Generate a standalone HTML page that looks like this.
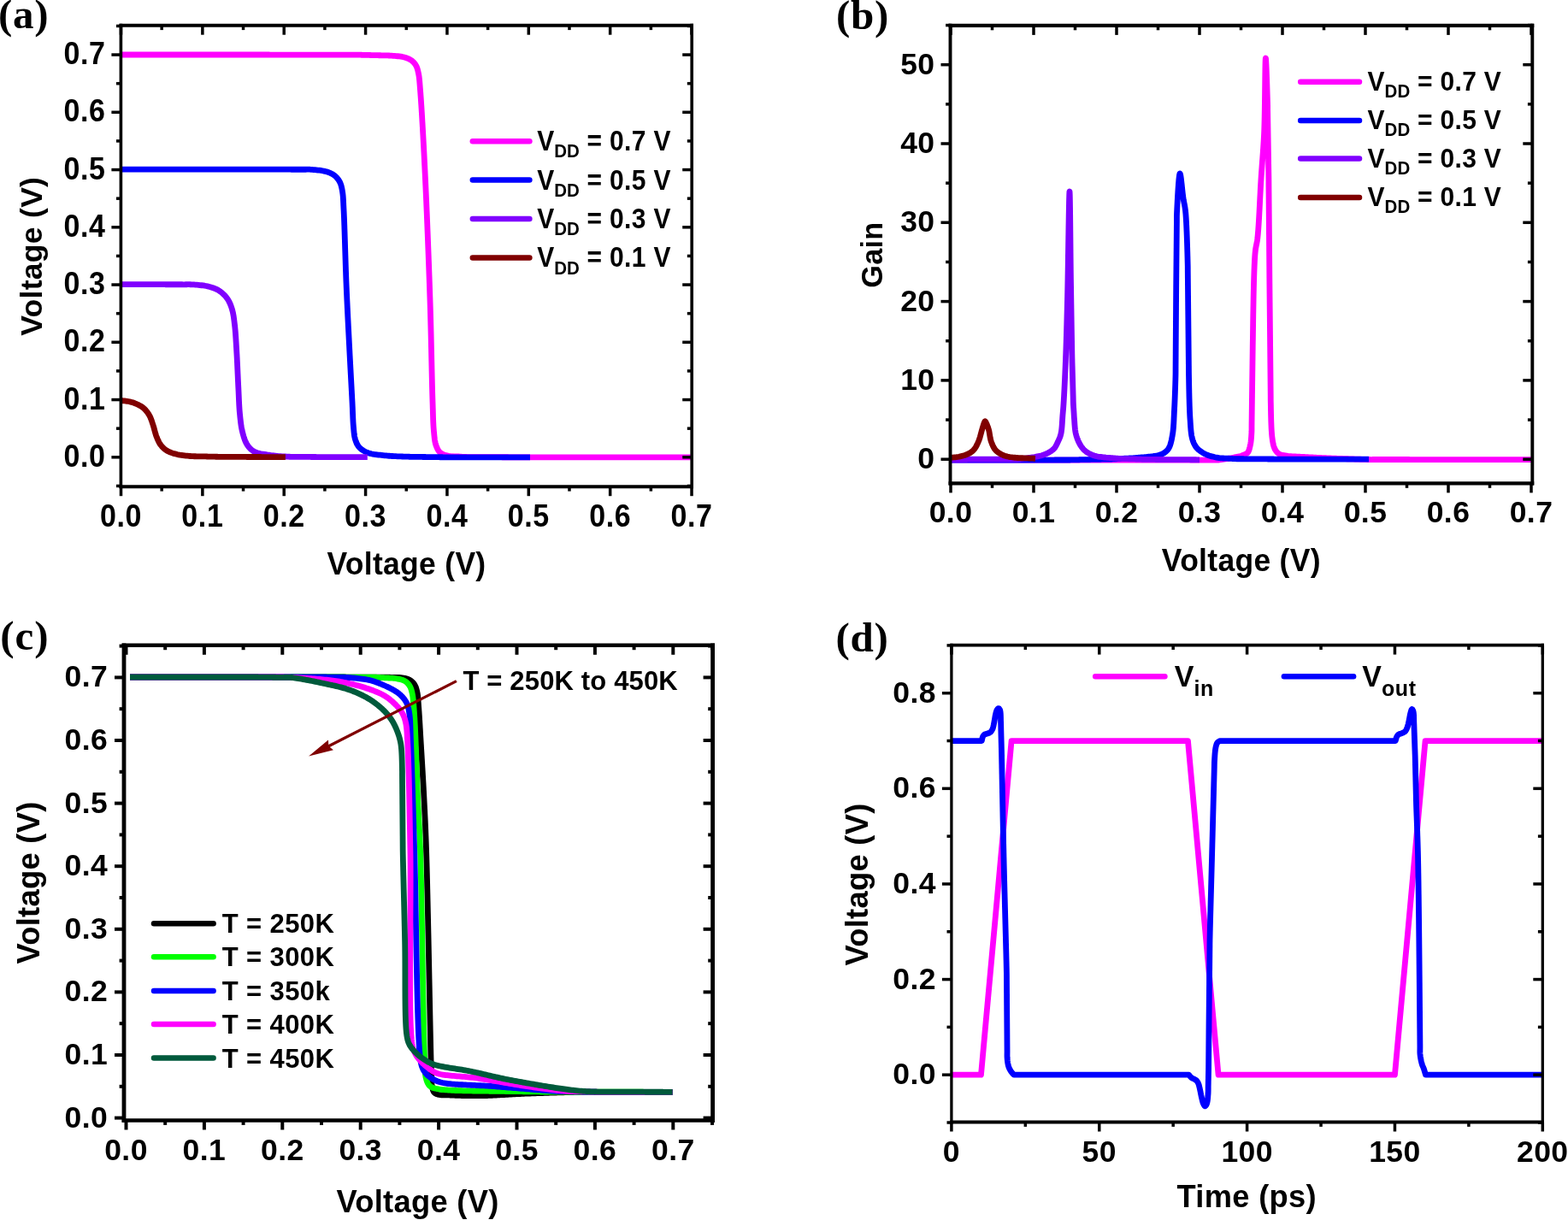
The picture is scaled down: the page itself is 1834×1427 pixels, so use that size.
<!DOCTYPE html>
<html><head><meta charset="utf-8"><title>Figure</title>
<style>html,body{margin:0;padding:0;background:#fff;}svg{display:block;}</style>
</head><body>
<svg width="1834" height="1427" viewBox="0 0 1834 1427">
<rect width="1834" height="1427" fill="#fff"/>
<clipPath id="ca"><rect x="141.4" y="29.7" width="667.8" height="539.5"/></clipPath>
<g clip-path="url(#ca)">
<path d="M141.5,64 L142.89,64 L144.28,64 L145.67,64 L147.06,64 L148.45,64 L149.84,64 L151.23,64 L152.62,64 L154.01,64 L155.4,64 L156.79,64 L158.18,64 L159.57,64 L160.96,64 L162.36,64 L163.75,64 L165.14,64 L166.53,64 L167.92,64 L169.31,64 L170.7,64 L172.09,64 L173.48,64 L174.87,64 L176.26,64 L177.65,64 L179.04,64 L180.43,64 L181.82,64 L183.21,64 L184.6,64 L185.99,64 L187.38,64 L188.77,64 L190.16,64 L191.55,64 L192.94,64 L194.33,64 L195.72,64 L197.11,64 L198.5,64 L199.89,64 L201.29,64 L202.68,64 L204.07,64 L205.46,64 L206.85,64 L208.24,64 L209.63,64 L211.02,64 L212.41,64 L213.8,64 L215.19,64 L216.58,64 L217.97,64 L219.36,64 L220.75,64 L222.14,64 L223.53,64 L224.92,64 L226.31,64 L227.7,64 L229.09,64 L230.48,64 L231.87,64 L233.26,64 L234.65,64 L236.04,64 L237.43,64 L238.82,64 L240.21,64 L241.61,64 L243,64 L244.39,64 L245.78,64 L247.17,64 L248.56,64 L249.95,64 L251.34,64 L252.73,64 L254.12,64 L255.51,64 L256.9,64 L258.29,64 L259.68,64 L261.07,64 L262.46,64 L263.85,64 L265.24,64 L266.63,64 L268.02,64 L269.41,64 L270.8,64 L272.19,64 L273.58,64 L274.97,64 L276.36,64 L277.75,64 L279.14,64 L280.54,64 L281.93,64 L283.32,64 L284.71,64 L286.1,64 L287.49,64 L288.88,64 L290.27,64 L291.66,64 L293.05,64 L294.45,64 L295.84,64 L297.23,64 L298.62,64 L300,64 L301.34,64 L302.68,64 L304.01,64.01 L305.34,64.01 L306.67,64.01 L308,64.01 L309.33,64.02 L310.67,64.02 L312,64.02 L313.33,64.02 L314.67,64.02 L316,64.03 L317.33,64.03 L318.67,64.03 L320,64.03 L321.33,64.04 L322.67,64.04 L324,64.04 L325.33,64.04 L326.67,64.04 L328,64.05 L329.33,64.05 L330.67,64.05 L332,64.05 L333.33,64.06 L334.67,64.06 L336,64.06 L337.33,64.06 L338.67,64.06 L340,64.07 L341.33,64.07 L342.67,64.07 L344,64.07 L345.33,64.08 L346.67,64.08 L348,64.08 L349.33,64.08 L350.67,64.08 L352,64.09 L353.33,64.09 L354.67,64.09 L356,64.09 L357.33,64.1 L358.67,64.1 L360,64.1 L361.33,64.1 L362.67,64.1 L364,64.11 L365.33,64.11 L366.67,64.11 L368,64.11 L369.33,64.12 L370.67,64.12 L372,64.12 L373.33,64.12 L374.67,64.12 L376,64.13 L377.33,64.13 L378.67,64.13 L380,64.13 L381.33,64.14 L382.67,64.14 L384,64.14 L385.33,64.14 L386.67,64.14 L388,64.15 L389.33,64.15 L390.67,64.15 L392,64.15 L393.33,64.16 L394.67,64.16 L396,64.16 L397.33,64.16 L398.67,64.16 L400,64.17 L401.33,64.17 L402.67,64.17 L404,64.17 L405.33,64.18 L406.67,64.18 L408,64.18 L409.33,64.18 L410.67,64.18 L412,64.19 L413.33,64.19 L414.65,64.18 L415.98,64.18 L417.31,64.18 L418.65,64.19 L420,64.2 L421.44,64.22 L422.89,64.25 L424.35,64.29 L425.82,64.33 L427.29,64.36 L428.75,64.4 L430.21,64.43 L431.67,64.47 L433.13,64.5 L434.58,64.53 L436.04,64.57 L437.5,64.6 L438.96,64.63 L440.42,64.67 L441.88,64.7 L443.33,64.73 L444.79,64.77 L446.25,64.8 L447.68,64.82 L449.06,64.83 L450.45,64.84 L451.87,64.87 L453.38,64.91 L455,65 L456.5,65.09 L458.14,65.19 L459.87,65.3 L461.68,65.42 L463.51,65.57 L465.35,65.74 L467.15,65.94 L468.88,66.19 L470.51,66.47 L472,66.8 L473.73,67.27 L475.36,67.77 L476.9,68.34 L478.35,68.97 L479.72,69.69 L481,70.5 L482.1,71.33 L483.12,72.22 L484.08,73.19 L484.96,74.23 L485.77,75.33 L486.5,76.5 L487.2,77.87 L487.79,79.31 L488.28,80.84 L488.72,82.46 L489.11,84.18 L489.5,86 L489.77,87.42 L490.01,88.84 L490.22,90.3 L490.4,91.8 L490.56,93.36 L490.71,95 L490.86,96.73 L491,98.58 L491.15,100.57 L491.32,102.7 L491.5,105 L491.62,106.51 L491.74,108.08 L491.87,109.74 L491.99,111.46 L492.12,113.25 L492.25,115.1 L492.39,117.02 L492.52,119 L492.65,121.04 L492.79,123.13 L492.93,125.27 L493.07,127.47 L493.2,129.71 L493.35,132 L493.49,134.34 L493.63,136.72 L493.77,139.13 L493.91,141.58 L494.06,144.07 L494.2,146.59 L494.35,149.13 L494.49,151.71 L494.63,154.31 L494.78,156.93 L494.92,159.57 L495.07,162.23 L495.21,164.91 L495.35,167.6 L495.5,170.3 L495.64,173 L495.78,175.72 L495.92,178.43 L496.06,181.15 L496.2,183.87 L496.33,186.58 L496.47,189.28 L496.6,191.98 L496.74,194.67 L496.87,197.34 L497,200 L497.16,203.37 L497.33,206.78 L497.49,210.25 L497.65,213.77 L497.82,217.33 L497.98,220.93 L498.15,224.57 L498.31,228.25 L498.47,231.97 L498.64,235.72 L498.8,239.5 L498.96,243.3 L499.13,247.13 L499.29,250.98 L499.45,254.86 L499.61,258.75 L499.77,262.66 L499.93,266.57 L500.08,270.5 L500.24,274.44 L500.39,278.38 L500.55,282.33 L500.7,286.27 L500.85,290.22 L501,294.16 L501.15,298.09 L501.29,302.01 L501.44,305.92 L501.58,309.81 L501.72,313.69 L501.86,317.55 L501.99,321.39 L502.13,325.2 L502.26,328.99 L502.39,332.74 L502.52,336.47 L502.64,340.16 L502.76,343.81 L502.88,347.43 L503,351 L503.1,354.16 L503.2,357.35 L503.3,360.56 L503.39,363.79 L503.48,367.03 L503.57,370.29 L503.66,373.56 L503.74,376.83 L503.83,380.12 L503.91,383.4 L503.99,386.68 L504.07,389.96 L504.15,393.24 L504.22,396.51 L504.3,399.76 L504.37,403.01 L504.44,406.24 L504.52,409.45 L504.59,412.63 L504.66,415.8 L504.72,418.94 L504.79,422.04 L504.86,425.12 L504.93,428.16 L504.99,431.17 L505.06,434.14 L505.13,437.06 L505.19,439.94 L505.26,442.77 L505.32,445.55 L505.39,448.28 L505.45,450.95 L505.52,453.56 L505.59,456.11 L505.65,458.6 L505.72,461.02 L505.79,463.38 L505.86,465.66 L505.93,467.87 L506,470 L506.08,472.35 L506.15,474.63 L506.21,476.83 L506.28,478.97 L506.34,481.04 L506.39,483.06 L506.45,485.01 L506.5,486.9 L506.56,488.75 L506.62,490.54 L506.69,492.29 L506.76,494 L506.84,495.67 L506.92,497.3 L507.02,498.89 L507.12,500.46 L507.23,501.99 L507.36,503.51 L507.5,505 L507.68,506.88 L507.85,508.7 L508.02,510.44 L508.2,512.13 L508.4,513.75 L508.63,515.32 L508.89,516.82 L509.2,518.27 L509.57,519.66 L510,521 L510.63,522.67 L511.3,524.27 L512.05,525.77 L512.9,527.15 L513.87,528.4 L515,529.5 L516.17,530.34 L517.49,531.06 L518.93,531.66 L520.43,532.17 L521.98,532.6 L523.51,532.97 L525,533.3 L526.41,533.54 L527.83,533.69 L529.26,533.77 L530.7,533.8 L532.13,533.82 L533.57,533.84 L535,533.9 L536.43,533.99 L537.87,534.09 L539.31,534.19 L540.74,534.28 L542.17,534.37 L543.59,534.44 L545,534.5 L546.55,534.54 L548.08,534.55 L549.61,534.56 L551.13,534.55 L552.64,534.55 L554.17,534.55 L555.69,534.56 L557.22,534.57 L558.75,534.58 L560.28,534.58 L561.81,534.59 L563.33,534.6 L564.86,534.61 L566.39,534.62 L567.92,534.62 L569.44,534.63 L570.97,534.64 L572.5,534.65 L574.03,534.66 L575.56,534.67 L577.08,534.67 L578.61,534.68 L580.14,534.69 L581.67,534.7 L583.19,534.71 L584.72,534.72 L586.25,534.72 L587.78,534.73 L589.31,534.74 L590.83,534.75 L592.37,534.76 L593.91,534.77 L595.45,534.78 L596.99,534.79 L598.51,534.79 L600,534.8 L601.37,534.8 L602.72,534.8 L604.05,534.8 L605.38,534.8 L606.7,534.8 L608.04,534.8 L609.38,534.8 L610.72,534.8 L612.06,534.8 L613.4,534.8 L614.74,534.8 L616.08,534.8 L617.42,534.8 L618.76,534.8 L620.1,534.8 L621.44,534.8 L622.78,534.8 L624.12,534.8 L625.46,534.8 L626.79,534.8 L628.13,534.8 L629.47,534.8 L630.81,534.8 L632.15,534.8 L633.49,534.8 L634.83,534.8 L636.17,534.8 L637.51,534.8 L638.85,534.8 L640.19,534.8 L641.53,534.8 L642.87,534.8 L644.21,534.8 L645.55,534.8 L646.89,534.8 L648.23,534.8 L649.57,534.8 L650.91,534.8 L652.25,534.8 L653.59,534.8 L654.93,534.8 L656.27,534.8 L657.61,534.8 L658.95,534.8 L660.29,534.8 L661.63,534.8 L662.97,534.8 L664.31,534.8 L665.65,534.8 L666.99,534.8 L668.33,534.8 L669.67,534.8 L671.01,534.8 L672.35,534.8 L673.69,534.8 L675.03,534.8 L676.37,534.8 L677.71,534.8 L679.04,534.8 L680.38,534.8 L681.72,534.8 L683.06,534.8 L684.4,534.8 L685.74,534.8 L687.08,534.8 L688.42,534.8 L689.76,534.8 L691.1,534.8 L692.44,534.8 L693.78,534.8 L695.12,534.8 L696.46,534.8 L697.8,534.8 L699.14,534.8 L700.48,534.8 L701.82,534.8 L703.16,534.8 L704.5,534.8 L705.84,534.8 L707.18,534.8 L708.52,534.8 L709.86,534.8 L711.2,534.8 L712.54,534.8 L713.88,534.8 L715.22,534.8 L716.56,534.8 L717.9,534.8 L719.24,534.8 L720.58,534.8 L721.92,534.8 L723.26,534.8 L724.6,534.8 L725.94,534.8 L727.28,534.8 L728.62,534.8 L729.96,534.8 L731.29,534.8 L732.63,534.8 L733.97,534.8 L735.31,534.8 L736.65,534.8 L737.99,534.8 L739.33,534.8 L740.67,534.8 L742.01,534.8 L743.35,534.8 L744.69,534.8 L746.03,534.8 L747.37,534.8 L748.71,534.8 L750.05,534.8 L751.39,534.8 L752.73,534.8 L754.07,534.8 L755.41,534.8 L756.75,534.8 L758.09,534.8 L759.43,534.8 L760.77,534.8 L762.11,534.8 L763.45,534.8 L764.79,534.8 L766.13,534.8 L767.47,534.8 L768.81,534.8 L770.15,534.8 L771.49,534.8 L772.83,534.8 L774.17,534.8 L775.51,534.8 L776.85,534.8 L778.19,534.8 L779.53,534.8 L780.87,534.8 L782.21,534.8 L783.54,534.8 L784.88,534.8 L786.22,534.8 L787.56,534.8 L788.9,534.8 L790.24,534.8 L791.58,534.8 L792.92,534.8 L794.26,534.8 L795.6,534.8 L796.94,534.8 L798.28,534.8 L799.62,534.8 L800.96,534.8 L802.3,534.8 L803.64,534.8 L804.98,534.8 L806.32,534.8 L807.66,534.8 L809,534.8" fill="none" stroke="#ff00ff" stroke-width="6.8" stroke-linejoin="round" stroke-linecap="butt"/>
<path d="M141.5,198.1 L142.89,198.1 L144.28,198.1 L145.67,198.1 L147.06,198.1 L148.45,198.1 L149.84,198.1 L151.23,198.1 L152.62,198.1 L154.01,198.1 L155.4,198.1 L156.79,198.1 L158.18,198.1 L159.57,198.1 L160.96,198.1 L162.36,198.1 L163.75,198.1 L165.14,198.1 L166.53,198.1 L167.92,198.1 L169.31,198.1 L170.7,198.1 L172.09,198.1 L173.48,198.1 L174.87,198.1 L176.26,198.1 L177.65,198.1 L179.04,198.1 L180.43,198.1 L181.82,198.1 L183.21,198.1 L184.6,198.1 L185.99,198.1 L187.38,198.1 L188.77,198.1 L190.16,198.1 L191.55,198.1 L192.94,198.1 L194.33,198.1 L195.72,198.1 L197.11,198.1 L198.5,198.1 L199.89,198.1 L201.29,198.1 L202.68,198.1 L204.07,198.1 L205.46,198.1 L206.85,198.1 L208.24,198.1 L209.63,198.1 L211.02,198.1 L212.41,198.1 L213.8,198.1 L215.19,198.1 L216.58,198.1 L217.97,198.1 L219.36,198.1 L220.75,198.1 L222.14,198.1 L223.53,198.1 L224.92,198.1 L226.31,198.1 L227.7,198.1 L229.09,198.1 L230.48,198.1 L231.87,198.1 L233.26,198.1 L234.65,198.1 L236.04,198.1 L237.43,198.1 L238.82,198.1 L240.21,198.1 L241.61,198.1 L243,198.1 L244.39,198.1 L245.78,198.1 L247.17,198.1 L248.56,198.1 L249.95,198.1 L251.34,198.1 L252.73,198.1 L254.12,198.1 L255.51,198.1 L256.9,198.1 L258.29,198.1 L259.68,198.1 L261.07,198.1 L262.46,198.1 L263.85,198.1 L265.24,198.1 L266.63,198.1 L268.02,198.1 L269.41,198.1 L270.8,198.1 L272.19,198.1 L273.58,198.1 L274.97,198.1 L276.36,198.1 L277.75,198.1 L279.14,198.1 L280.54,198.1 L281.93,198.1 L283.32,198.1 L284.71,198.1 L286.1,198.1 L287.49,198.1 L288.88,198.1 L290.27,198.1 L291.66,198.1 L293.04,198.1 L294.43,198.1 L295.81,198.1 L297.19,198.1 L298.59,198.1 L300,198.1 L301.49,198.1 L303,198.11 L304.53,198.11 L306.05,198.12 L307.58,198.12 L309.1,198.13 L310.62,198.13 L312.13,198.14 L313.65,198.14 L315.17,198.15 L316.68,198.15 L318.2,198.16 L319.72,198.16 L321.23,198.17 L322.75,198.17 L324.27,198.18 L325.78,198.18 L327.3,198.19 L328.82,198.19 L330.33,198.2 L331.85,198.2 L333.37,198.2 L334.88,198.21 L336.4,198.21 L337.92,198.22 L339.43,198.22 L340.95,198.23 L342.47,198.23 L343.98,198.24 L345.5,198.24 L347.02,198.25 L348.53,198.25 L350.05,198.26 L351.57,198.26 L353.08,198.27 L354.6,198.27 L356.08,198.26 L357.52,198.23 L358.96,198.2 L360.44,198.18 L362.01,198.21 L363.7,198.3 L365.14,198.4 L366.7,198.52 L368.36,198.66 L370.09,198.82 L371.86,199.01 L373.65,199.22 L375.42,199.47 L377.14,199.74 L378.8,200.06 L380.36,200.41 L381.8,200.8 L383.41,201.32 L384.94,201.87 L386.39,202.47 L387.78,203.13 L389.09,203.84 L390.33,204.63 L391.5,205.5 L392.71,206.55 L393.84,207.69 L394.89,208.91 L395.84,210.21 L396.72,211.57 L397.5,213 L398.14,214.38 L398.67,215.82 L399.13,217.31 L399.52,218.87 L399.87,220.5 L400.19,222.21 L400.5,224 L400.73,225.45 L400.92,226.9 L401.08,228.38 L401.22,229.88 L401.33,231.44 L401.43,233.06 L401.52,234.75 L401.61,236.53 L401.69,238.41 L401.78,240.4 L401.88,242.53 L402,244.8 L402.08,246.31 L402.16,247.9 L402.23,249.57 L402.31,251.31 L402.39,253.12 L402.47,255.01 L402.54,256.95 L402.62,258.96 L402.7,261.02 L402.77,263.14 L402.85,265.31 L402.92,267.53 L403,269.79 L403.08,272.09 L403.15,274.43 L403.23,276.81 L403.3,279.22 L403.38,281.65 L403.46,284.11 L403.54,286.59 L403.61,289.09 L403.69,291.6 L403.77,294.12 L403.85,296.65 L403.93,299.19 L404.01,301.72 L404.09,304.26 L404.17,306.79 L404.25,309.31 L404.33,311.82 L404.41,314.31 L404.5,316.78 L404.58,319.24 L404.67,321.66 L404.75,324.06 L404.84,326.42 L404.93,328.76 L405.02,331.05 L405.11,333.3 L405.2,335.5 L405.29,337.52 L405.37,339.54 L405.46,341.56 L405.55,343.58 L405.64,345.6 L405.73,347.61 L405.82,349.63 L405.91,351.64 L406.01,353.65 L406.1,355.66 L406.2,357.66 L406.29,359.67 L406.39,361.67 L406.48,363.66 L406.58,365.65 L406.68,367.64 L406.77,369.62 L406.87,371.6 L406.97,373.57 L407.07,375.54 L407.17,377.5 L407.27,379.46 L407.36,381.41 L407.46,383.35 L407.56,385.29 L407.66,387.22 L407.76,389.14 L407.86,391.05 L407.96,392.96 L408.05,394.85 L408.15,396.74 L408.25,398.62 L408.34,400.49 L408.44,402.35 L408.53,404.2 L408.63,406.04 L408.72,407.87 L408.82,409.69 L408.91,411.5 L409,413.3 L409.1,415.34 L409.21,417.38 L409.31,419.41 L409.42,421.45 L409.53,423.48 L409.63,425.5 L409.74,427.52 L409.84,429.53 L409.95,431.53 L410.06,433.53 L410.16,435.51 L410.27,437.48 L410.37,439.45 L410.48,441.39 L410.58,443.33 L410.69,445.25 L410.79,447.15 L410.89,449.04 L410.99,450.91 L411.09,452.76 L411.19,454.59 L411.28,456.4 L411.38,458.18 L411.47,459.95 L411.57,461.69 L411.66,463.4 L411.74,465.09 L411.83,466.76 L411.92,468.39 L412,470 L412.1,472.03 L412.19,474.03 L412.28,476.01 L412.36,477.95 L412.43,479.86 L412.5,481.75 L412.57,483.59 L412.65,485.41 L412.72,487.19 L412.79,488.93 L412.87,490.63 L412.95,492.3 L413.04,493.92 L413.14,495.51 L413.25,497.05 L413.37,498.55 L413.5,500 L413.67,501.81 L413.82,503.54 L413.97,505.2 L414.14,506.79 L414.32,508.32 L414.54,509.8 L414.8,511.23 L415.11,512.63 L415.5,514 L415.97,515.45 L416.47,516.84 L417.01,518.19 L417.62,519.48 L418.31,520.71 L419.1,521.89 L420,523 L421.11,524.14 L422.33,525.21 L423.67,526.21 L425.11,527.14 L426.65,527.99 L428.28,528.78 L430,529.5 L431.38,529.99 L432.83,530.41 L434.35,530.78 L435.93,531.1 L437.56,531.38 L439.25,531.63 L440.97,531.85 L442.73,532.06 L444.52,532.24 L446.33,532.43 L448.16,532.61 L450,532.8 L451.63,532.96 L453.36,533.11 L455.17,533.25 L457.04,533.38 L458.95,533.5 L460.9,533.6 L462.86,533.7 L464.83,533.79 L466.78,533.87 L468.7,533.94 L470.57,534.01 L472.39,534.07 L474.13,534.12 L475.77,534.17 L477.31,534.22 L478.72,534.26 L480,534.3 L481.63,534.34 L483.04,534.37 L484.32,534.38 L485.52,534.38 L486.73,534.39 L488,534.4 L489.33,534.42 L490.67,534.43 L492,534.45 L493.33,534.47 L494.67,534.48 L496,534.5 L497.33,534.52 L498.67,534.53 L500,534.55 L501.33,534.57 L502.67,534.58 L504,534.6 L505.33,534.62 L506.67,534.63 L508,534.65 L509.33,534.67 L510.67,534.68 L512,534.7 L513.33,534.72 L514.66,534.74 L515.99,534.76 L517.32,534.77 L518.66,534.79 L520,534.8 L521.38,534.81 L522.77,534.81 L524.16,534.81 L525.55,534.8 L526.94,534.8 L528.33,534.8 L529.72,534.8 L531.11,534.8 L532.5,534.8 L533.89,534.8 L535.28,534.8 L536.67,534.8 L538.06,534.8 L539.44,534.8 L540.83,534.8 L542.22,534.8 L543.61,534.8 L545,534.8 L546.39,534.8 L547.78,534.8 L549.17,534.8 L550.56,534.8 L551.94,534.8 L553.33,534.8 L554.72,534.8 L556.11,534.8 L557.5,534.8 L558.89,534.8 L560.28,534.8 L561.67,534.8 L563.06,534.8 L564.44,534.8 L565.83,534.8 L567.22,534.8 L568.61,534.8 L570,534.8 L571.39,534.8 L572.78,534.8 L574.17,534.8 L575.56,534.8 L576.94,534.8 L578.33,534.8 L579.72,534.8 L581.11,534.8 L582.5,534.8 L583.89,534.8 L585.28,534.8 L586.67,534.8 L588.06,534.8 L589.44,534.8 L590.83,534.8 L592.22,534.8 L593.61,534.8 L595,534.8 L596.39,534.8 L597.78,534.8 L599.17,534.8 L600.56,534.8 L601.94,534.8 L603.33,534.8 L604.72,534.8 L606.11,534.8 L607.5,534.8 L608.89,534.8 L610.28,534.8 L611.67,534.8 L613.06,534.8 L614.44,534.8 L615.83,534.8 L617.22,534.8 L618.61,534.8 L620,534.8" fill="none" stroke="#0000ff" stroke-width="6.8" stroke-linejoin="round" stroke-linecap="butt"/>
<path d="M141.5,332.6 L142.88,332.6 L144.25,332.61 L145.62,332.61 L147,332.61 L148.38,332.62 L149.75,332.62 L151.12,332.62 L152.5,332.63 L153.88,332.63 L155.25,332.63 L156.62,332.64 L158,332.64 L159.38,332.64 L160.75,332.65 L162.12,332.65 L163.5,332.65 L164.88,332.66 L166.25,332.66 L167.62,332.66 L169,332.67 L170.38,332.67 L171.75,332.67 L173.13,332.68 L174.5,332.68 L175.88,332.68 L177.25,332.69 L178.62,332.69 L180,332.69 L181.38,332.7 L182.75,332.7 L184.12,332.7 L185.5,332.71 L186.88,332.71 L188.25,332.71 L189.62,332.72 L191,332.72 L192.37,332.72 L193.75,332.73 L195.12,332.73 L196.5,332.73 L197.88,332.74 L199.25,332.74 L200.62,332.74 L202,332.75 L203.38,332.75 L204.75,332.75 L206.12,332.76 L207.5,332.76 L208.87,332.76 L210.25,332.77 L211.62,332.77 L213,332.77 L214.38,332.78 L215.75,332.78 L217.08,332.77 L218.37,332.74 L219.65,332.72 L220.98,332.71 L222.42,332.73 L224,332.8 L225.4,332.89 L226.93,332.98 L228.58,333.1 L230.31,333.23 L232.11,333.38 L233.95,333.55 L235.79,333.75 L237.62,333.98 L239.41,334.23 L241.14,334.52 L242.78,334.84 L244.3,335.2 L246.02,335.66 L247.67,336.16 L249.26,336.69 L250.8,337.26 L252.29,337.89 L253.73,338.59 L255.13,339.35 L256.5,340.2 L257.85,341.14 L259.16,342.15 L260.44,343.24 L261.68,344.39 L262.85,345.6 L263.97,346.86 L265.02,348.16 L266,349.5 L266.9,350.89 L267.73,352.34 L268.49,353.84 L269.18,355.38 L269.82,356.97 L270.41,358.6 L270.97,360.28 L271.5,362 L271.91,363.48 L272.28,364.98 L272.61,366.51 L272.9,368.07 L273.17,369.66 L273.42,371.29 L273.64,372.95 L273.86,374.65 L274.07,376.39 L274.28,378.17 L274.5,380 L274.68,381.55 L274.85,383.14 L275,384.76 L275.15,386.41 L275.3,388.09 L275.43,389.8 L275.56,391.53 L275.68,393.29 L275.8,395.07 L275.92,396.88 L276.03,398.7 L276.14,400.54 L276.25,402.4 L276.36,404.28 L276.47,406.18 L276.58,408.08 L276.7,410 L276.8,411.72 L276.9,413.48 L277,415.28 L277.1,417.11 L277.2,418.96 L277.29,420.84 L277.39,422.74 L277.48,424.66 L277.57,426.59 L277.66,428.53 L277.75,430.48 L277.84,432.43 L277.93,434.38 L278.01,436.32 L278.1,438.26 L278.19,440.18 L278.27,442.09 L278.36,443.98 L278.45,445.84 L278.54,447.68 L278.62,449.49 L278.71,451.26 L278.8,453 L278.9,454.97 L278.99,456.92 L279.08,458.85 L279.16,460.77 L279.24,462.68 L279.32,464.56 L279.4,466.43 L279.48,468.28 L279.57,470.11 L279.65,471.92 L279.75,473.72 L279.85,475.49 L279.96,477.23 L280.07,478.96 L280.2,480.66 L280.35,482.34 L280.5,484 L280.69,485.91 L280.88,487.79 L281.06,489.64 L281.26,491.46 L281.47,493.25 L281.69,495.01 L281.92,496.74 L282.18,498.45 L282.46,500.13 L282.78,501.78 L283.12,503.4 L283.5,505 L283.97,506.83 L284.46,508.65 L284.97,510.44 L285.52,512.2 L286.11,513.91 L286.74,515.55 L287.43,517.13 L288.18,518.61 L289,520 L289.93,521.4 L290.89,522.71 L291.91,523.93 L293.01,525.07 L294.21,526.13 L295.53,527.1 L297,528 L298.27,528.63 L299.65,529.19 L301.14,529.68 L302.7,530.12 L304.34,530.51 L306.04,530.86 L307.78,531.17 L309.54,531.46 L311.32,531.73 L313.1,531.99 L314.86,532.24 L316.6,532.5 L318.36,532.75 L320.2,532.97 L322.09,533.18 L324.03,533.36 L325.99,533.52 L327.95,533.67 L329.89,533.79 L331.79,533.91 L333.63,534.01 L335.39,534.1 L337.05,534.17 L338.6,534.24 L340,534.3 L341.57,534.35 L342.98,534.37 L344.26,534.38 L345.49,534.37 L346.71,534.36 L348,534.36 L349.33,534.37 L350.67,534.38 L352,534.39 L353.33,534.4 L354.67,534.41 L356,534.42 L357.33,534.43 L358.67,534.44 L360,534.45 L361.33,534.46 L362.67,534.47 L364,534.48 L365.33,534.49 L366.67,534.5 L368,534.51 L369.33,534.52 L370.67,534.53 L372,534.54 L373.33,534.55 L374.66,534.56 L375.99,534.57 L377.32,534.58 L378.66,534.59 L380,534.6 L381.37,534.6 L382.76,534.6 L384.14,534.6 L385.53,534.6 L386.91,534.6 L388.3,534.6 L389.68,534.6 L391.07,534.6 L392.45,534.6 L393.83,534.6 L395.22,534.6 L396.6,534.6 L397.98,534.6 L399.37,534.6 L400.75,534.6 L402.13,534.6 L403.52,534.6 L404.9,534.6 L406.28,534.6 L407.67,534.6 L409.05,534.6 L410.43,534.6 L411.82,534.6 L413.2,534.6 L414.58,534.6 L415.97,534.6 L417.35,534.6 L418.73,534.6 L420.12,534.6 L421.5,534.6 L422.88,534.6 L424.27,534.6 L425.65,534.6 L427.03,534.6 L428.42,534.6 L429.8,534.6" fill="none" stroke="#8000ff" stroke-width="6.8" stroke-linejoin="round" stroke-linecap="butt"/>
<path d="M141.5,468.5 L142.92,468.65 L144.35,468.78 L145.77,468.92 L147.2,469.07 L148.61,469.26 L150,469.5 L151.35,469.78 L152.68,470.09 L154,470.44 L155.32,470.83 L156.65,471.28 L158,471.8 L159.36,472.37 L160.76,472.99 L162.18,473.67 L163.59,474.4 L164.96,475.2 L166.27,476.06 L167.5,477 L168.66,478.02 L169.77,479.12 L170.82,480.29 L171.82,481.53 L172.77,482.81 L173.66,484.14 L174.5,485.5 L175.21,486.81 L175.85,488.17 L176.44,489.58 L176.98,491.02 L177.5,492.49 L178,493.99 L178.49,495.49 L179,497 L179.47,498.46 L179.91,499.96 L180.33,501.5 L180.74,503.05 L181.15,504.6 L181.57,506.13 L182.01,507.64 L182.49,509.1 L183,510.5 L183.62,512.06 L184.25,513.59 L184.91,515.08 L185.6,516.53 L186.34,517.92 L187.13,519.25 L188,520.5 L189,521.76 L190.04,522.95 L191.16,524.07 L192.34,525.11 L193.62,526.09 L195,527 L196.31,527.74 L197.71,528.42 L199.19,529.04 L200.73,529.61 L202.33,530.14 L203.96,530.63 L205.62,531.08 L207.3,531.5 L208.87,531.85 L210.53,532.16 L212.25,532.43 L214.01,532.67 L215.78,532.88 L217.54,533.07 L219.27,533.23 L220.94,533.37 L222.52,533.49 L224,533.6 L225.66,533.7 L227.2,533.75 L228.67,533.77 L230.1,533.78 L231.53,533.78 L233,533.8 L234.5,533.83 L236,533.87 L237.5,533.9 L239,533.93 L240.5,533.97 L242,534 L243.5,534.03 L245,534.07 L246.5,534.1 L248,534.13 L249.5,534.17 L251,534.2 L252.5,534.24 L254.02,534.27 L255.53,534.31 L257.03,534.35 L258.52,534.38 L260,534.4 L261.39,534.41 L262.76,534.42 L264.13,534.42 L265.49,534.42 L266.85,534.42 L268.21,534.42 L269.58,534.43 L270.95,534.43 L272.32,534.43 L273.69,534.44 L275.05,534.44 L276.42,534.44 L277.79,534.45 L279.16,534.45 L280.53,534.46 L281.9,534.46 L283.26,534.46 L284.63,534.47 L286,534.47 L287.37,534.47 L288.74,534.48 L290.11,534.48 L291.48,534.49 L292.84,534.49 L294.21,534.49 L295.58,534.5 L296.95,534.5 L298.32,534.5 L299.69,534.51 L301.06,534.51 L302.42,534.51 L303.79,534.52 L305.16,534.52 L306.53,534.53 L307.9,534.53 L309.27,534.53 L310.64,534.54 L312,534.54 L313.37,534.54 L314.74,534.55 L316.11,534.55 L317.48,534.56 L318.85,534.56 L320.21,534.56 L321.58,534.57 L322.95,534.57 L324.32,534.57 L325.69,534.58 L327.06,534.58 L328.43,534.59 L329.79,534.59 L331.16,534.59 L332.53,534.6 L333.9,534.6" fill="none" stroke="#800000" stroke-width="6.8" stroke-linejoin="round" stroke-linecap="butt"/>
</g>
<line x1="141.5" y1="569.2" x2="141.5" y2="580.2" stroke="#000" stroke-width="3.5" stroke-linecap="butt"/>
<line x1="141.5" y1="29.7" x2="141.5" y2="40.7" stroke="#000" stroke-width="3.5" stroke-linecap="butt"/>
<line x1="236.86" y1="569.2" x2="236.86" y2="580.2" stroke="#000" stroke-width="3.5" stroke-linecap="butt"/>
<line x1="236.86" y1="29.7" x2="236.86" y2="40.7" stroke="#000" stroke-width="3.5" stroke-linecap="butt"/>
<line x1="332.22" y1="569.2" x2="332.22" y2="580.2" stroke="#000" stroke-width="3.5" stroke-linecap="butt"/>
<line x1="332.22" y1="29.7" x2="332.22" y2="40.7" stroke="#000" stroke-width="3.5" stroke-linecap="butt"/>
<line x1="427.58" y1="569.2" x2="427.58" y2="580.2" stroke="#000" stroke-width="3.5" stroke-linecap="butt"/>
<line x1="427.58" y1="29.7" x2="427.58" y2="40.7" stroke="#000" stroke-width="3.5" stroke-linecap="butt"/>
<line x1="522.94" y1="569.2" x2="522.94" y2="580.2" stroke="#000" stroke-width="3.5" stroke-linecap="butt"/>
<line x1="522.94" y1="29.7" x2="522.94" y2="40.7" stroke="#000" stroke-width="3.5" stroke-linecap="butt"/>
<line x1="618.3" y1="569.2" x2="618.3" y2="580.2" stroke="#000" stroke-width="3.5" stroke-linecap="butt"/>
<line x1="618.3" y1="29.7" x2="618.3" y2="40.7" stroke="#000" stroke-width="3.5" stroke-linecap="butt"/>
<line x1="713.66" y1="569.2" x2="713.66" y2="580.2" stroke="#000" stroke-width="3.5" stroke-linecap="butt"/>
<line x1="713.66" y1="29.7" x2="713.66" y2="40.7" stroke="#000" stroke-width="3.5" stroke-linecap="butt"/>
<line x1="809.02" y1="569.2" x2="809.02" y2="580.2" stroke="#000" stroke-width="3.5" stroke-linecap="butt"/>
<line x1="809.02" y1="29.7" x2="809.02" y2="40.7" stroke="#000" stroke-width="3.5" stroke-linecap="butt"/>
<line x1="189.18" y1="569.2" x2="189.18" y2="574.6" stroke="#000" stroke-width="3.5" stroke-linecap="butt"/>
<line x1="189.18" y1="29.7" x2="189.18" y2="35.1" stroke="#000" stroke-width="3.5" stroke-linecap="butt"/>
<line x1="284.54" y1="569.2" x2="284.54" y2="574.6" stroke="#000" stroke-width="3.5" stroke-linecap="butt"/>
<line x1="284.54" y1="29.7" x2="284.54" y2="35.1" stroke="#000" stroke-width="3.5" stroke-linecap="butt"/>
<line x1="379.9" y1="569.2" x2="379.9" y2="574.6" stroke="#000" stroke-width="3.5" stroke-linecap="butt"/>
<line x1="379.9" y1="29.7" x2="379.9" y2="35.1" stroke="#000" stroke-width="3.5" stroke-linecap="butt"/>
<line x1="475.26" y1="569.2" x2="475.26" y2="574.6" stroke="#000" stroke-width="3.5" stroke-linecap="butt"/>
<line x1="475.26" y1="29.7" x2="475.26" y2="35.1" stroke="#000" stroke-width="3.5" stroke-linecap="butt"/>
<line x1="570.62" y1="569.2" x2="570.62" y2="574.6" stroke="#000" stroke-width="3.5" stroke-linecap="butt"/>
<line x1="570.62" y1="29.7" x2="570.62" y2="35.1" stroke="#000" stroke-width="3.5" stroke-linecap="butt"/>
<line x1="665.98" y1="569.2" x2="665.98" y2="574.6" stroke="#000" stroke-width="3.5" stroke-linecap="butt"/>
<line x1="665.98" y1="29.7" x2="665.98" y2="35.1" stroke="#000" stroke-width="3.5" stroke-linecap="butt"/>
<line x1="761.34" y1="569.2" x2="761.34" y2="574.6" stroke="#000" stroke-width="3.5" stroke-linecap="butt"/>
<line x1="761.34" y1="29.7" x2="761.34" y2="35.1" stroke="#000" stroke-width="3.5" stroke-linecap="butt"/>
<line x1="130.4" y1="534.8" x2="141.4" y2="534.8" stroke="#000" stroke-width="3.5" stroke-linecap="butt"/>
<line x1="798.2" y1="534.8" x2="809.2" y2="534.8" stroke="#000" stroke-width="3.5" stroke-linecap="butt"/>
<line x1="130.4" y1="467.55" x2="141.4" y2="467.55" stroke="#000" stroke-width="3.5" stroke-linecap="butt"/>
<line x1="798.2" y1="467.55" x2="809.2" y2="467.55" stroke="#000" stroke-width="3.5" stroke-linecap="butt"/>
<line x1="130.4" y1="400.3" x2="141.4" y2="400.3" stroke="#000" stroke-width="3.5" stroke-linecap="butt"/>
<line x1="798.2" y1="400.3" x2="809.2" y2="400.3" stroke="#000" stroke-width="3.5" stroke-linecap="butt"/>
<line x1="130.4" y1="333.05" x2="141.4" y2="333.05" stroke="#000" stroke-width="3.5" stroke-linecap="butt"/>
<line x1="798.2" y1="333.05" x2="809.2" y2="333.05" stroke="#000" stroke-width="3.5" stroke-linecap="butt"/>
<line x1="130.4" y1="265.8" x2="141.4" y2="265.8" stroke="#000" stroke-width="3.5" stroke-linecap="butt"/>
<line x1="798.2" y1="265.8" x2="809.2" y2="265.8" stroke="#000" stroke-width="3.5" stroke-linecap="butt"/>
<line x1="130.4" y1="198.55" x2="141.4" y2="198.55" stroke="#000" stroke-width="3.5" stroke-linecap="butt"/>
<line x1="798.2" y1="198.55" x2="809.2" y2="198.55" stroke="#000" stroke-width="3.5" stroke-linecap="butt"/>
<line x1="130.4" y1="131.3" x2="141.4" y2="131.3" stroke="#000" stroke-width="3.5" stroke-linecap="butt"/>
<line x1="798.2" y1="131.3" x2="809.2" y2="131.3" stroke="#000" stroke-width="3.5" stroke-linecap="butt"/>
<line x1="130.4" y1="64.05" x2="141.4" y2="64.05" stroke="#000" stroke-width="3.5" stroke-linecap="butt"/>
<line x1="798.2" y1="64.05" x2="809.2" y2="64.05" stroke="#000" stroke-width="3.5" stroke-linecap="butt"/>
<line x1="136" y1="568.42" x2="141.4" y2="568.42" stroke="#000" stroke-width="3.5" stroke-linecap="butt"/>
<line x1="803.8" y1="568.42" x2="809.2" y2="568.42" stroke="#000" stroke-width="3.5" stroke-linecap="butt"/>
<line x1="136" y1="501.17" x2="141.4" y2="501.17" stroke="#000" stroke-width="3.5" stroke-linecap="butt"/>
<line x1="803.8" y1="501.17" x2="809.2" y2="501.17" stroke="#000" stroke-width="3.5" stroke-linecap="butt"/>
<line x1="136" y1="433.92" x2="141.4" y2="433.92" stroke="#000" stroke-width="3.5" stroke-linecap="butt"/>
<line x1="803.8" y1="433.92" x2="809.2" y2="433.92" stroke="#000" stroke-width="3.5" stroke-linecap="butt"/>
<line x1="136" y1="366.67" x2="141.4" y2="366.67" stroke="#000" stroke-width="3.5" stroke-linecap="butt"/>
<line x1="803.8" y1="366.67" x2="809.2" y2="366.67" stroke="#000" stroke-width="3.5" stroke-linecap="butt"/>
<line x1="136" y1="299.42" x2="141.4" y2="299.42" stroke="#000" stroke-width="3.5" stroke-linecap="butt"/>
<line x1="803.8" y1="299.42" x2="809.2" y2="299.42" stroke="#000" stroke-width="3.5" stroke-linecap="butt"/>
<line x1="136" y1="232.17" x2="141.4" y2="232.17" stroke="#000" stroke-width="3.5" stroke-linecap="butt"/>
<line x1="803.8" y1="232.17" x2="809.2" y2="232.17" stroke="#000" stroke-width="3.5" stroke-linecap="butt"/>
<line x1="136" y1="164.93" x2="141.4" y2="164.93" stroke="#000" stroke-width="3.5" stroke-linecap="butt"/>
<line x1="803.8" y1="164.93" x2="809.2" y2="164.93" stroke="#000" stroke-width="3.5" stroke-linecap="butt"/>
<line x1="136" y1="97.68" x2="141.4" y2="97.68" stroke="#000" stroke-width="3.5" stroke-linecap="butt"/>
<line x1="803.8" y1="97.68" x2="809.2" y2="97.68" stroke="#000" stroke-width="3.5" stroke-linecap="butt"/>
<line x1="136" y1="30.42" x2="141.4" y2="30.42" stroke="#000" stroke-width="3.5" stroke-linecap="butt"/>
<line x1="803.8" y1="30.42" x2="809.2" y2="30.42" stroke="#000" stroke-width="3.5" stroke-linecap="butt"/>
<line x1="139.6" y1="29.7" x2="811" y2="29.7" stroke="#000" stroke-width="4.1" stroke-linecap="butt"/>
<line x1="139.6" y1="569.2" x2="811" y2="569.2" stroke="#000" stroke-width="4.1" stroke-linecap="butt"/>
<line x1="141.4" y1="27.65" x2="141.4" y2="571.25" stroke="#000" stroke-width="3.6" stroke-linecap="butt"/>
<line x1="809.2" y1="27.65" x2="809.2" y2="571.25" stroke="#000" stroke-width="3.6" stroke-linecap="butt"/>
<text transform="translate(141.5 615.6) scale(1.0000 1.0600)" font-size="34" text-anchor="middle" font-weight="bold" font-family="'Liberation Sans', Arial, sans-serif" letter-spacing="0.6">0.0</text>
<text transform="translate(123.6 545.8) scale(1.0000 1.0600)" font-size="34" text-anchor="end" font-weight="bold" font-family="'Liberation Sans', Arial, sans-serif" letter-spacing="0.6">0.0</text>
<text transform="translate(236.86 615.6) scale(1.0000 1.0600)" font-size="34" text-anchor="middle" font-weight="bold" font-family="'Liberation Sans', Arial, sans-serif" letter-spacing="0.6">0.1</text>
<text transform="translate(123.6 478.55) scale(1.0000 1.0600)" font-size="34" text-anchor="end" font-weight="bold" font-family="'Liberation Sans', Arial, sans-serif" letter-spacing="0.6">0.1</text>
<text transform="translate(332.22 615.6) scale(1.0000 1.0600)" font-size="34" text-anchor="middle" font-weight="bold" font-family="'Liberation Sans', Arial, sans-serif" letter-spacing="0.6">0.2</text>
<text transform="translate(123.6 411.3) scale(1.0000 1.0600)" font-size="34" text-anchor="end" font-weight="bold" font-family="'Liberation Sans', Arial, sans-serif" letter-spacing="0.6">0.2</text>
<text transform="translate(427.58 615.6) scale(1.0000 1.0600)" font-size="34" text-anchor="middle" font-weight="bold" font-family="'Liberation Sans', Arial, sans-serif" letter-spacing="0.6">0.3</text>
<text transform="translate(123.6 344.05) scale(1.0000 1.0600)" font-size="34" text-anchor="end" font-weight="bold" font-family="'Liberation Sans', Arial, sans-serif" letter-spacing="0.6">0.3</text>
<text transform="translate(522.94 615.6) scale(1.0000 1.0600)" font-size="34" text-anchor="middle" font-weight="bold" font-family="'Liberation Sans', Arial, sans-serif" letter-spacing="0.6">0.4</text>
<text transform="translate(123.6 276.8) scale(1.0000 1.0600)" font-size="34" text-anchor="end" font-weight="bold" font-family="'Liberation Sans', Arial, sans-serif" letter-spacing="0.6">0.4</text>
<text transform="translate(618.3 615.6) scale(1.0000 1.0600)" font-size="34" text-anchor="middle" font-weight="bold" font-family="'Liberation Sans', Arial, sans-serif" letter-spacing="0.6">0.5</text>
<text transform="translate(123.6 209.55) scale(1.0000 1.0600)" font-size="34" text-anchor="end" font-weight="bold" font-family="'Liberation Sans', Arial, sans-serif" letter-spacing="0.6">0.5</text>
<text transform="translate(713.66 615.6) scale(1.0000 1.0600)" font-size="34" text-anchor="middle" font-weight="bold" font-family="'Liberation Sans', Arial, sans-serif" letter-spacing="0.6">0.6</text>
<text transform="translate(123.6 142.3) scale(1.0000 1.0600)" font-size="34" text-anchor="end" font-weight="bold" font-family="'Liberation Sans', Arial, sans-serif" letter-spacing="0.6">0.6</text>
<text transform="translate(809.02 615.6) scale(1.0000 1.0600)" font-size="34" text-anchor="middle" font-weight="bold" font-family="'Liberation Sans', Arial, sans-serif" letter-spacing="0.6">0.7</text>
<text transform="translate(123.6 75.05) scale(1.0000 1.0600)" font-size="34" text-anchor="end" font-weight="bold" font-family="'Liberation Sans', Arial, sans-serif" letter-spacing="0.6">0.7</text>
<text transform="translate(475.5 671.7) scale(1.0000 1.0300)" font-size="35.5" text-anchor="middle" font-weight="bold" font-family="'Liberation Sans', Arial, sans-serif" letter-spacing="0.3">Voltage (V)</text>
<text transform="translate(48.8 299.8) rotate(-90)" font-size="35.5" text-anchor="middle" font-weight="bold" font-family="'Liberation Sans', Arial, sans-serif" letter-spacing="0.3">Voltage (V)</text>
<line x1="552.8" y1="165.2" x2="619.4" y2="165.2" stroke="#ff00ff" stroke-width="6.5" stroke-linecap="round"/>
<text transform="translate(628.2 176.2) scale(1 1.09)" font-size="30" font-weight="bold" font-family="'Liberation Sans', Arial, sans-serif">V<tspan font-size="20.5" dy="7.6">DD</tspan><tspan dy="-7.6" letter-spacing="0.35"> = 0.7 V</tspan></text>
<line x1="552.8" y1="210.6" x2="619.4" y2="210.6" stroke="#0000ff" stroke-width="6.5" stroke-linecap="round"/>
<text transform="translate(628.2 221.6) scale(1 1.09)" font-size="30" font-weight="bold" font-family="'Liberation Sans', Arial, sans-serif">V<tspan font-size="20.5" dy="7.6">DD</tspan><tspan dy="-7.6" letter-spacing="0.35"> = 0.5 V</tspan></text>
<line x1="552.8" y1="256" x2="619.4" y2="256" stroke="#8000ff" stroke-width="6.5" stroke-linecap="round"/>
<text transform="translate(628.2 267) scale(1 1.09)" font-size="30" font-weight="bold" font-family="'Liberation Sans', Arial, sans-serif">V<tspan font-size="20.5" dy="7.6">DD</tspan><tspan dy="-7.6" letter-spacing="0.35"> = 0.3 V</tspan></text>
<line x1="552.8" y1="301.4" x2="619.4" y2="301.4" stroke="#800000" stroke-width="6.5" stroke-linecap="round"/>
<text transform="translate(628.2 312.4) scale(1 1.09)" font-size="30" font-weight="bold" font-family="'Liberation Sans', Arial, sans-serif">V<tspan font-size="20.5" dy="7.6">DD</tspan><tspan dy="-7.6" letter-spacing="0.35"> = 0.1 V</tspan></text>
<text transform="translate(-2 33.1)" font-size="49" text-anchor="start" font-weight="bold" font-family="'Liberation Serif', 'Times New Roman', serif" letter-spacing="0.7">(a)</text>
<clipPath id="cb"><rect x="1111.5" y="29.9" width="680.8" height="535.5"/></clipPath>
<g clip-path="url(#cb)">
<path d="M1112,538 L1113.33,538 L1114.67,538 L1116,538 L1117.33,538 L1118.67,538 L1120,538.01 L1121.33,538.01 L1122.67,538.01 L1124,538.01 L1125.33,538.01 L1126.67,538.01 L1128,538.01 L1129.33,538.01 L1130.67,538.01 L1132,538.01 L1133.33,538.01 L1134.67,538.02 L1136,538.02 L1137.33,538.02 L1138.67,538.02 L1140,538.02 L1141.33,538.02 L1142.67,538.02 L1144,538.02 L1145.33,538.02 L1146.67,538.02 L1148,538.03 L1149.33,538.03 L1150.67,538.03 L1152,538.03 L1153.33,538.03 L1154.67,538.03 L1156,538.03 L1157.33,538.03 L1158.67,538.03 L1160,538.03 L1161.33,538.03 L1162.67,538.04 L1164,538.04 L1165.33,538.04 L1166.67,538.04 L1168,538.04 L1169.33,538.04 L1170.67,538.04 L1172,538.04 L1173.33,538.04 L1174.67,538.04 L1176,538.04 L1177.33,538.05 L1178.67,538.05 L1180,538.05 L1181.33,538.05 L1182.67,538.05 L1184,538.05 L1185.33,538.05 L1186.67,538.05 L1188,538.05 L1189.33,538.05 L1190.67,538.05 L1192,538.06 L1193.33,538.06 L1194.67,538.06 L1196,538.06 L1197.33,538.06 L1198.67,538.06 L1200,538.06 L1201.33,538.06 L1202.67,538.06 L1204,538.06 L1205.33,538.06 L1206.67,538.07 L1208,538.07 L1209.33,538.07 L1210.67,538.07 L1212,538.07 L1213.33,538.07 L1214.67,538.07 L1216,538.07 L1217.33,538.07 L1218.67,538.07 L1220,538.08 L1221.33,538.08 L1222.67,538.08 L1224,538.08 L1225.33,538.08 L1226.67,538.08 L1228,538.08 L1229.33,538.08 L1230.67,538.08 L1232,538.08 L1233.33,538.08 L1234.67,538.09 L1236,538.09 L1237.33,538.09 L1238.67,538.09 L1240,538.09 L1241.33,538.09 L1242.67,538.09 L1244,538.09 L1245.33,538.09 L1246.67,538.09 L1248,538.09 L1249.33,538.1 L1250.67,538.1 L1252,538.1 L1253.33,538.1 L1254.67,538.1 L1256,538.1 L1257.33,538.1 L1258.67,538.1 L1260,538.1 L1261.33,538.1 L1262.67,538.1 L1264,538.11 L1265.33,538.11 L1266.67,538.11 L1268,538.11 L1269.33,538.11 L1270.67,538.11 L1272,538.11 L1273.33,538.11 L1274.67,538.11 L1276,538.11 L1277.33,538.11 L1278.67,538.12 L1280,538.12 L1281.33,538.12 L1282.67,538.12 L1284,538.12 L1285.33,538.12 L1286.67,538.12 L1288,538.12 L1289.33,538.12 L1290.67,538.12 L1292,538.12 L1293.33,538.13 L1294.67,538.13 L1296,538.13 L1297.33,538.13 L1298.67,538.13 L1300,538.13 L1301.33,538.13 L1302.67,538.13 L1304,538.13 L1305.33,538.13 L1306.67,538.14 L1308,538.14 L1309.33,538.14 L1310.67,538.14 L1312,538.14 L1313.33,538.14 L1314.67,538.14 L1316,538.14 L1317.33,538.14 L1318.67,538.14 L1320,538.14 L1321.33,538.15 L1322.67,538.15 L1324,538.15 L1325.33,538.15 L1326.67,538.15 L1328,538.15 L1329.33,538.15 L1330.67,538.15 L1332,538.15 L1333.33,538.15 L1334.67,538.15 L1336,538.16 L1337.33,538.16 L1338.67,538.16 L1340,538.16 L1341.33,538.16 L1342.67,538.16 L1344,538.16 L1345.33,538.16 L1346.67,538.16 L1348,538.16 L1349.33,538.16 L1350.67,538.17 L1352,538.17 L1353.33,538.17 L1354.67,538.17 L1356,538.17 L1357.33,538.17 L1358.67,538.17 L1360,538.17 L1361.33,538.17 L1362.67,538.17 L1364,538.17 L1365.33,538.18 L1366.67,538.18 L1368,538.18 L1369.33,538.18 L1370.67,538.18 L1372,538.18 L1373.33,538.18 L1374.67,538.18 L1376,538.18 L1377.33,538.18 L1378.67,538.19 L1380,538.19 L1381.33,538.19 L1382.67,538.19 L1384,538.19 L1385.33,538.19 L1386.67,538.19 L1388,538.19 L1389.33,538.19 L1390.67,538.19 L1392,538.19 L1393.33,538.2 L1394.66,538.2 L1395.99,538.2 L1397.32,538.2 L1398.66,538.2 L1400,538.2 L1401.38,538.19 L1402.77,538.18 L1404.16,538.17 L1405.55,538.16 L1406.94,538.15 L1408.33,538.13 L1409.72,538.12 L1411.11,538.11 L1412.5,538.1 L1413.89,538.09 L1415.28,538.08 L1416.67,538.07 L1418.03,538.07 L1419.38,538.09 L1420.72,538.11 L1422.09,538.11 L1423.51,538.08 L1425,538 L1426.51,537.87 L1428.11,537.7 L1429.78,537.49 L1431.48,537.25 L1433.18,537 L1434.86,536.73 L1436.47,536.46 L1438,536.2 L1439.62,535.9 L1441.2,535.59 L1442.72,535.27 L1444.2,534.94 L1445.63,534.62 L1447,534.3 L1448.28,534.02 L1449.5,533.77 L1450.67,533.51 L1451.83,533.2 L1453,532.8 L1454.32,532.32 L1455.69,531.81 L1457.02,531.21 L1458.25,530.46 L1459.3,529.5 L1460.02,528.48 L1460.61,527.29 L1461.09,525.96 L1461.5,524.54 L1461.86,523.05 L1462.18,521.52 L1462.5,520 L1462.78,518.55 L1463.01,517.02 L1463.21,515.41 L1463.38,513.77 L1463.52,512.13 L1463.64,510.5 L1463.73,508.91 L1463.82,507.41 L1463.9,506 L1463.97,504.53 L1464,503.14 L1464.01,501.82 L1464,500.53 L1464,499.24 L1464.01,497.92 L1464.03,496.57 L1464.04,495.22 L1464.06,493.87 L1464.08,492.53 L1464.1,491.18 L1464.12,489.83 L1464.13,488.48 L1464.15,487.14 L1464.17,485.79 L1464.19,484.44 L1464.21,483.09 L1464.22,481.75 L1464.24,480.4 L1464.26,479.05 L1464.28,477.7 L1464.29,476.36 L1464.31,475.01 L1464.33,473.66 L1464.35,472.31 L1464.37,470.97 L1464.38,469.62 L1464.4,468.27 L1464.42,466.92 L1464.44,465.58 L1464.46,464.23 L1464.47,462.88 L1464.49,461.53 L1464.51,460.19 L1464.53,458.84 L1464.55,457.49 L1464.56,456.14 L1464.58,454.8 L1464.6,453.45 L1464.62,452.1 L1464.64,450.76 L1464.65,449.41 L1464.67,448.06 L1464.69,446.71 L1464.71,445.37 L1464.73,444.02 L1464.74,442.67 L1464.76,441.32 L1464.78,439.98 L1464.8,438.63 L1464.82,437.28 L1464.83,435.93 L1464.85,434.59 L1464.87,433.24 L1464.89,431.89 L1464.91,430.54 L1464.92,429.2 L1464.94,427.85 L1464.96,426.5 L1464.98,425.15 L1464.99,423.81 L1465.01,422.46 L1465.03,421.11 L1465.05,419.76 L1465.07,418.42 L1465.08,417.07 L1465.1,415.72 L1465.12,414.37 L1465.14,413.03 L1465.16,411.68 L1465.17,410.33 L1465.19,408.98 L1465.21,407.74 L1465.22,406.63 L1465.23,405.51 L1465.24,404.27 L1465.27,402.78 L1465.3,400.9 L1465.32,399.66 L1465.35,398.22 L1465.37,396.6 L1465.4,394.8 L1465.43,392.84 L1465.46,390.72 L1465.49,388.45 L1465.53,386.05 L1465.56,383.52 L1465.6,380.88 L1465.64,378.13 L1465.68,375.28 L1465.73,372.35 L1465.77,369.33 L1465.82,366.25 L1465.88,363.11 L1465.93,359.92 L1465.99,356.7 L1466.05,353.44 L1466.11,350.16 L1466.17,346.88 L1466.24,343.59 L1466.31,340.32 L1466.39,337.06 L1466.47,333.84 L1466.55,330.65 L1466.63,327.51 L1466.72,324.43 L1466.82,321.42 L1466.91,318.49 L1467.01,315.65 L1467.12,312.9 L1467.22,310.26 L1467.34,307.73 L1467.45,305.34 L1467.57,303.08 L1467.7,300.97 L1467.83,299.01 L1467.96,297.22 L1468.1,295.6 L1468.34,293.29 L1468.61,291.31 L1468.88,289.59 L1469.17,288.05 L1469.47,286.61 L1469.77,285.18 L1470.06,283.68 L1470.35,282.04 L1470.63,280.17 L1470.9,278 L1471.04,276.7 L1471.17,275.33 L1471.3,273.89 L1471.43,272.38 L1471.56,270.81 L1471.69,269.18 L1471.81,267.5 L1471.93,265.76 L1472.05,263.98 L1472.17,262.15 L1472.29,260.28 L1472.4,258.37 L1472.52,256.42 L1472.63,254.45 L1472.74,252.44 L1472.85,250.41 L1472.96,248.36 L1473.07,246.29 L1473.18,244.2 L1473.28,242.1 L1473.39,239.99 L1473.5,237.88 L1473.6,235.77 L1473.71,233.66 L1473.81,231.55 L1473.92,229.45 L1474.03,227.37 L1474.13,225.3 L1474.24,223.25 L1474.34,221.22 L1474.45,219.21 L1474.56,217.23 L1474.66,215.29 L1474.77,213.38 L1474.88,211.51 L1474.99,209.68 L1475.1,207.9 L1475.23,205.9 L1475.36,203.94 L1475.49,202.01 L1475.62,200.11 L1475.76,198.23 L1475.89,196.37 L1476.03,194.53 L1476.16,192.71 L1476.3,190.9 L1476.43,189.1 L1476.57,187.31 L1476.71,185.53 L1476.84,183.74 L1476.97,181.96 L1477.1,180.17 L1477.24,178.38 L1477.36,176.57 L1477.49,174.76 L1477.62,172.93 L1477.74,171.08 L1477.86,169.21 L1477.97,167.32 L1478.09,165.4 L1478.2,163.45 L1478.3,161.47 L1478.41,159.45 L1478.51,157.4 L1478.6,155.3 L1478.68,153.33 L1478.76,151.23 L1478.83,149.01 L1478.9,146.68 L1478.96,144.25 L1479.03,141.73 L1479.08,139.13 L1479.14,136.46 L1479.19,133.72 L1479.24,130.94 L1479.29,128.1 L1479.33,125.23 L1479.37,122.34 L1479.41,119.43 L1479.45,116.51 L1479.49,113.59 L1479.53,110.68 L1479.56,107.8 L1479.59,104.94 L1479.63,102.12 L1479.66,99.35 L1479.69,96.63 L1479.72,93.98 L1479.75,91.41 L1479.78,88.92 L1479.81,86.53 L1479.85,84.24 L1479.88,82.06 L1479.91,80 L1479.95,78.07 L1479.98,76.28 L1480.02,74.64 L1480.06,73.16 L1480.1,71.85 L1480.15,70.71 L1480.19,69.76 L1480.24,69 L1480.29,68.45 L1480.34,68.12 L1480.4,68 L1480.47,68.16 L1480.54,68.62 L1480.61,69.36 L1480.69,70.36 L1480.77,71.6 L1480.85,73.07 L1480.94,74.73 L1481.03,76.58 L1481.12,78.58 L1481.21,80.73 L1481.3,82.99 L1481.39,85.36 L1481.48,87.8 L1481.57,90.3 L1481.66,92.85 L1481.74,95.41 L1481.83,97.96 L1481.91,100.5 L1481.99,102.99 L1482.06,105.43 L1482.14,107.77 L1482.2,110.02 L1482.27,112.14 L1482.33,114.12 L1482.38,115.94 L1482.43,117.57 L1482.47,119 L1482.5,120.2 L1482.55,122.09 L1482.58,123.67 L1482.6,125.04 L1482.61,126.32 L1482.62,127.59 L1482.64,128.97 L1482.66,130.43 L1482.69,131.89 L1482.71,133.36 L1482.73,134.82 L1482.76,136.28 L1482.78,137.74 L1482.8,139.2 L1482.83,140.66 L1482.85,142.12 L1482.87,143.59 L1482.9,145.05 L1482.92,146.51 L1482.94,147.97 L1482.97,149.43 L1482.99,150.89 L1483.01,152.36 L1483.04,153.82 L1483.06,155.28 L1483.08,156.74 L1483.11,158.2 L1483.13,159.67 L1483.15,161.13 L1483.18,162.59 L1483.2,164.05 L1483.22,165.51 L1483.25,166.97 L1483.27,168.44 L1483.29,169.9 L1483.32,171.36 L1483.34,172.82 L1483.36,174.28 L1483.39,175.74 L1483.41,177.2 L1483.43,178.67 L1483.46,180.13 L1483.48,181.59 L1483.5,183.05 L1483.53,184.51 L1483.55,185.98 L1483.57,187.44 L1483.6,188.9 L1483.62,190.36 L1483.64,191.82 L1483.67,193.28 L1483.69,194.75 L1483.71,196.21 L1483.74,197.67 L1483.76,199.13 L1483.78,200.6 L1483.81,202.06 L1483.83,203.53 L1483.86,205 L1483.88,206.46 L1483.9,207.9 L1483.92,209.28 L1483.93,210.65 L1483.94,212.01 L1483.95,213.37 L1483.96,214.73 L1483.97,216.09 L1483.98,217.45 L1483.99,218.82 L1484,220.18 L1484.01,221.54 L1484.02,222.91 L1484.03,224.27 L1484.04,225.64 L1484.06,227 L1484.07,228.37 L1484.08,229.73 L1484.09,231.1 L1484.1,232.46 L1484.11,233.82 L1484.12,235.19 L1484.13,236.55 L1484.14,237.92 L1484.16,239.28 L1484.17,240.65 L1484.18,242.01 L1484.19,243.38 L1484.2,244.74 L1484.21,246.1 L1484.22,247.47 L1484.23,248.83 L1484.24,250.2 L1484.26,251.56 L1484.27,252.93 L1484.28,254.29 L1484.29,255.66 L1484.3,257.02 L1484.31,258.38 L1484.32,259.75 L1484.33,261.11 L1484.34,262.48 L1484.36,263.84 L1484.37,265.21 L1484.38,266.57 L1484.39,267.94 L1484.4,269.3 L1484.41,270.66 L1484.42,272.03 L1484.43,273.39 L1484.44,274.76 L1484.46,276.12 L1484.47,277.49 L1484.48,278.85 L1484.49,280.22 L1484.5,281.58 L1484.51,282.94 L1484.52,284.31 L1484.53,285.67 L1484.54,287.04 L1484.56,288.4 L1484.57,289.77 L1484.58,291.13 L1484.59,292.5 L1484.6,293.86 L1484.61,295.22 L1484.62,296.59 L1484.63,297.95 L1484.64,299.32 L1484.66,300.68 L1484.67,302.05 L1484.68,303.41 L1484.69,304.78 L1484.7,306.14 L1484.71,307.5 L1484.72,308.87 L1484.73,310.23 L1484.74,311.6 L1484.76,312.96 L1484.77,314.33 L1484.78,315.69 L1484.79,317.06 L1484.8,318.42 L1484.81,319.78 L1484.82,321.15 L1484.83,322.51 L1484.84,323.88 L1484.85,325.24 L1484.87,326.6 L1484.88,327.97 L1484.89,329.33 L1484.9,330.7 L1484.91,332.07 L1484.93,333.45 L1484.94,334.82 L1484.95,336.2 L1484.97,337.58 L1484.98,338.95 L1485,340.33 L1485.01,341.7 L1485.02,343.08 L1485.04,344.45 L1485.05,345.83 L1485.06,347.21 L1485.08,348.58 L1485.09,349.96 L1485.11,351.33 L1485.12,352.71 L1485.13,354.08 L1485.15,355.46 L1485.16,356.83 L1485.17,358.21 L1485.19,359.59 L1485.2,360.96 L1485.22,362.34 L1485.23,363.71 L1485.24,365.09 L1485.26,366.46 L1485.27,367.84 L1485.28,369.21 L1485.3,370.59 L1485.31,371.96 L1485.33,373.34 L1485.34,374.72 L1485.35,376.09 L1485.37,377.47 L1485.38,378.84 L1485.39,380.22 L1485.41,381.59 L1485.42,382.97 L1485.44,384.34 L1485.45,385.72 L1485.46,387.1 L1485.48,388.47 L1485.49,389.85 L1485.5,391.22 L1485.52,392.6 L1485.53,393.97 L1485.55,395.35 L1485.56,396.72 L1485.57,398.1 L1485.59,399.47 L1485.6,400.85 L1485.61,402.23 L1485.63,403.6 L1485.64,404.98 L1485.65,406.35 L1485.67,407.73 L1485.68,409.1 L1485.7,410.48 L1485.71,411.85 L1485.72,413.23 L1485.74,414.6 L1485.75,415.98 L1485.76,417.36 L1485.78,418.73 L1485.79,420.11 L1485.81,421.48 L1485.82,422.86 L1485.83,424.23 L1485.85,425.61 L1485.86,426.98 L1485.87,428.36 L1485.89,429.74 L1485.9,431.11 L1485.92,432.49 L1485.93,433.86 L1485.94,435.24 L1485.96,436.61 L1485.97,437.99 L1485.98,439.36 L1486,440.74 L1486.01,442.11 L1486.03,443.49 L1486.04,444.87 L1486.05,446.24 L1486.07,447.62 L1486.08,448.99 L1486.09,450.37 L1486.11,451.74 L1486.12,453.12 L1486.14,454.49 L1486.15,455.87 L1486.16,457.25 L1486.18,458.62 L1486.19,460 L1486.2,461.37 L1486.22,462.75 L1486.23,464.05 L1486.23,465.27 L1486.23,466.48 L1486.24,467.78 L1486.26,469.26 L1486.3,471 L1486.33,472.24 L1486.36,473.64 L1486.39,475.19 L1486.42,476.87 L1486.45,478.66 L1486.49,480.56 L1486.53,482.54 L1486.57,484.59 L1486.62,486.69 L1486.68,488.83 L1486.74,491 L1486.8,493.17 L1486.88,495.34 L1486.96,497.49 L1487.05,499.59 L1487.15,501.65 L1487.26,503.63 L1487.39,505.53 L1487.52,507.34 L1487.67,509.03 L1487.83,510.59 L1488,512 L1488.28,514.03 L1488.55,515.92 L1488.84,517.69 L1489.15,519.34 L1489.51,520.89 L1489.93,522.34 L1490.42,523.71 L1491,525 L1491.82,526.48 L1492.72,527.83 L1493.73,529.04 L1494.85,530.1 L1496.1,531 L1497.35,531.64 L1498.71,532.11 L1500.18,532.46 L1501.72,532.72 L1503.33,532.96 L1505,533.2 L1506.51,533.4 L1508.15,533.57 L1509.86,533.7 L1511.63,533.81 L1513.41,533.9 L1515.17,533.98 L1516.88,534.05 L1518.5,534.12 L1520,534.2 L1521.53,534.29 L1522.96,534.36 L1524.32,534.43 L1525.65,534.5 L1526.97,534.56 L1528.33,534.63 L1529.72,534.71 L1531.11,534.78 L1532.5,534.85 L1533.89,534.92 L1535.28,534.99 L1536.67,535.07 L1537.97,535.14 L1539.17,535.2 L1540.38,535.27 L1541.68,535.34 L1543.19,535.42 L1545,535.5 L1546.15,535.55 L1547.46,535.61 L1548.92,535.67 L1550.51,535.73 L1552.23,535.8 L1554.07,535.88 L1556.01,535.96 L1558.03,536.04 L1560.14,536.12 L1562.3,536.21 L1564.53,536.29 L1566.79,536.38 L1569.09,536.47 L1571.4,536.56 L1573.71,536.64 L1576.02,536.73 L1578.32,536.81 L1580.58,536.89 L1582.8,536.97 L1584.96,537.05 L1587.06,537.12 L1589.08,537.19 L1591,537.25 L1592.83,537.31 L1594.54,537.36 L1596.13,537.41 L1597.57,537.45 L1598.87,537.48 L1600,537.5 L1601.75,537.52 L1603.2,537.53 L1604.45,537.53 L1605.6,537.52 L1606.75,537.51 L1608,537.5 L1609.33,537.5 L1610.67,537.51 L1612,537.51 L1613.33,537.51 L1614.67,537.51 L1616,537.51 L1617.33,537.51 L1618.67,537.51 L1620,537.51 L1621.33,537.51 L1622.67,537.51 L1624,537.51 L1625.33,537.51 L1626.67,537.51 L1628,537.51 L1629.33,537.52 L1630.67,537.52 L1632,537.52 L1633.33,537.52 L1634.67,537.52 L1636,537.52 L1637.33,537.52 L1638.67,537.52 L1640,537.52 L1641.33,537.52 L1642.67,537.52 L1644,537.52 L1645.33,537.52 L1646.67,537.52 L1648,537.52 L1649.33,537.53 L1650.67,537.53 L1652,537.53 L1653.33,537.53 L1654.67,537.53 L1656,537.53 L1657.33,537.53 L1658.67,537.53 L1660,537.53 L1661.33,537.53 L1662.67,537.53 L1664,537.53 L1665.33,537.53 L1666.67,537.53 L1668,537.54 L1669.33,537.54 L1670.67,537.54 L1672,537.54 L1673.33,537.54 L1674.67,537.54 L1676,537.54 L1677.33,537.54 L1678.67,537.54 L1680,537.54 L1681.33,537.54 L1682.67,537.54 L1684,537.54 L1685.33,537.54 L1686.67,537.55 L1688,537.55 L1689.33,537.55 L1690.67,537.55 L1692,537.55 L1693.33,537.55 L1694.67,537.55 L1696,537.55 L1697.33,537.55 L1698.67,537.55 L1700,537.55 L1701.33,537.55 L1702.67,537.55 L1704,537.55 L1705.33,537.55 L1706.67,537.56 L1708,537.56 L1709.33,537.56 L1710.67,537.56 L1712,537.56 L1713.33,537.56 L1714.67,537.56 L1716,537.56 L1717.33,537.56 L1718.67,537.56 L1720,537.56 L1721.33,537.56 L1722.67,537.56 L1724,537.56 L1725.33,537.57 L1726.67,537.57 L1728,537.57 L1729.33,537.57 L1730.67,537.57 L1732,537.57 L1733.33,537.57 L1734.67,537.57 L1736,537.57 L1737.33,537.57 L1738.67,537.57 L1740,537.57 L1741.33,537.57 L1742.67,537.57 L1744,537.58 L1745.33,537.58 L1746.67,537.58 L1748,537.58 L1749.33,537.58 L1750.67,537.58 L1752,537.58 L1753.33,537.58 L1754.67,537.58 L1756,537.58 L1757.33,537.58 L1758.67,537.58 L1760,537.58 L1761.33,537.58 L1762.67,537.58 L1764,537.59 L1765.33,537.59 L1766.67,537.59 L1768,537.59 L1769.33,537.59 L1770.67,537.59 L1772,537.59 L1773.33,537.59 L1774.67,537.59 L1776,537.59 L1777.33,537.59 L1778.67,537.59 L1780,537.59 L1781.33,537.59 L1782.67,537.6 L1784,537.6 L1785.33,537.6 L1786.67,537.6 L1788,537.6 L1789.33,537.6 L1790.67,537.6 L1792,537.6" fill="none" stroke="#ff00ff" stroke-width="6.8" stroke-linejoin="round" stroke-linecap="butt"/>
<path d="M1112,538.2 L1113.35,538.2 L1114.71,538.2 L1116.06,538.19 L1117.41,538.19 L1118.76,538.19 L1120.12,538.19 L1121.47,538.19 L1122.82,538.18 L1124.18,538.18 L1125.53,538.18 L1126.88,538.18 L1128.24,538.18 L1129.59,538.17 L1130.94,538.17 L1132.29,538.17 L1133.65,538.17 L1135,538.17 L1136.35,538.16 L1137.71,538.16 L1139.06,538.16 L1140.41,538.16 L1141.76,538.16 L1143.12,538.15 L1144.47,538.15 L1145.82,538.15 L1147.18,538.15 L1148.53,538.15 L1149.88,538.15 L1151.24,538.14 L1152.59,538.14 L1153.94,538.14 L1155.29,538.14 L1156.65,538.14 L1158,538.13 L1159.35,538.13 L1160.71,538.13 L1162.06,538.13 L1163.41,538.13 L1164.76,538.12 L1166.12,538.12 L1167.47,538.12 L1168.82,538.12 L1170.18,538.12 L1171.53,538.11 L1172.88,538.11 L1174.24,538.11 L1175.59,538.11 L1176.94,538.11 L1178.29,538.1 L1179.65,538.1 L1181,538.1 L1182.35,538.1 L1183.71,538.1 L1185.06,538.09 L1186.41,538.09 L1187.76,538.09 L1189.12,538.09 L1190.47,538.09 L1191.82,538.08 L1193.18,538.08 L1194.53,538.08 L1195.88,538.08 L1197.24,538.08 L1198.59,538.07 L1199.94,538.07 L1201.29,538.07 L1202.65,538.07 L1204,538.07 L1205.35,538.06 L1206.71,538.06 L1208.06,538.06 L1209.41,538.06 L1210.76,538.06 L1212.12,538.05 L1213.47,538.05 L1214.82,538.05 L1216.18,538.05 L1217.53,538.05 L1218.88,538.05 L1220.24,538.04 L1221.59,538.04 L1222.94,538.04 L1224.29,538.04 L1225.65,538.04 L1227,538.03 L1228.35,538.03 L1229.71,538.03 L1231.06,538.03 L1232.41,538.03 L1233.76,538.02 L1235.12,538.02 L1236.47,538.02 L1237.82,538.02 L1239.18,538.02 L1240.53,538.01 L1241.88,538.01 L1243.23,538.01 L1244.58,538.01 L1245.93,538.02 L1247.29,538.02 L1248.64,538.01 L1250,538 L1251.38,537.98 L1252.77,537.96 L1254.16,537.93 L1255.55,537.89 L1256.94,537.86 L1258.33,537.83 L1259.72,537.81 L1261.11,537.78 L1262.5,537.75 L1263.89,537.72 L1265.28,537.69 L1266.67,537.67 L1268.06,537.64 L1269.44,537.61 L1270.83,537.58 L1272.22,537.56 L1273.61,537.53 L1275,537.5 L1276.39,537.47 L1277.78,537.44 L1279.17,537.42 L1280.56,537.39 L1281.94,537.36 L1283.33,537.33 L1284.72,537.31 L1286.11,537.28 L1287.5,537.25 L1288.89,537.22 L1290.28,537.19 L1291.67,537.17 L1293.06,537.14 L1294.44,537.12 L1295.83,537.1 L1297.22,537.07 L1298.61,537.04 L1300,537 L1301.39,536.95 L1302.78,536.88 L1304.17,536.81 L1305.56,536.74 L1306.94,536.67 L1308.33,536.6 L1309.72,536.53 L1311.11,536.47 L1312.5,536.4 L1313.89,536.33 L1315.28,536.27 L1316.67,536.2 L1318.05,536.14 L1319.44,536.08 L1320.83,536.02 L1322.22,535.95 L1323.61,535.88 L1325,535.8 L1326.41,535.7 L1327.83,535.59 L1329.25,535.47 L1330.66,535.34 L1332.08,535.22 L1333.5,535.1 L1334.9,534.99 L1336.27,534.89 L1337.64,534.8 L1339.04,534.69 L1340.48,534.56 L1342,534.4 L1343.52,534.23 L1345.16,534.06 L1346.87,533.87 L1348.6,533.67 L1350.32,533.43 L1351.99,533.16 L1353.56,532.86 L1355,532.5 L1356.59,532.03 L1358.07,531.52 L1359.45,530.95 L1360.75,530.28 L1362,529.5 L1363.18,528.63 L1364.3,527.69 L1365.34,526.63 L1366.31,525.41 L1367.2,524 L1367.8,522.8 L1368.36,521.48 L1368.86,520.04 L1369.33,518.51 L1369.75,516.89 L1370.15,515.2 L1370.51,513.45 L1370.86,511.66 L1371.19,509.84 L1371.5,508 L1371.74,506.48 L1371.95,504.93 L1372.14,503.33 L1372.3,501.7 L1372.45,500.03 L1372.58,498.33 L1372.69,496.6 L1372.8,494.84 L1372.89,493.06 L1372.98,491.25 L1373.06,489.42 L1373.14,487.57 L1373.23,485.7 L1373.31,483.81 L1373.4,481.91 L1373.5,480 L1373.59,478.27 L1373.68,476.45 L1373.77,474.55 L1373.86,472.59 L1373.95,470.59 L1374.03,468.53 L1374.12,466.45 L1374.2,464.35 L1374.28,462.24 L1374.36,460.13 L1374.43,458.04 L1374.5,455.96 L1374.57,453.92 L1374.64,451.93 L1374.7,449.99 L1374.75,448.12 L1374.81,446.33 L1374.86,444.62 L1374.9,443.02 L1374.94,441.52 L1374.97,440.14 L1375,438.9 L1375.03,437.09 L1375.05,435.55 L1375.05,434.18 L1375.05,432.91 L1375.05,431.63 L1375.06,430.27 L1375.07,428.83 L1375.08,427.39 L1375.09,425.95 L1375.1,424.51 L1375.11,423.07 L1375.12,421.63 L1375.13,420.19 L1375.14,418.76 L1375.15,417.32 L1375.16,415.88 L1375.17,414.44 L1375.17,413 L1375.18,411.56 L1375.19,410.12 L1375.2,408.68 L1375.21,407.24 L1375.22,405.81 L1375.23,404.37 L1375.24,402.93 L1375.25,401.49 L1375.26,400.05 L1375.27,398.61 L1375.28,397.17 L1375.29,395.73 L1375.3,394.29 L1375.31,392.86 L1375.32,391.42 L1375.33,389.98 L1375.34,388.54 L1375.35,387.1 L1375.36,385.66 L1375.37,384.22 L1375.38,382.78 L1375.39,381.34 L1375.4,379.91 L1375.41,378.47 L1375.42,377.03 L1375.43,375.59 L1375.44,374.15 L1375.45,372.71 L1375.46,371.27 L1375.47,369.83 L1375.48,368.39 L1375.49,366.96 L1375.5,365.52 L1375.51,364.08 L1375.52,362.64 L1375.53,361.2 L1375.53,359.76 L1375.54,358.32 L1375.55,356.88 L1375.56,355.44 L1375.57,354.01 L1375.58,352.57 L1375.59,351.13 L1375.6,349.69 L1375.61,348.25 L1375.62,346.81 L1375.63,345.37 L1375.64,343.93 L1375.65,342.49 L1375.66,341.05 L1375.67,339.61 L1375.68,338.17 L1375.69,336.74 L1375.7,335.3 L1375.71,333.88 L1375.73,332.45 L1375.74,331.03 L1375.75,329.61 L1375.77,328.19 L1375.78,326.77 L1375.79,325.35 L1375.81,323.93 L1375.82,322.5 L1375.83,321.08 L1375.85,319.66 L1375.86,318.24 L1375.87,316.82 L1375.89,315.4 L1375.9,313.98 L1375.91,312.55 L1375.93,311.13 L1375.94,309.71 L1375.95,308.29 L1375.97,306.87 L1375.98,305.45 L1375.99,304.02 L1376.01,302.6 L1376.02,301.18 L1376.03,299.76 L1376.05,298.34 L1376.06,296.91 L1376.07,295.49 L1376.09,294.07 L1376.1,292.65 L1376.11,291.23 L1376.13,289.81 L1376.14,288.38 L1376.15,286.96 L1376.17,285.54 L1376.18,284.12 L1376.19,282.7 L1376.21,281.28 L1376.22,279.85 L1376.23,278.43 L1376.25,277.01 L1376.26,275.59 L1376.27,274.17 L1376.29,272.75 L1376.3,271.33 L1376.31,269.9 L1376.33,268.48 L1376.34,267.06 L1376.35,265.64 L1376.37,264.22 L1376.38,262.79 L1376.39,261.37 L1376.41,259.95 L1376.42,258.53 L1376.42,257.19 L1376.41,255.94 L1376.41,254.69 L1376.41,253.35 L1376.44,251.82 L1376.5,250 L1376.55,248.74 L1376.62,247.24 L1376.7,245.52 L1376.79,243.61 L1376.89,241.52 L1377,239.29 L1377.12,236.94 L1377.24,234.49 L1377.38,231.98 L1377.52,229.42 L1377.67,226.85 L1377.83,224.28 L1377.99,221.74 L1378.15,219.26 L1378.32,216.87 L1378.49,214.58 L1378.67,212.42 L1378.85,210.42 L1379.03,208.61 L1379.21,207.01 L1379.39,205.63 L1379.57,204.52 L1379.75,203.7 L1379.92,203.18 L1380.1,203 L1380.32,203.23 L1380.55,203.9 L1380.78,204.95 L1381.02,206.34 L1381.26,208.03 L1381.51,209.96 L1381.76,212.08 L1382.02,214.34 L1382.27,216.7 L1382.53,219.11 L1382.78,221.52 L1383.03,223.87 L1383.28,226.13 L1383.53,228.23 L1383.77,230.14 L1384,231.8 L1384.3,233.68 L1384.61,235.37 L1384.92,236.93 L1385.22,238.44 L1385.52,239.95 L1385.81,241.53 L1386.08,243.24 L1386.35,245.14 L1386.6,247.3 L1386.73,248.61 L1386.86,250.05 L1386.98,251.6 L1387.1,253.26 L1387.21,255.01 L1387.33,256.85 L1387.44,258.77 L1387.55,260.76 L1387.65,262.81 L1387.75,264.92 L1387.85,267.08 L1387.94,269.27 L1388.04,271.49 L1388.12,273.74 L1388.21,276 L1388.29,278.26 L1388.37,280.52 L1388.45,282.77 L1388.52,285 L1388.59,287.2 L1388.66,289.36 L1388.72,291.48 L1388.78,293.54 L1388.84,295.54 L1388.89,297.47 L1388.94,299.33 L1388.99,301.09 L1389.03,302.77 L1389.07,304.33 L1389.11,305.79 L1389.14,307.12 L1389.17,308.33 L1389.2,309.4 L1389.24,311.19 L1389.26,312.66 L1389.27,313.92 L1389.27,315.08 L1389.27,316.23 L1389.28,317.49 L1389.29,318.84 L1389.31,320.19 L1389.32,321.54 L1389.34,322.89 L1389.35,324.24 L1389.36,325.59 L1389.38,326.94 L1389.39,328.29 L1389.4,329.63 L1389.42,330.98 L1389.43,332.33 L1389.44,333.68 L1389.46,335.03 L1389.47,336.38 L1389.48,337.73 L1389.5,339.08 L1389.51,340.43 L1389.53,341.77 L1389.54,343.12 L1389.55,344.47 L1389.57,345.82 L1389.58,347.17 L1389.59,348.52 L1389.61,349.87 L1389.62,351.22 L1389.63,352.57 L1389.65,353.92 L1389.66,355.26 L1389.67,356.61 L1389.69,357.96 L1389.7,359.31 L1389.71,360.66 L1389.73,362.01 L1389.74,363.36 L1389.76,364.71 L1389.77,366.06 L1389.78,367.41 L1389.8,368.75 L1389.81,370.1 L1389.82,371.45 L1389.84,372.8 L1389.85,374.15 L1389.86,375.5 L1389.88,376.85 L1389.89,378.2 L1389.9,379.55 L1389.92,380.89 L1389.93,382.24 L1389.94,383.59 L1389.96,384.94 L1389.97,386.29 L1389.99,387.64 L1390,388.99 L1390.01,390.34 L1390.03,391.69 L1390.04,393.04 L1390.05,394.38 L1390.07,395.73 L1390.08,397.08 L1390.09,398.43 L1390.11,399.78 L1390.12,401.13 L1390.13,402.48 L1390.15,403.83 L1390.16,405.18 L1390.17,406.52 L1390.19,407.87 L1390.2,409.22 L1390.22,410.57 L1390.23,411.92 L1390.24,413.27 L1390.26,414.62 L1390.27,415.97 L1390.28,417.32 L1390.3,418.67 L1390.31,420.01 L1390.32,421.36 L1390.34,422.71 L1390.35,424.06 L1390.36,425.41 L1390.38,426.76 L1390.39,428.11 L1390.41,429.46 L1390.42,430.81 L1390.43,432.07 L1390.43,433.25 L1390.44,434.42 L1390.45,435.69 L1390.47,437.15 L1390.5,438.9 L1390.52,440.05 L1390.55,441.34 L1390.57,442.76 L1390.6,444.29 L1390.63,445.94 L1390.66,447.69 L1390.69,449.52 L1390.73,451.44 L1390.76,453.42 L1390.81,455.47 L1390.85,457.56 L1390.89,459.7 L1390.94,461.87 L1390.99,464.06 L1391.05,466.26 L1391.11,468.46 L1391.17,470.66 L1391.24,472.83 L1391.3,474.98 L1391.38,477.09 L1391.45,479.16 L1391.53,481.17 L1391.62,483.11 L1391.71,484.97 L1391.8,486.75 L1391.9,488.43 L1392,490 L1392.14,492.1 L1392.27,494.14 L1392.4,496.14 L1392.52,498.08 L1392.66,499.97 L1392.8,501.8 L1392.96,503.58 L1393.14,505.3 L1393.34,506.96 L1393.57,508.57 L1393.84,510.11 L1394.15,511.58 L1394.5,513 L1395,514.71 L1395.53,516.31 L1396.1,517.81 L1396.72,519.22 L1397.41,520.54 L1398.17,521.8 L1399,523 L1400,524.2 L1401.11,525.31 L1402.29,526.33 L1403.52,527.28 L1404.77,528.17 L1406,529 L1407.33,529.84 L1408.64,530.59 L1409.99,531.26 L1411.43,531.89 L1413,532.5 L1414.43,532.99 L1415.99,533.45 L1417.64,533.9 L1419.35,534.32 L1421.07,534.71 L1422.78,535.05 L1424.44,535.35 L1426,535.6 L1427.66,535.8 L1429.27,535.92 L1430.83,535.99 L1432.38,536.04 L1433.93,536.08 L1435.5,536.15 L1437.09,536.25 L1438.67,536.35 L1440.26,536.46 L1441.85,536.55 L1443.43,536.64 L1445,536.7 L1446.54,536.74 L1448.07,536.76 L1449.59,536.76 L1451.12,536.76 L1452.64,536.76 L1454.17,536.77 L1455.69,536.78 L1457.22,536.79 L1458.75,536.8 L1460.28,536.81 L1461.81,536.82 L1463.33,536.83 L1464.86,536.84 L1466.39,536.86 L1467.92,536.87 L1469.44,536.88 L1470.97,536.89 L1472.5,536.9 L1474.03,536.91 L1475.56,536.92 L1477.08,536.93 L1478.61,536.94 L1480.14,536.96 L1481.67,536.97 L1483.19,536.98 L1484.72,536.99 L1486.25,537 L1487.78,537.01 L1489.31,537.02 L1490.83,537.03 L1492.37,537.05 L1493.9,537.06 L1495.44,537.07 L1496.97,537.08 L1498.49,537.09 L1500,537.1 L1501.42,537.1 L1502.83,537.1 L1504.23,537.1 L1505.62,537.1 L1507.02,537.1 L1508.42,537.1 L1509.82,537.1 L1511.22,537.1 L1512.62,537.1 L1514.03,537.1 L1515.43,537.1 L1516.83,537.1 L1518.24,537.1 L1519.64,537.1 L1521.04,537.1 L1522.44,537.1 L1523.85,537.1 L1525.25,537.1 L1526.65,537.1 L1528.06,537.1 L1529.46,537.1 L1530.86,537.1 L1532.26,537.1 L1533.67,537.1 L1535.07,537.1 L1536.47,537.1 L1537.88,537.1 L1539.28,537.1 L1540.68,537.1 L1542.08,537.1 L1543.49,537.1 L1544.89,537.1 L1546.29,537.1 L1547.69,537.1 L1549.1,537.1 L1550.5,537.1 L1551.9,537.1 L1553.31,537.1 L1554.71,537.1 L1556.11,537.1 L1557.51,537.1 L1558.92,537.1 L1560.32,537.1 L1561.72,537.1 L1563.12,537.1 L1564.53,537.1 L1565.93,537.1 L1567.33,537.1 L1568.74,537.1 L1570.14,537.1 L1571.54,537.1 L1572.94,537.1 L1574.35,537.1 L1575.75,537.1 L1577.15,537.1 L1578.56,537.1 L1579.96,537.1 L1581.36,537.1 L1582.76,537.1 L1584.17,537.1 L1585.57,537.1 L1586.97,537.1 L1588.38,537.1 L1589.78,537.1 L1591.18,537.1 L1592.58,537.1 L1593.99,537.1 L1595.39,537.1 L1596.79,537.1 L1598.19,537.1 L1599.6,537.1 L1601,537.1" fill="none" stroke="#0000ff" stroke-width="6.8" stroke-linejoin="round" stroke-linecap="butt"/>
<path d="M1112,537.3 L1113.44,537.29 L1114.89,537.29 L1116.33,537.28 L1117.78,537.28 L1119.22,537.27 L1120.67,537.27 L1122.11,537.26 L1123.56,537.26 L1125,537.25 L1126.44,537.24 L1127.89,537.24 L1129.33,537.23 L1130.78,537.23 L1132.22,537.22 L1133.67,537.22 L1135.11,537.21 L1136.56,537.21 L1138,537.2 L1139.44,537.19 L1140.89,537.19 L1142.33,537.18 L1143.78,537.18 L1145.22,537.17 L1146.67,537.17 L1148.11,537.16 L1149.56,537.16 L1151,537.15 L1152.44,537.14 L1153.89,537.14 L1155.33,537.13 L1156.78,537.13 L1158.22,537.12 L1159.67,537.12 L1161.11,537.11 L1162.56,537.11 L1164,537.1 L1165.44,537.09 L1166.89,537.09 L1168.33,537.08 L1169.78,537.08 L1171.22,537.07 L1172.67,537.07 L1174.11,537.06 L1175.56,537.06 L1177,537.05 L1178.44,537.04 L1179.89,537.04 L1181.33,537.03 L1182.76,537.04 L1184.16,537.06 L1185.56,537.08 L1186.98,537.08 L1188.46,537.06 L1190,537 L1191.52,536.9 L1193.12,536.76 L1194.79,536.6 L1196.49,536.41 L1198.19,536.21 L1199.86,536.01 L1201.47,535.8 L1203,535.6 L1204.59,535.39 L1206.11,535.19 L1207.58,534.98 L1209.04,534.76 L1210.5,534.5 L1212,534.2 L1213.41,533.91 L1214.84,533.61 L1216.27,533.29 L1217.71,532.94 L1219.15,532.53 L1220.58,532.06 L1222,531.5 L1223.38,530.89 L1224.8,530.21 L1226.24,529.48 L1227.66,528.68 L1229.04,527.84 L1230.34,526.94 L1231.54,525.99 L1232.6,525 L1233.68,523.74 L1234.6,522.38 L1235.41,520.94 L1236.13,519.47 L1236.82,517.98 L1237.5,516.5 L1238.17,515.1 L1238.8,513.74 L1239.39,512.36 L1239.94,510.92 L1240.44,509.35 L1240.9,507.6 L1241.19,506.2 L1241.44,504.65 L1241.66,502.98 L1241.86,501.22 L1242.03,499.39 L1242.17,497.51 L1242.31,495.6 L1242.43,493.7 L1242.54,491.82 L1242.65,489.98 L1242.76,488.22 L1242.88,486.55 L1243,485 L1243.15,483.32 L1243.28,481.81 L1243.4,480.41 L1243.52,479.05 L1243.64,477.64 L1243.75,476.13 L1243.87,474.44 L1244,472.5 L1244.08,471.22 L1244.16,469.86 L1244.25,468.43 L1244.33,466.93 L1244.42,465.36 L1244.51,463.73 L1244.6,462.04 L1244.69,460.3 L1244.78,458.51 L1244.88,456.67 L1244.97,454.79 L1245.06,452.87 L1245.16,450.92 L1245.25,448.93 L1245.34,446.92 L1245.44,444.88 L1245.53,442.83 L1245.62,440.75 L1245.72,438.67 L1245.81,436.57 L1245.9,434.48 L1245.98,432.38 L1246.07,430.28 L1246.16,428.19 L1246.24,426.11 L1246.32,424.05 L1246.4,422 L1246.47,420.27 L1246.53,418.54 L1246.59,416.8 L1246.66,415.06 L1246.72,413.31 L1246.78,411.56 L1246.84,409.8 L1246.9,408.03 L1246.96,406.26 L1247.02,404.47 L1247.07,402.69 L1247.13,400.89 L1247.19,399.08 L1247.24,397.27 L1247.3,395.45 L1247.35,393.61 L1247.41,391.77 L1247.46,389.91 L1247.51,388.05 L1247.57,386.17 L1247.62,384.28 L1247.67,382.38 L1247.72,380.47 L1247.78,378.54 L1247.83,376.61 L1247.88,374.65 L1247.93,372.69 L1247.98,370.7 L1248.03,368.71 L1248.08,366.69 L1248.14,364.67 L1248.19,362.62 L1248.24,360.56 L1248.29,358.49 L1248.34,356.39 L1248.39,354.28 L1248.45,352.15 L1248.5,350 L1248.57,347.19 L1248.63,344.19 L1248.7,341.02 L1248.77,337.68 L1248.83,334.2 L1248.9,330.59 L1248.97,326.85 L1249.03,323.01 L1249.1,319.07 L1249.17,315.06 L1249.24,310.97 L1249.3,306.84 L1249.37,302.66 L1249.43,298.46 L1249.5,294.24 L1249.57,290.03 L1249.63,285.82 L1249.7,281.65 L1249.76,277.52 L1249.83,273.44 L1249.89,269.43 L1249.95,265.5 L1250.02,261.66 L1250.08,257.94 L1250.14,254.33 L1250.2,250.86 L1250.27,247.54 L1250.33,244.38 L1250.39,241.4 L1250.45,238.6 L1250.5,236.01 L1250.56,233.63 L1250.62,231.48 L1250.68,229.58 L1250.73,227.93 L1250.79,226.55 L1250.84,225.46 L1250.9,224.66 L1250.95,224.17 L1251,224 L1251.05,224.13 L1251.09,224.53 L1251.14,225.17 L1251.18,226.05 L1251.22,227.16 L1251.27,228.48 L1251.31,230.02 L1251.35,231.75 L1251.39,233.67 L1251.43,235.77 L1251.46,238.03 L1251.5,240.46 L1251.54,243.02 L1251.58,245.72 L1251.61,248.55 L1251.65,251.5 L1251.68,254.55 L1251.72,257.69 L1251.76,260.92 L1251.79,264.22 L1251.82,267.59 L1251.86,271.01 L1251.89,274.47 L1251.93,277.96 L1251.96,281.48 L1252,285.02 L1252.03,288.55 L1252.07,292.07 L1252.1,295.58 L1252.13,299.06 L1252.17,302.5 L1252.2,305.89 L1252.24,309.22 L1252.28,312.48 L1252.31,315.66 L1252.35,318.75 L1252.39,321.74 L1252.42,324.62 L1252.46,327.37 L1252.5,330 L1252.54,332.41 L1252.57,334.86 L1252.61,337.37 L1252.65,339.91 L1252.69,342.49 L1252.73,345.1 L1252.77,347.73 L1252.81,350.39 L1252.85,353.07 L1252.89,355.77 L1252.94,358.47 L1252.98,361.18 L1253.02,363.9 L1253.06,366.6 L1253.1,369.31 L1253.15,372 L1253.19,374.68 L1253.23,377.33 L1253.27,379.96 L1253.31,382.57 L1253.35,385.14 L1253.4,387.67 L1253.44,390.16 L1253.48,392.61 L1253.52,395 L1253.55,397.35 L1253.59,399.63 L1253.63,401.85 L1253.67,404 L1253.7,406.08 L1253.74,408.09 L1253.77,410.01 L1253.8,411.85 L1253.83,413.6 L1253.87,415.26 L1253.89,416.82 L1253.92,418.28 L1253.95,419.63 L1253.98,420.87 L1254,422 L1254.04,423.92 L1254.09,425.47 L1254.12,426.77 L1254.16,427.95 L1254.2,429.12 L1254.23,430.42 L1254.27,431.82 L1254.31,433.22 L1254.35,434.62 L1254.39,436.03 L1254.43,437.43 L1254.47,438.83 L1254.51,440.24 L1254.54,441.64 L1254.58,443.04 L1254.62,444.44 L1254.66,445.85 L1254.7,447.25 L1254.74,448.65 L1254.78,450.06 L1254.82,451.46 L1254.86,452.86 L1254.89,454.26 L1254.93,455.67 L1254.97,457.07 L1255.01,458.47 L1255.05,459.88 L1255.09,461.28 L1255.13,462.68 L1255.17,464.08 L1255.2,465.48 L1255.23,466.88 L1255.26,468.28 L1255.3,469.68 L1255.34,471.09 L1255.4,472.5 L1255.47,473.95 L1255.56,475.4 L1255.66,476.86 L1255.75,478.33 L1255.85,479.79 L1255.95,481.25 L1256.03,482.67 L1256.11,484.06 L1256.18,485.44 L1256.27,486.86 L1256.37,488.37 L1256.5,490 L1256.62,491.53 L1256.73,493.18 L1256.84,494.93 L1256.96,496.75 L1257.1,498.61 L1257.27,500.49 L1257.48,502.36 L1257.73,504.18 L1258.03,505.94 L1258.4,507.6 L1258.83,509.19 L1259.3,510.77 L1259.82,512.32 L1260.38,513.85 L1260.98,515.33 L1261.62,516.77 L1262.29,518.15 L1262.98,519.46 L1263.7,520.7 L1264.62,522.13 L1265.56,523.46 L1266.56,524.71 L1267.62,525.87 L1268.76,526.97 L1270,528 L1271.24,528.9 L1272.57,529.73 L1273.98,530.51 L1275.44,531.22 L1276.94,531.88 L1278.47,532.47 L1280,533 L1281.43,533.42 L1282.93,533.76 L1284.46,534.05 L1286,534.28 L1287.55,534.49 L1289.08,534.67 L1290.57,534.83 L1292,535 L1293.57,535.17 L1295.09,535.3 L1296.58,535.41 L1298.05,535.5 L1299.51,535.59 L1301,535.7 L1302.49,535.82 L1303.98,535.95 L1305.47,536.07 L1306.96,536.19 L1308.47,536.3 L1310,536.4 L1311.4,536.47 L1312.82,536.53 L1314.25,536.57 L1315.69,536.61 L1317.13,536.65 L1318.57,536.69 L1320,536.73 L1321.43,536.78 L1322.86,536.83 L1324.29,536.88 L1325.71,536.92 L1327.14,536.97 L1328.57,537.02 L1330,537.07 L1331.43,537.12 L1332.87,537.17 L1334.31,537.22 L1335.75,537.28 L1337.18,537.33 L1338.6,537.37 L1340,537.4 L1341.53,537.42 L1343.03,537.44 L1344.53,537.44 L1346.02,537.45 L1347.51,537.45 L1349,537.46 L1350.5,537.47 L1352,537.48 L1353.5,537.49 L1355,537.5 L1356.5,537.5 L1358,537.51 L1359.5,537.52 L1361,537.53 L1362.5,537.54 L1364,537.55 L1365.5,537.56 L1367,537.57 L1368.5,537.58 L1370,537.59 L1371.5,537.6 L1373,537.61 L1374.5,537.62 L1376,537.63 L1377.5,537.64 L1379,537.65 L1380.5,537.66 L1382,537.67 L1383.5,537.68 L1385,537.69 L1386.5,537.7 L1388,537.7 L1389.5,537.71 L1391,537.72 L1392.5,537.73 L1394,537.74 L1395.5,537.75 L1397,537.76 L1398.5,537.77 L1400,537.78 L1401.5,537.79 L1403,537.8" fill="none" stroke="#8000ff" stroke-width="6.8" stroke-linejoin="round" stroke-linecap="butt"/>
<path d="M1112,535.2 L1113.33,535.1 L1114.65,535.02 L1115.98,534.94 L1117.31,534.84 L1118.65,534.7 L1120,534.5 L1121.5,534.22 L1123.04,533.89 L1124.6,533.51 L1126.14,533.1 L1127.61,532.66 L1129,532.2 L1130.31,531.73 L1131.57,531.24 L1132.76,530.72 L1133.91,530.14 L1135,529.5 L1136.22,528.68 L1137.36,527.8 L1138.44,526.8 L1139.5,525.6 L1140.31,524.49 L1141.11,523.23 L1141.89,521.86 L1142.64,520.4 L1143.36,518.89 L1144.05,517.34 L1144.7,515.8 L1145.29,514.25 L1145.83,512.61 L1146.35,510.91 L1146.83,509.18 L1147.29,507.46 L1147.73,505.79 L1148.17,504.19 L1148.6,502.7 L1149.03,501.24 L1149.45,499.8 L1149.85,498.42 L1150.24,497.13 L1150.62,495.98 L1151,495 L1151.4,494 L1151.79,493.16 L1152.2,492.8 L1152.65,493.14 L1153.11,493.99 L1153.6,495 L1154.06,495.98 L1154.56,497.12 L1155.06,498.4 L1155.57,499.79 L1156.05,501.23 L1156.5,502.7 L1156.87,504.18 L1157.17,505.77 L1157.45,507.44 L1157.71,509.17 L1157.99,510.9 L1158.29,512.6 L1158.66,514.25 L1159.1,515.8 L1159.63,517.34 L1160.22,518.89 L1160.84,520.4 L1161.51,521.86 L1162.22,523.23 L1162.95,524.49 L1163.7,525.6 L1164.7,526.8 L1165.76,527.79 L1166.86,528.67 L1168,529.5 L1169.13,530.27 L1170.28,530.97 L1171.5,531.61 L1172.8,532.2 L1174.11,532.71 L1175.49,533.17 L1176.94,533.59 L1178.45,533.96 L1180,534.3 L1181.33,534.55 L1182.72,534.76 L1184.15,534.95 L1185.6,535.11 L1187.07,535.25 L1188.54,535.38 L1190,535.5 L1191.48,535.6 L1192.98,535.68 L1194.48,535.73 L1195.98,535.77 L1197.49,535.81 L1199,535.85 L1200.5,535.9 L1202,535.96 L1203.5,536.01 L1205,536.07 L1206.5,536.13 L1208,536.19 L1209.5,536.24 L1211,536.3" fill="none" stroke="#800000" stroke-width="6.8" stroke-linejoin="round" stroke-linecap="butt"/>
</g>
<line x1="1112" y1="565.4" x2="1112" y2="576.4" stroke="#000" stroke-width="3.5" stroke-linecap="butt"/>
<line x1="1112" y1="29.9" x2="1112" y2="40.9" stroke="#000" stroke-width="3.5" stroke-linecap="butt"/>
<line x1="1209" y1="565.4" x2="1209" y2="576.4" stroke="#000" stroke-width="3.5" stroke-linecap="butt"/>
<line x1="1209" y1="29.9" x2="1209" y2="40.9" stroke="#000" stroke-width="3.5" stroke-linecap="butt"/>
<line x1="1306" y1="565.4" x2="1306" y2="576.4" stroke="#000" stroke-width="3.5" stroke-linecap="butt"/>
<line x1="1306" y1="29.9" x2="1306" y2="40.9" stroke="#000" stroke-width="3.5" stroke-linecap="butt"/>
<line x1="1403" y1="565.4" x2="1403" y2="576.4" stroke="#000" stroke-width="3.5" stroke-linecap="butt"/>
<line x1="1403" y1="29.9" x2="1403" y2="40.9" stroke="#000" stroke-width="3.5" stroke-linecap="butt"/>
<line x1="1500" y1="565.4" x2="1500" y2="576.4" stroke="#000" stroke-width="3.5" stroke-linecap="butt"/>
<line x1="1500" y1="29.9" x2="1500" y2="40.9" stroke="#000" stroke-width="3.5" stroke-linecap="butt"/>
<line x1="1597" y1="565.4" x2="1597" y2="576.4" stroke="#000" stroke-width="3.5" stroke-linecap="butt"/>
<line x1="1597" y1="29.9" x2="1597" y2="40.9" stroke="#000" stroke-width="3.5" stroke-linecap="butt"/>
<line x1="1694" y1="565.4" x2="1694" y2="576.4" stroke="#000" stroke-width="3.5" stroke-linecap="butt"/>
<line x1="1694" y1="29.9" x2="1694" y2="40.9" stroke="#000" stroke-width="3.5" stroke-linecap="butt"/>
<line x1="1791" y1="565.4" x2="1791" y2="576.4" stroke="#000" stroke-width="3.5" stroke-linecap="butt"/>
<line x1="1791" y1="29.9" x2="1791" y2="40.9" stroke="#000" stroke-width="3.5" stroke-linecap="butt"/>
<line x1="1160.5" y1="565.4" x2="1160.5" y2="570.8" stroke="#000" stroke-width="3.5" stroke-linecap="butt"/>
<line x1="1160.5" y1="29.9" x2="1160.5" y2="35.3" stroke="#000" stroke-width="3.5" stroke-linecap="butt"/>
<line x1="1257.5" y1="565.4" x2="1257.5" y2="570.8" stroke="#000" stroke-width="3.5" stroke-linecap="butt"/>
<line x1="1257.5" y1="29.9" x2="1257.5" y2="35.3" stroke="#000" stroke-width="3.5" stroke-linecap="butt"/>
<line x1="1354.5" y1="565.4" x2="1354.5" y2="570.8" stroke="#000" stroke-width="3.5" stroke-linecap="butt"/>
<line x1="1354.5" y1="29.9" x2="1354.5" y2="35.3" stroke="#000" stroke-width="3.5" stroke-linecap="butt"/>
<line x1="1451.5" y1="565.4" x2="1451.5" y2="570.8" stroke="#000" stroke-width="3.5" stroke-linecap="butt"/>
<line x1="1451.5" y1="29.9" x2="1451.5" y2="35.3" stroke="#000" stroke-width="3.5" stroke-linecap="butt"/>
<line x1="1548.5" y1="565.4" x2="1548.5" y2="570.8" stroke="#000" stroke-width="3.5" stroke-linecap="butt"/>
<line x1="1548.5" y1="29.9" x2="1548.5" y2="35.3" stroke="#000" stroke-width="3.5" stroke-linecap="butt"/>
<line x1="1645.5" y1="565.4" x2="1645.5" y2="570.8" stroke="#000" stroke-width="3.5" stroke-linecap="butt"/>
<line x1="1645.5" y1="29.9" x2="1645.5" y2="35.3" stroke="#000" stroke-width="3.5" stroke-linecap="butt"/>
<line x1="1742.5" y1="565.4" x2="1742.5" y2="570.8" stroke="#000" stroke-width="3.5" stroke-linecap="butt"/>
<line x1="1742.5" y1="29.9" x2="1742.5" y2="35.3" stroke="#000" stroke-width="3.5" stroke-linecap="butt"/>
<line x1="1100.5" y1="537.2" x2="1111.5" y2="537.2" stroke="#000" stroke-width="3.5" stroke-linecap="butt"/>
<line x1="1781.3" y1="537.2" x2="1792.3" y2="537.2" stroke="#000" stroke-width="3.5" stroke-linecap="butt"/>
<line x1="1100.5" y1="444.9" x2="1111.5" y2="444.9" stroke="#000" stroke-width="3.5" stroke-linecap="butt"/>
<line x1="1781.3" y1="444.9" x2="1792.3" y2="444.9" stroke="#000" stroke-width="3.5" stroke-linecap="butt"/>
<line x1="1100.5" y1="352.6" x2="1111.5" y2="352.6" stroke="#000" stroke-width="3.5" stroke-linecap="butt"/>
<line x1="1781.3" y1="352.6" x2="1792.3" y2="352.6" stroke="#000" stroke-width="3.5" stroke-linecap="butt"/>
<line x1="1100.5" y1="260.3" x2="1111.5" y2="260.3" stroke="#000" stroke-width="3.5" stroke-linecap="butt"/>
<line x1="1781.3" y1="260.3" x2="1792.3" y2="260.3" stroke="#000" stroke-width="3.5" stroke-linecap="butt"/>
<line x1="1100.5" y1="168" x2="1111.5" y2="168" stroke="#000" stroke-width="3.5" stroke-linecap="butt"/>
<line x1="1781.3" y1="168" x2="1792.3" y2="168" stroke="#000" stroke-width="3.5" stroke-linecap="butt"/>
<line x1="1100.5" y1="75.7" x2="1111.5" y2="75.7" stroke="#000" stroke-width="3.5" stroke-linecap="butt"/>
<line x1="1781.3" y1="75.7" x2="1792.3" y2="75.7" stroke="#000" stroke-width="3.5" stroke-linecap="butt"/>
<line x1="1106.1" y1="491.05" x2="1111.5" y2="491.05" stroke="#000" stroke-width="3.5" stroke-linecap="butt"/>
<line x1="1786.9" y1="491.05" x2="1792.3" y2="491.05" stroke="#000" stroke-width="3.5" stroke-linecap="butt"/>
<line x1="1106.1" y1="398.75" x2="1111.5" y2="398.75" stroke="#000" stroke-width="3.5" stroke-linecap="butt"/>
<line x1="1786.9" y1="398.75" x2="1792.3" y2="398.75" stroke="#000" stroke-width="3.5" stroke-linecap="butt"/>
<line x1="1106.1" y1="306.45" x2="1111.5" y2="306.45" stroke="#000" stroke-width="3.5" stroke-linecap="butt"/>
<line x1="1786.9" y1="306.45" x2="1792.3" y2="306.45" stroke="#000" stroke-width="3.5" stroke-linecap="butt"/>
<line x1="1106.1" y1="214.15" x2="1111.5" y2="214.15" stroke="#000" stroke-width="3.5" stroke-linecap="butt"/>
<line x1="1786.9" y1="214.15" x2="1792.3" y2="214.15" stroke="#000" stroke-width="3.5" stroke-linecap="butt"/>
<line x1="1106.1" y1="121.85" x2="1111.5" y2="121.85" stroke="#000" stroke-width="3.5" stroke-linecap="butt"/>
<line x1="1786.9" y1="121.85" x2="1792.3" y2="121.85" stroke="#000" stroke-width="3.5" stroke-linecap="butt"/>
<line x1="1106.1" y1="29.55" x2="1111.5" y2="29.55" stroke="#000" stroke-width="3.5" stroke-linecap="butt"/>
<line x1="1786.9" y1="29.55" x2="1792.3" y2="29.55" stroke="#000" stroke-width="3.5" stroke-linecap="butt"/>
<line x1="1109.55" y1="29.9" x2="1794.25" y2="29.9" stroke="#000" stroke-width="4.2" stroke-linecap="butt"/>
<line x1="1109.55" y1="565.4" x2="1794.25" y2="565.4" stroke="#000" stroke-width="4.2" stroke-linecap="butt"/>
<line x1="1111.5" y1="27.8" x2="1111.5" y2="567.5" stroke="#000" stroke-width="3.9" stroke-linecap="butt"/>
<line x1="1792.3" y1="27.8" x2="1792.3" y2="567.5" stroke="#000" stroke-width="3.9" stroke-linecap="butt"/>
<text transform="translate(1112 610.8)" font-size="35.5" text-anchor="middle" font-weight="bold" font-family="'Liberation Sans', Arial, sans-serif" letter-spacing="0.4">0.0</text>
<text transform="translate(1209 610.8)" font-size="35.5" text-anchor="middle" font-weight="bold" font-family="'Liberation Sans', Arial, sans-serif" letter-spacing="0.4">0.1</text>
<text transform="translate(1306 610.8)" font-size="35.5" text-anchor="middle" font-weight="bold" font-family="'Liberation Sans', Arial, sans-serif" letter-spacing="0.4">0.2</text>
<text transform="translate(1403 610.8)" font-size="35.5" text-anchor="middle" font-weight="bold" font-family="'Liberation Sans', Arial, sans-serif" letter-spacing="0.4">0.3</text>
<text transform="translate(1500 610.8)" font-size="35.5" text-anchor="middle" font-weight="bold" font-family="'Liberation Sans', Arial, sans-serif" letter-spacing="0.4">0.4</text>
<text transform="translate(1597 610.8)" font-size="35.5" text-anchor="middle" font-weight="bold" font-family="'Liberation Sans', Arial, sans-serif" letter-spacing="0.4">0.5</text>
<text transform="translate(1694 610.8)" font-size="35.5" text-anchor="middle" font-weight="bold" font-family="'Liberation Sans', Arial, sans-serif" letter-spacing="0.4">0.6</text>
<text transform="translate(1791 610.8)" font-size="35.5" text-anchor="middle" font-weight="bold" font-family="'Liberation Sans', Arial, sans-serif" letter-spacing="0.4">0.7</text>
<text transform="translate(1093.5 548.2)" font-size="35.5" text-anchor="end" font-weight="bold" font-family="'Liberation Sans', Arial, sans-serif" letter-spacing="0.4">0</text>
<text transform="translate(1093.5 455.9)" font-size="35.5" text-anchor="end" font-weight="bold" font-family="'Liberation Sans', Arial, sans-serif" letter-spacing="0.4">10</text>
<text transform="translate(1093.5 363.6)" font-size="35.5" text-anchor="end" font-weight="bold" font-family="'Liberation Sans', Arial, sans-serif" letter-spacing="0.4">20</text>
<text transform="translate(1093.5 271.3)" font-size="35.5" text-anchor="end" font-weight="bold" font-family="'Liberation Sans', Arial, sans-serif" letter-spacing="0.4">30</text>
<text transform="translate(1093.5 179)" font-size="35.5" text-anchor="end" font-weight="bold" font-family="'Liberation Sans', Arial, sans-serif" letter-spacing="0.4">40</text>
<text transform="translate(1093.5 86.7)" font-size="35.5" text-anchor="end" font-weight="bold" font-family="'Liberation Sans', Arial, sans-serif" letter-spacing="0.4">50</text>
<text transform="translate(1451.8 667.5) scale(1.0000 1.0300)" font-size="35.5" text-anchor="middle" font-weight="bold" font-family="'Liberation Sans', Arial, sans-serif" letter-spacing="0.3">Voltage (V)</text>
<text transform="translate(1031.6 298.1) rotate(-90) scale(0.9650 1.0000)" font-size="35.5" text-anchor="middle" font-weight="bold" font-family="'Liberation Sans', Arial, sans-serif" letter-spacing="0.3">Gain</text>
<line x1="1521.2" y1="95.7" x2="1590" y2="95.7" stroke="#ff00ff" stroke-width="6.5" stroke-linecap="round"/>
<text transform="translate(1599.6 106) scale(1 1.04)" font-size="30" font-weight="bold" font-family="'Liberation Sans', Arial, sans-serif">V<tspan font-size="20.5" dy="7.6">DD</tspan><tspan dy="-7.6" letter-spacing="0.35"> = 0.7 V</tspan></text>
<line x1="1521.2" y1="141" x2="1590" y2="141" stroke="#0000ff" stroke-width="6.5" stroke-linecap="round"/>
<text transform="translate(1599.6 151.3) scale(1 1.04)" font-size="30" font-weight="bold" font-family="'Liberation Sans', Arial, sans-serif">V<tspan font-size="20.5" dy="7.6">DD</tspan><tspan dy="-7.6" letter-spacing="0.35"> = 0.5 V</tspan></text>
<line x1="1521.2" y1="185.6" x2="1590" y2="185.6" stroke="#8000ff" stroke-width="6.5" stroke-linecap="round"/>
<text transform="translate(1599.6 195.9) scale(1 1.04)" font-size="30" font-weight="bold" font-family="'Liberation Sans', Arial, sans-serif">V<tspan font-size="20.5" dy="7.6">DD</tspan><tspan dy="-7.6" letter-spacing="0.35"> = 0.3 V</tspan></text>
<line x1="1521.2" y1="231" x2="1590" y2="231" stroke="#800000" stroke-width="6.5" stroke-linecap="round"/>
<text transform="translate(1599.6 241.3) scale(1 1.04)" font-size="30" font-weight="bold" font-family="'Liberation Sans', Arial, sans-serif">V<tspan font-size="20.5" dy="7.6">DD</tspan><tspan dy="-7.6" letter-spacing="0.35"> = 0.1 V</tspan></text>
<text transform="translate(978 34.1)" font-size="49" text-anchor="start" font-weight="bold" font-family="'Liberation Serif', 'Times New Roman', serif" letter-spacing="0.7">(b)</text>
<clipPath id="cc"><rect x="145" y="754.8" width="688.6" height="555.7"/></clipPath>
<g clip-path="url(#cc)">
<path d="M152,792 L153.33,792 L154.67,792 L156,792 L157.33,792 L158.67,792 L160,792 L161.33,792 L162.67,792 L164,792 L165.33,792 L166.67,792 L168,792 L169.33,792 L170.67,792 L172,792 L173.33,792 L174.67,792 L176,792 L177.33,792 L178.67,792 L180,792 L181.33,792 L182.67,792 L184,792 L185.33,792 L186.67,792 L188,792 L189.33,792 L190.67,792 L192,792 L193.33,792 L194.67,792 L196,792 L197.33,792 L198.67,792 L200,792 L201.33,792 L202.67,792 L204,792 L205.33,792 L206.67,792 L208,792 L209.33,792 L210.67,792 L212,792 L213.33,792 L214.67,792 L216,792 L217.33,792 L218.67,792 L220,792 L221.33,792 L222.67,792 L224,792 L225.33,792 L226.67,792 L228,792 L229.33,792 L230.67,792 L232,792 L233.33,792 L234.67,792 L236,792 L237.33,792 L238.67,792 L240,792 L241.33,792 L242.67,792 L244,792 L245.33,792 L246.67,792 L248,792 L249.33,792 L250.67,792 L252,792 L253.33,792 L254.67,792 L256,792 L257.33,792 L258.67,792 L260,792 L261.33,792 L262.67,792 L264,792 L265.33,792 L266.67,792 L268,792 L269.33,792 L270.67,792 L272,792 L273.33,792 L274.67,792 L276,792 L277.33,792 L278.67,792 L280,792 L281.33,792 L282.67,792 L284,792 L285.33,792 L286.67,792 L288,792 L289.33,792 L290.67,792 L292,792 L293.33,792 L294.67,792 L296,792 L297.33,792 L298.67,792 L300,792 L301.33,792 L302.67,792 L304,792 L305.33,792 L306.67,792 L308,792 L309.33,792 L310.67,792 L312,792 L313.33,792 L314.67,792 L316,792 L317.33,792 L318.67,792 L320,792 L321.33,792 L322.67,792 L324,792 L325.33,792 L326.67,792 L328,792 L329.33,792 L330.67,792 L332,792 L333.33,792 L334.67,792 L336,792 L337.33,792 L338.67,792 L340,792 L341.33,792 L342.67,792 L344,792 L345.33,792 L346.67,792 L348,792 L349.33,792 L350.67,792 L352,792 L353.33,792 L354.67,792 L356,792 L357.33,792 L358.67,792 L360,792 L361.33,792 L362.67,792 L364,792 L365.33,792 L366.67,792 L368,792 L369.33,792 L370.67,792 L372,792 L373.33,792 L374.67,792 L376,792 L377.33,792 L378.67,792 L380,792 L381.33,792 L382.67,792 L384,792 L385.33,792 L386.67,792 L388,792 L389.33,792 L390.67,792 L392,792 L393.33,792 L394.66,792 L395.99,792 L397.33,792 L398.66,792 L400,792 L401.36,792 L402.72,792.01 L404.09,792.02 L405.45,792.03 L406.82,792.04 L408.19,792.04 L409.55,792.05 L410.91,792.06 L412.28,792.06 L413.64,792.07 L415.01,792.08 L416.37,792.09 L417.74,792.09 L419.1,792.1 L420.46,792.11 L421.83,792.11 L423.19,792.12 L424.56,792.13 L425.92,792.14 L427.29,792.14 L428.65,792.15 L430.01,792.16 L431.38,792.16 L432.74,792.17 L434.11,792.18 L435.47,792.19 L436.84,792.19 L438.2,792.2 L439.56,792.21 L440.93,792.21 L442.29,792.22 L443.66,792.23 L445.02,792.24 L446.39,792.24 L447.75,792.25 L449.11,792.26 L450.45,792.26 L451.75,792.26 L453.06,792.25 L454.4,792.26 L455.8,792.27 L457.3,792.3 L458.77,792.33 L460.38,792.35 L462.07,792.36 L463.82,792.39 L465.59,792.43 L467.32,792.51 L469,792.62 L470.57,792.78 L472,793 L473.71,793.34 L475.29,793.73 L476.77,794.2 L478.17,794.78 L479.5,795.5 L480.77,796.37 L481.97,797.36 L483.08,798.47 L484.1,799.69 L485,801 L485.7,802.29 L486.3,803.66 L486.8,805.12 L487.23,806.67 L487.63,808.29 L488,810 L488.27,811.4 L488.49,812.83 L488.68,814.31 L488.83,815.84 L488.97,817.42 L489.09,819.07 L489.2,820.78 L489.32,822.57 L489.45,824.44 L489.6,826.4 L489.71,827.85 L489.83,829.36 L489.94,830.91 L490.05,832.51 L490.16,834.16 L490.27,835.85 L490.38,837.58 L490.49,839.35 L490.6,841.15 L490.72,842.98 L490.83,844.85 L490.94,846.74 L491.05,848.66 L491.16,850.6 L491.28,852.57 L491.39,854.55 L491.51,856.55 L491.62,858.56 L491.74,860.58 L491.86,862.62 L491.98,864.66 L492.1,866.7 L492.2,868.38 L492.3,870.09 L492.41,871.82 L492.51,873.58 L492.62,875.35 L492.73,877.15 L492.84,878.96 L492.95,880.8 L493.06,882.64 L493.17,884.51 L493.28,886.39 L493.4,888.28 L493.51,890.18 L493.63,892.1 L493.74,894.03 L493.85,895.96 L493.97,897.9 L494.08,899.85 L494.2,901.8 L494.31,903.76 L494.42,905.72 L494.54,907.69 L494.65,909.65 L494.76,911.62 L494.87,913.58 L494.98,915.54 L495.09,917.5 L495.19,919.45 L495.3,921.39 L495.4,923.33 L495.5,925.27 L495.6,927.19 L495.7,929.1 L495.8,931 L495.89,932.88 L495.99,934.73 L496.08,936.55 L496.17,938.35 L496.26,940.12 L496.35,941.87 L496.44,943.6 L496.52,945.33 L496.61,947.04 L496.69,948.74 L496.77,950.44 L496.86,952.14 L496.94,953.84 L497.02,955.54 L497.1,957.26 L497.18,958.99 L497.26,960.73 L497.33,962.49 L497.41,964.27 L497.49,966.08 L497.57,967.91 L497.65,969.77 L497.73,971.67 L497.8,973.61 L497.88,975.58 L497.96,977.6 L498.04,979.67 L498.12,981.78 L498.2,983.95 L498.28,986.18 L498.36,988.46 L498.44,990.81 L498.52,993.22 L498.6,995.7 L498.74,1000.07 L498.88,1004.82 L499.03,1009.93 L499.18,1015.38 L499.33,1021.14 L499.48,1027.19 L499.64,1033.51 L499.79,1040.07 L499.95,1046.86 L500.11,1053.84 L500.27,1061 L500.44,1068.31 L500.6,1075.75 L500.76,1083.3 L500.92,1090.93 L501.09,1098.62 L501.25,1106.35 L501.41,1114.1 L501.57,1121.84 L501.73,1129.54 L501.88,1137.2 L502.03,1144.77 L502.19,1152.25 L502.33,1159.6 L502.48,1166.81 L502.62,1173.84 L502.76,1180.69 L502.89,1187.32 L503.02,1193.72 L503.15,1199.85 L503.27,1205.7 L503.39,1211.24 L503.5,1216.46 L503.6,1221.32 L503.7,1225.81 L503.8,1229.89 L503.88,1233.56 L503.96,1236.78 L504.03,1239.54 L504.1,1241.8 L504.17,1244.1 L504.24,1245.87 L504.3,1247.29 L504.35,1248.54 L504.41,1249.78 L504.47,1251.2 L504.53,1252.77 L504.59,1254.33 L504.65,1255.9 L504.71,1257.47 L504.77,1259.03 L504.83,1260.6 L504.86,1262.18 L504.86,1263.77 L504.85,1265.36 L504.88,1266.94 L504.99,1268.49 L505.2,1270 L505.48,1271.45 L505.81,1272.94 L506.2,1274.4 L506.68,1275.77 L507.27,1276.99 L508,1278 L508.91,1278.79 L509.95,1279.38 L511.1,1279.84 L512.33,1280.19 L513.6,1280.5 L514.93,1280.72 L516.36,1280.83 L517.86,1280.85 L519.38,1280.83 L520.91,1280.81 L522.4,1280.83 L523.87,1280.89 L525.33,1280.94 L526.8,1281 L528.27,1281.06 L529.73,1281.11 L531.2,1281.17 L532.66,1281.23 L534.11,1281.29 L535.56,1281.35 L537.02,1281.41 L538.5,1281.46 L540,1281.5 L541.39,1281.52 L542.81,1281.53 L544.24,1281.53 L545.68,1281.52 L547.12,1281.51 L548.57,1281.5 L550,1281.5 L551.43,1281.5 L552.86,1281.5 L554.29,1281.5 L555.71,1281.5 L557.14,1281.5 L558.57,1281.5 L560,1281.5 L561.37,1281.51 L562.65,1281.52 L563.91,1281.54 L565.22,1281.55 L566.62,1281.55 L568.2,1281.54 L570,1281.5 L571.24,1281.46 L572.57,1281.42 L573.98,1281.36 L575.48,1281.29 L577.05,1281.21 L578.69,1281.13 L580.4,1281.04 L582.16,1280.94 L583.98,1280.84 L585.86,1280.73 L587.77,1280.62 L589.73,1280.5 L591.72,1280.39 L593.74,1280.27 L595.79,1280.15 L597.85,1280.03 L599.94,1279.92 L602.03,1279.8 L604.12,1279.69 L606.22,1279.58 L608.31,1279.48 L610.39,1279.38 L612.45,1279.29 L614.5,1279.2 L616.28,1279.13 L618.13,1279.06 L620.04,1278.99 L622.01,1278.91 L624.03,1278.84 L626.1,1278.77 L628.22,1278.7 L630.36,1278.63 L632.54,1278.56 L634.75,1278.48 L636.97,1278.41 L639.2,1278.34 L641.44,1278.28 L643.69,1278.21 L645.92,1278.14 L648.15,1278.08 L650.37,1278.01 L652.56,1277.95 L654.72,1277.89 L656.85,1277.83 L658.94,1277.78 L660.99,1277.72 L662.99,1277.67 L664.93,1277.62 L666.81,1277.58 L668.62,1277.53 L670.36,1277.49 L672.02,1277.45 L673.59,1277.42 L675.08,1277.39 L676.47,1277.36 L677.75,1277.34 L678.93,1277.32 L680,1277.3 L681.82,1277.28 L683.32,1277.27 L684.59,1277.28 L685.76,1277.29 L686.93,1277.3 L688.21,1277.3 L689.58,1277.3 L690.94,1277.3 L692.31,1277.3 L693.68,1277.3 L695.05,1277.3 L696.42,1277.3 L697.78,1277.3 L699.15,1277.3 L700.52,1277.3 L701.89,1277.3 L703.26,1277.3 L704.62,1277.3 L705.99,1277.3 L707.36,1277.3 L708.73,1277.3 L710.09,1277.3 L711.46,1277.3 L712.83,1277.3 L714.2,1277.3 L715.57,1277.3 L716.93,1277.3 L718.3,1277.3 L719.67,1277.3 L721.04,1277.3 L722.41,1277.3 L723.77,1277.3 L725.14,1277.3 L726.51,1277.3 L727.88,1277.3 L729.25,1277.3 L730.61,1277.3 L731.98,1277.3 L733.35,1277.3 L734.72,1277.3 L736.09,1277.3 L737.45,1277.3 L738.82,1277.3 L740.19,1277.3 L741.56,1277.3 L742.93,1277.3 L744.29,1277.3 L745.66,1277.3 L747.03,1277.3 L748.4,1277.3 L749.77,1277.3 L751.13,1277.3 L752.5,1277.3 L753.87,1277.3 L755.24,1277.3 L756.61,1277.3 L757.97,1277.3 L759.34,1277.3 L760.71,1277.3 L762.08,1277.3 L763.44,1277.3 L764.81,1277.3 L766.18,1277.3 L767.55,1277.3 L768.92,1277.3 L770.28,1277.3 L771.65,1277.3 L773.02,1277.3 L774.39,1277.3 L775.76,1277.3 L777.12,1277.3 L778.49,1277.3 L779.86,1277.3 L781.23,1277.3 L782.6,1277.3 L783.96,1277.3 L785.33,1277.3 L786.7,1277.3" fill="none" stroke="#000000" stroke-width="6.8" stroke-linejoin="round" stroke-linecap="butt"/>
<path d="M152,792 L153.33,792 L154.67,792 L156,792 L157.33,792 L158.67,792 L160,792 L161.33,792 L162.67,792 L164,792 L165.33,792 L166.67,792 L168,792 L169.33,792 L170.67,792 L172,792 L173.33,792 L174.67,792 L176,792 L177.33,792 L178.67,792 L180,792 L181.33,792 L182.67,792 L184,792 L185.33,792 L186.67,792 L188,792 L189.33,792 L190.67,792 L192,792 L193.33,792 L194.67,792 L196,792 L197.33,792 L198.67,792 L200,792 L201.33,792 L202.67,792 L204,792 L205.33,792 L206.67,792 L208,792 L209.33,792 L210.67,792 L212,792 L213.33,792 L214.67,792 L216,792 L217.33,792 L218.67,792 L220,792 L221.33,792 L222.67,792 L224,792 L225.33,792 L226.67,792 L228,792 L229.33,792 L230.67,792 L232,792 L233.33,792 L234.67,792 L236,792 L237.33,792 L238.67,792 L240,792 L241.33,792 L242.67,792 L244,792 L245.33,792 L246.67,792 L248,792 L249.33,792 L250.67,792 L252,792 L253.33,792 L254.67,792 L256,792 L257.33,792 L258.67,792 L260,792 L261.33,792 L262.67,792 L264,792 L265.33,792 L266.67,792 L268,792 L269.33,792 L270.67,792 L272,792 L273.33,792 L274.67,792 L276,792 L277.33,792 L278.67,792 L280,792 L281.33,792 L282.67,792 L284,792 L285.33,792 L286.67,792 L288,792 L289.33,792 L290.67,792 L292,792 L293.33,792 L294.67,792 L296,792 L297.33,792 L298.67,792 L300,792 L301.33,792 L302.67,792 L304,792 L305.33,792 L306.67,792 L308,792 L309.33,792 L310.67,792 L312,792 L313.33,792 L314.67,792 L316,792 L317.33,792 L318.67,792 L320,792 L321.33,792 L322.67,792 L324,792 L325.33,792 L326.67,792 L328,792 L329.33,792 L330.67,792 L332,792 L333.33,792 L334.67,792 L336,792 L337.33,792 L338.67,792 L340,792 L341.33,792 L342.67,792 L344,792 L345.33,792 L346.67,792 L348,792 L349.33,792 L350.67,792 L352,792 L353.33,792 L354.67,792 L356,792 L357.33,792 L358.67,792 L360,792 L361.33,792 L362.67,792 L364,792 L365.33,792 L366.67,792 L368,792 L369.33,792 L370.67,792 L372,792 L373.33,792 L374.67,792 L376,792 L377.33,792 L378.67,792 L380,792 L381.33,792 L382.67,792 L384,792 L385.33,792 L386.67,792 L388,792 L389.33,792 L390.67,792 L392,792 L393.33,792 L394.66,792 L395.99,792 L397.32,792 L398.66,792 L400,792 L401.37,792.01 L402.74,792.02 L404.11,792.03 L405.49,792.04 L406.87,792.05 L408.24,792.06 L409.61,792.07 L410.99,792.08 L412.36,792.09 L413.73,792.1 L415.11,792.11 L416.48,792.12 L417.85,792.13 L419.23,792.14 L420.6,792.15 L421.97,792.16 L423.35,792.17 L424.72,792.18 L426.09,792.19 L427.47,792.2 L428.84,792.21 L430.21,792.22 L431.59,792.23 L432.96,792.24 L434.32,792.24 L435.67,792.24 L437.02,792.24 L438.38,792.25 L439.77,792.26 L441.2,792.3 L442.62,792.36 L444.08,792.43 L445.57,792.52 L447.08,792.61 L448.59,792.71 L450.1,792.81 L451.6,792.9 L453.08,792.97 L454.56,793.01 L456.04,793.04 L457.52,793.09 L459.01,793.17 L460.5,793.3 L462,793.5 L463.65,793.76 L465.38,794.06 L467.12,794.4 L468.85,794.8 L470.5,795.27 L472.03,795.83 L473.4,796.5 L474.78,797.39 L476.01,798.39 L477.11,799.51 L478.11,800.71 L479,802 L479.69,803.18 L480.27,804.4 L480.76,805.7 L481.2,807.09 L481.6,808.61 L482,810.3 L482.27,811.59 L482.52,812.93 L482.75,814.33 L482.95,815.79 L483.13,817.32 L483.31,818.91 L483.46,820.57 L483.61,822.31 L483.76,824.13 L483.9,826.02 L484.04,828.01 L484.19,830.08 L484.34,832.24 L484.5,834.5 L484.62,836.16 L484.73,837.9 L484.84,839.73 L484.95,841.64 L485.06,843.63 L485.17,845.7 L485.28,847.83 L485.39,850.02 L485.49,852.28 L485.6,854.6 L485.7,856.96 L485.8,859.38 L485.91,861.85 L486.01,864.35 L486.11,866.9 L486.21,869.47 L486.3,872.08 L486.4,874.71 L486.5,877.37 L486.6,880.04 L486.69,882.72 L486.79,885.42 L486.88,888.12 L486.98,890.83 L487.07,893.53 L487.17,896.23 L487.26,898.92 L487.36,901.59 L487.45,904.25 L487.55,906.89 L487.64,909.5 L487.74,912.08 L487.83,914.63 L487.92,917.14 L488.02,919.61 L488.12,922.03 L488.21,924.41 L488.31,926.73 L488.4,928.99 L488.5,931.2 L488.59,933.26 L488.69,935.27 L488.78,937.22 L488.87,939.13 L488.97,941 L489.06,942.83 L489.15,944.62 L489.25,946.39 L489.34,948.13 L489.43,949.85 L489.52,951.56 L489.62,953.25 L489.71,954.93 L489.8,956.61 L489.89,958.29 L489.99,959.97 L490.08,961.66 L490.17,963.36 L490.26,965.08 L490.35,966.82 L490.44,968.59 L490.53,970.38 L490.62,972.21 L490.71,974.07 L490.8,975.98 L490.89,977.93 L490.98,979.93 L491.07,981.99 L491.16,984.1 L491.25,986.28 L491.34,988.53 L491.43,990.84 L491.51,993.23 L491.6,995.7 L491.74,1000.05 L491.88,1004.74 L492.02,1009.77 L492.16,1015.1 L492.3,1020.72 L492.43,1026.61 L492.56,1032.75 L492.69,1039.12 L492.82,1045.69 L492.95,1052.45 L493.08,1059.38 L493.21,1066.45 L493.33,1073.65 L493.46,1080.95 L493.58,1088.35 L493.71,1095.8 L493.83,1103.31 L493.95,1110.83 L494.08,1118.37 L494.2,1125.88 L494.32,1133.36 L494.45,1140.79 L494.57,1148.14 L494.69,1155.39 L494.82,1162.53 L494.94,1169.53 L495.07,1176.37 L495.19,1183.03 L495.32,1189.5 L495.45,1195.75 L495.58,1201.76 L495.71,1207.51 L495.84,1212.99 L495.97,1218.16 L496.1,1223.02 L496.24,1227.53 L496.38,1231.69 L496.52,1235.47 L496.66,1238.84 L496.8,1241.8 L496.92,1244.3 L497.01,1246.58 L497.08,1248.65 L497.15,1250.54 L497.21,1252.28 L497.29,1253.89 L497.38,1255.38 L497.51,1256.79 L497.67,1258.13 L497.88,1259.43 L498.16,1260.71 L498.5,1262 L499.03,1263.73 L499.61,1265.35 L500.26,1266.84 L501.02,1268.2 L501.92,1269.43 L503,1270.5 L504.12,1271.32 L505.32,1271.97 L506.63,1272.49 L508.09,1272.91 L509.71,1273.28 L511.54,1273.63 L513.6,1274 L514.77,1274.19 L516.09,1274.37 L517.54,1274.54 L519.11,1274.69 L520.79,1274.84 L522.58,1274.97 L524.46,1275.1 L526.43,1275.21 L528.48,1275.32 L530.59,1275.41 L532.76,1275.5 L534.98,1275.58 L537.24,1275.66 L539.53,1275.72 L541.84,1275.78 L544.16,1275.84 L546.48,1275.89 L548.8,1275.93 L551.1,1275.97 L553.37,1276.01 L555.61,1276.04 L557.8,1276.07 L559.94,1276.09 L562.01,1276.12 L564.02,1276.14 L565.94,1276.16 L567.76,1276.18 L569.49,1276.2 L571.11,1276.21 L572.61,1276.23 L573.98,1276.25 L575.21,1276.28 L576.3,1276.3 L578.11,1276.34 L579.6,1276.36 L580.87,1276.37 L582.04,1276.38 L583.21,1276.39 L584.49,1276.4 L585.85,1276.42 L587.22,1276.43 L588.58,1276.45 L589.95,1276.47 L591.31,1276.48 L592.68,1276.5 L594.04,1276.52 L595.41,1276.53 L596.77,1276.55 L598.14,1276.57 L599.5,1276.58 L600.87,1276.6 L602.23,1276.62 L603.6,1276.63 L604.96,1276.65 L606.33,1276.67 L607.69,1276.68 L609.06,1276.7 L610.42,1276.72 L611.79,1276.73 L613.15,1276.75 L614.51,1276.77 L615.88,1276.78 L617.24,1276.8 L618.61,1276.82 L619.97,1276.83 L621.34,1276.85 L622.7,1276.87 L624.07,1276.88 L625.43,1276.9 L626.8,1276.92 L628.16,1276.93 L629.53,1276.95 L630.89,1276.97 L632.26,1276.98 L633.62,1277 L634.99,1277.02 L636.35,1277.03 L637.72,1277.05 L639.08,1277.07 L640.45,1277.08 L641.81,1277.1 L643.18,1277.12 L644.54,1277.14 L645.91,1277.16 L647.28,1277.17 L648.64,1277.19 L650,1277.2 L651.34,1277.21 L652.69,1277.21 L654.03,1277.21 L655.36,1277.21 L656.7,1277.21 L658.04,1277.21 L659.38,1277.21 L660.72,1277.21 L662.06,1277.21 L663.4,1277.21 L664.74,1277.21 L666.08,1277.21 L667.42,1277.21 L668.76,1277.21 L670.1,1277.21 L671.44,1277.22 L672.78,1277.22 L674.12,1277.22 L675.46,1277.22 L676.8,1277.22 L678.14,1277.22 L679.48,1277.22 L680.82,1277.22 L682.16,1277.22 L683.5,1277.22 L684.85,1277.23 L686.19,1277.23 L687.53,1277.23 L688.87,1277.23 L690.21,1277.23 L691.55,1277.23 L692.89,1277.23 L694.23,1277.23 L695.57,1277.23 L696.91,1277.23 L698.25,1277.24 L699.59,1277.24 L700.93,1277.24 L702.27,1277.24 L703.61,1277.24 L704.95,1277.24 L706.29,1277.24 L707.63,1277.24 L708.97,1277.24 L710.31,1277.24 L711.65,1277.25 L712.99,1277.25 L714.33,1277.25 L715.67,1277.25 L717.01,1277.25 L718.35,1277.25 L719.69,1277.25 L721.03,1277.25 L722.37,1277.25 L723.71,1277.25 L725.05,1277.25 L726.39,1277.26 L727.73,1277.26 L729.07,1277.26 L730.41,1277.26 L731.75,1277.26 L733.09,1277.26 L734.43,1277.26 L735.77,1277.26 L737.11,1277.26 L738.45,1277.26 L739.79,1277.27 L741.13,1277.27 L742.47,1277.27 L743.81,1277.27 L745.15,1277.27 L746.49,1277.27 L747.83,1277.27 L749.17,1277.27 L750.51,1277.27 L751.85,1277.27 L753.2,1277.28 L754.54,1277.28 L755.88,1277.28 L757.22,1277.28 L758.56,1277.28 L759.9,1277.28 L761.24,1277.28 L762.58,1277.28 L763.92,1277.28 L765.26,1277.28 L766.6,1277.29 L767.94,1277.29 L769.28,1277.29 L770.62,1277.29 L771.96,1277.29 L773.3,1277.29 L774.64,1277.29 L775.98,1277.29 L777.32,1277.29 L778.66,1277.29 L780,1277.3 L781.34,1277.3 L782.68,1277.3 L784.02,1277.3 L785.36,1277.3 L786.7,1277.3" fill="none" stroke="#00ff00" stroke-width="6.8" stroke-linejoin="round" stroke-linecap="butt"/>
<path d="M152,792 L153.36,792 L154.71,792 L156.07,792 L157.43,792 L158.79,792 L160.14,792 L161.5,792 L162.86,792 L164.21,792 L165.57,792 L166.93,792 L168.29,792 L169.64,792 L171,792 L172.36,792 L173.71,792 L175.07,792 L176.43,792 L177.79,792 L179.14,792 L180.5,792 L181.86,792 L183.21,792 L184.57,792 L185.93,792 L187.29,792 L188.64,792 L190,792 L191.36,792 L192.71,792 L194.07,792 L195.43,792 L196.79,792 L198.14,792 L199.5,792 L200.86,792 L202.21,792 L203.57,792 L204.93,792 L206.29,792 L207.64,792 L209,792 L210.36,792 L211.71,792 L213.07,792 L214.43,792 L215.79,792 L217.14,792 L218.5,792 L219.86,792 L221.21,792 L222.57,792 L223.93,792 L225.29,792 L226.64,792 L228,792 L229.36,792 L230.71,792 L232.07,792 L233.43,792 L234.79,792 L236.14,792 L237.5,792 L238.86,792 L240.21,792 L241.57,792 L242.93,792 L244.29,792 L245.64,792 L247,792 L248.36,792 L249.71,792 L251.07,792 L252.43,792 L253.79,792 L255.14,792 L256.5,792 L257.86,792 L259.21,792 L260.57,792 L261.93,792 L263.29,792 L264.64,792 L266,792 L267.36,792 L268.71,792 L270.07,792 L271.43,792 L272.79,792 L274.14,792 L275.5,792 L276.86,792 L278.21,792 L279.57,792 L280.93,792 L282.29,792 L283.64,792 L285,792 L286.36,792 L287.71,792 L289.07,792 L290.43,792 L291.79,792 L293.14,792 L294.5,792 L295.86,792 L297.21,792 L298.57,792 L299.93,792 L301.29,792 L302.64,792 L304,792 L305.36,792 L306.71,792 L308.07,792 L309.43,792 L310.79,792 L312.14,792 L313.5,792 L314.86,792 L316.21,792 L317.57,792 L318.93,792 L320.29,792 L321.64,792 L323,792 L324.36,792 L325.71,792 L327.07,792 L328.43,792 L329.79,792 L331.14,792 L332.5,792 L333.86,792 L335.21,792 L336.57,792 L337.93,792 L339.29,792 L340.64,792 L342,792 L343.36,792 L344.71,792 L346.07,792 L347.43,792 L348.79,792 L350.14,792 L351.5,792 L352.86,792 L354.21,792 L355.57,792 L356.93,792 L358.29,792 L359.64,792 L361,792 L362.36,792 L363.71,792 L365.07,792 L366.43,792 L367.79,792 L369.14,792 L370.5,792 L371.86,792 L373.21,792 L374.56,792 L375.92,791.99 L377.27,791.99 L378.63,791.99 L380,792 L381.42,792.01 L382.84,792.03 L384.27,792.06 L385.7,792.08 L387.14,792.11 L388.57,792.13 L389.99,792.16 L391.42,792.18 L392.85,792.2 L394.28,792.22 L395.71,792.24 L397.13,792.27 L398.51,792.27 L399.81,792.26 L401.12,792.25 L402.49,792.26 L403.99,792.3 L405.7,792.4 L407.08,792.49 L408.6,792.6 L410.23,792.71 L411.97,792.84 L413.78,792.99 L415.67,793.15 L417.61,793.33 L419.58,793.53 L421.58,793.76 L423.58,794.02 L425.57,794.31 L427.53,794.63 L429.45,794.98 L431.31,795.37 L433.1,795.8 L434.8,796.26 L436.53,796.77 L438.26,797.33 L440,797.93 L441.73,798.55 L443.46,799.21 L445.16,799.89 L446.84,800.58 L448.49,801.29 L450.1,802.01 L451.66,802.72 L453.17,803.44 L454.62,804.14 L456,804.83 L457.3,805.5 L458.9,806.35 L460.41,807.17 L461.82,807.99 L463.16,808.81 L464.44,809.66 L465.66,810.55 L466.84,811.49 L468,812.5 L469.1,813.54 L470.18,814.63 L471.21,815.76 L472.19,816.92 L473.12,818.13 L473.99,819.38 L474.78,820.67 L475.5,822 L476.14,823.39 L476.68,824.79 L477.14,826.22 L477.54,827.7 L477.89,829.24 L478.2,830.88 L478.5,832.63 L478.8,834.5 L479,835.88 L479.18,837.29 L479.33,838.73 L479.46,840.22 L479.58,841.74 L479.68,843.31 L479.76,844.92 L479.84,846.58 L479.9,848.3 L479.96,850.08 L480.02,851.91 L480.07,853.81 L480.13,855.77 L480.19,857.81 L480.25,859.91 L480.32,862.09 L480.41,864.36 L480.5,866.7 L480.59,868.89 L480.69,871.16 L480.78,873.51 L480.87,875.93 L480.97,878.43 L481.07,881 L481.16,883.64 L481.26,886.35 L481.36,889.12 L481.46,891.95 L481.56,894.85 L481.66,897.8 L481.76,900.81 L481.87,903.88 L481.97,907 L482.07,910.17 L482.18,913.39 L482.28,916.65 L482.39,919.96 L482.49,923.3 L482.6,926.69 L482.71,930.12 L482.81,933.58 L482.92,937.07 L483.03,940.59 L483.14,944.15 L483.25,947.73 L483.36,951.33 L483.47,954.96 L483.58,958.6 L483.69,962.27 L483.8,965.95 L483.91,969.64 L484.02,973.35 L484.14,977.06 L484.25,980.78 L484.36,984.51 L484.47,988.24 L484.59,991.97 L484.7,995.7 L484.85,1000.94 L485,1006.46 L485.14,1012.22 L485.29,1018.21 L485.42,1024.42 L485.56,1030.82 L485.69,1037.4 L485.82,1044.14 L485.95,1051.03 L486.08,1058.03 L486.2,1065.15 L486.33,1072.35 L486.46,1079.63 L486.58,1086.95 L486.71,1094.32 L486.84,1101.7 L486.98,1109.08 L487.11,1116.44 L487.25,1123.77 L487.39,1131.04 L487.53,1138.24 L487.68,1145.35 L487.83,1152.35 L487.99,1159.22 L488.15,1165.96 L488.32,1172.53 L488.49,1178.92 L488.67,1185.12 L488.86,1191.1 L489.05,1196.85 L489.26,1202.34 L489.47,1207.57 L489.69,1212.52 L489.92,1217.15 L490.15,1221.47 L490.4,1225.45 L490.66,1229.07 L490.93,1232.31 L491.21,1235.16 L491.5,1237.6 L491.83,1239.95 L492.14,1241.94 L492.46,1243.63 L492.78,1245.1 L493.14,1246.4 L493.53,1247.6 L493.98,1248.78 L494.5,1250 L495.22,1251.5 L496.01,1252.86 L496.87,1254.12 L497.83,1255.32 L498.9,1256.5 L499.87,1257.45 L500.92,1258.38 L502.04,1259.29 L503.22,1260.16 L504.45,1260.99 L505.71,1261.77 L507,1262.5 L508.35,1263.21 L509.65,1263.86 L510.99,1264.46 L512.41,1265.01 L513.97,1265.53 L515.75,1266.02 L517.8,1266.5 L518.97,1266.73 L520.22,1266.96 L521.56,1267.16 L522.98,1267.36 L524.47,1267.54 L526.03,1267.71 L527.66,1267.87 L529.35,1268.02 L531.09,1268.16 L532.9,1268.29 L534.75,1268.42 L536.65,1268.54 L538.59,1268.65 L540.57,1268.76 L542.59,1268.86 L544.63,1268.96 L546.71,1269.06 L548.8,1269.16 L550.92,1269.25 L553.05,1269.35 L555.19,1269.44 L557.33,1269.54 L559.48,1269.64 L561.63,1269.74 L563.77,1269.85 L565.91,1269.96 L568.03,1270.07 L570.13,1270.19 L572.21,1270.32 L574.27,1270.46 L576.3,1270.6 L578.11,1270.73 L579.98,1270.88 L581.89,1271.02 L583.86,1271.17 L585.86,1271.33 L587.91,1271.49 L589.99,1271.66 L592.1,1271.83 L594.24,1272 L596.4,1272.17 L598.58,1272.35 L600.78,1272.53 L602.99,1272.71 L605.2,1272.89 L607.42,1273.07 L609.64,1273.25 L611.86,1273.44 L614.07,1273.62 L616.26,1273.8 L618.44,1273.97 L620.6,1274.15 L622.74,1274.32 L624.85,1274.49 L626.92,1274.66 L628.97,1274.82 L630.97,1274.98 L632.93,1275.13 L634.84,1275.28 L636.7,1275.42 L638.51,1275.56 L640.26,1275.69 L641.94,1275.81 L643.56,1275.93 L645.11,1276.04 L646.58,1276.14 L647.98,1276.23 L649.29,1276.31 L650.52,1276.39 L651.66,1276.45 L652.7,1276.5 L654.8,1276.58 L656.52,1276.63 L658,1276.64 L659.34,1276.64 L660.69,1276.64 L662.16,1276.66 L663.74,1276.69 L665.31,1276.71 L666.89,1276.74 L668.47,1276.77 L670.04,1276.79 L671.62,1276.82 L673.2,1276.85 L674.77,1276.87 L676.35,1276.9 L677.93,1276.93 L679.5,1276.95 L681.08,1276.98 L682.66,1277.01 L684.23,1277.03 L685.81,1277.06 L687.39,1277.09 L688.96,1277.11 L690.54,1277.14 L692.12,1277.17 L693.71,1277.2 L695.3,1277.23 L696.88,1277.26 L698.45,1277.28 L700,1277.3 L701.47,1277.31 L702.92,1277.31 L704.36,1277.31 L705.79,1277.31 L707.23,1277.3 L708.67,1277.3 L710.12,1277.3 L711.56,1277.3 L713,1277.3 L714.45,1277.3 L715.89,1277.3 L717.34,1277.3 L718.79,1277.3 L720.23,1277.3 L721.67,1277.3 L723.12,1277.3 L724.57,1277.3 L726.01,1277.3 L727.46,1277.3 L728.9,1277.3 L730.35,1277.3 L731.79,1277.3 L733.24,1277.3 L734.68,1277.3 L736.12,1277.3 L737.57,1277.3 L739.02,1277.3 L740.46,1277.3 L741.9,1277.3 L743.35,1277.3 L744.79,1277.3 L746.24,1277.3 L747.68,1277.3 L749.13,1277.3 L750.58,1277.3 L752.02,1277.3 L753.46,1277.3 L754.91,1277.3 L756.36,1277.3 L757.8,1277.3 L759.25,1277.3 L760.69,1277.3 L762.13,1277.3 L763.58,1277.3 L765.03,1277.3 L766.47,1277.3 L767.91,1277.3 L769.36,1277.3 L770.81,1277.3 L772.25,1277.3 L773.7,1277.3 L775.14,1277.3 L776.59,1277.3 L778.03,1277.3 L779.48,1277.3 L780.92,1277.3 L782.37,1277.3 L783.81,1277.3 L785.26,1277.3 L786.7,1277.3" fill="none" stroke="#0000ff" stroke-width="6.8" stroke-linejoin="round" stroke-linecap="butt"/>
<path d="M152,792 L153.35,792 L154.7,792 L156.05,792 L157.39,792 L158.74,792 L160.09,792 L161.44,792 L162.79,792 L164.14,792 L165.48,792 L166.83,792 L168.18,792 L169.53,792 L170.88,792 L172.23,792 L173.58,792 L174.92,792 L176.27,792 L177.62,792 L178.97,792 L180.32,792 L181.67,792 L183.02,792 L184.36,792 L185.71,792 L187.06,792 L188.41,792 L189.76,792 L191.11,792 L192.45,792 L193.8,792 L195.15,792 L196.5,792 L197.85,792 L199.2,792 L200.55,792 L201.89,792 L203.24,792 L204.59,792 L205.94,792 L207.29,792 L208.64,792 L209.98,792 L211.33,792 L212.68,792 L214.03,792 L215.38,792 L216.73,792 L218.08,792 L219.42,792 L220.77,792 L222.12,792 L223.47,792 L224.82,792 L226.17,792 L227.52,792 L228.86,792 L230.21,792 L231.56,792 L232.91,792 L234.26,792 L235.61,792 L236.95,792 L238.3,792 L239.65,792 L241,792 L242.35,792 L243.7,792 L245.05,792 L246.39,792 L247.74,792 L249.09,792 L250.44,792 L251.79,792 L253.14,792 L254.48,792 L255.83,792 L257.18,792 L258.53,792 L259.88,792 L261.23,792 L262.58,792 L263.92,792 L265.27,792 L266.62,792 L267.97,792 L269.32,792 L270.67,792 L272.02,792 L273.36,792 L274.71,792 L276.06,792 L277.41,792 L278.76,792 L280.11,792 L281.45,792 L282.8,792 L284.15,792 L285.5,792 L286.85,792 L288.2,792 L289.55,792 L290.89,792 L292.24,792 L293.59,792 L294.94,792 L296.29,792 L297.64,792 L298.98,792 L300.33,792 L301.68,792 L303.03,792 L304.38,792 L305.73,792 L307.08,792 L308.42,792 L309.77,792 L311.12,792 L312.47,792 L313.82,792 L315.17,792 L316.52,792 L317.86,792 L319.21,792 L320.56,792 L321.91,792 L323.24,792 L324.54,791.99 L325.84,791.98 L327.16,791.98 L328.54,791.98 L330,792 L331.41,792.02 L332.82,792.04 L334.25,792.07 L335.74,792.1 L337.32,792.14 L339.02,792.21 L340.87,792.29 L342.9,792.4 L344.2,792.47 L345.59,792.55 L347.08,792.64 L348.65,792.73 L350.3,792.83 L352.02,792.93 L353.81,793.04 L355.65,793.15 L357.55,793.27 L359.48,793.4 L361.46,793.53 L363.47,793.67 L365.5,793.82 L367.55,793.97 L369.61,794.13 L371.68,794.3 L373.74,794.47 L375.8,794.65 L377.84,794.84 L379.86,795.03 L381.85,795.23 L383.8,795.44 L385.71,795.66 L387.57,795.88 L389.38,796.11 L391.12,796.35 L392.8,796.6 L394.78,796.91 L396.73,797.23 L398.66,797.56 L400.56,797.9 L402.43,798.24 L404.28,798.6 L406.11,798.97 L407.91,799.35 L409.69,799.74 L411.46,800.14 L413.2,800.56 L414.93,800.98 L416.64,801.42 L418.34,801.87 L420.02,802.33 L421.69,802.81 L423.35,803.3 L425,803.8 L426.75,804.35 L428.5,804.91 L430.25,805.49 L431.98,806.08 L433.71,806.68 L435.41,807.3 L437.09,807.93 L438.74,808.57 L440.36,809.23 L441.95,809.91 L443.5,810.59 L445,811.3 L446.45,812.02 L447.85,812.75 L449.2,813.5 L450.72,814.41 L452.17,815.34 L453.56,816.3 L454.89,817.28 L456.17,818.27 L457.41,819.29 L458.6,820.32 L459.76,821.37 L460.89,822.43 L462,823.5 L463.24,824.74 L464.44,826 L465.6,827.28 L466.71,828.58 L467.76,829.9 L468.75,831.25 L469.67,832.61 L470.5,834 L471.29,835.47 L471.98,836.94 L472.59,838.41 L473.13,839.93 L473.62,841.52 L474.07,843.2 L474.5,845 L474.81,846.48 L475.08,847.96 L475.31,849.45 L475.5,850.99 L475.67,852.57 L475.82,854.23 L475.95,855.97 L476.08,857.83 L476.2,859.81 L476.32,861.94 L476.45,864.23 L476.6,866.7 L476.71,868.63 L476.82,870.67 L476.93,872.82 L477.04,875.06 L477.15,877.41 L477.25,879.86 L477.35,882.39 L477.45,885.02 L477.54,887.73 L477.64,890.52 L477.73,893.39 L477.82,896.34 L477.91,899.35 L478,902.44 L478.09,905.59 L478.18,908.81 L478.26,912.08 L478.34,915.41 L478.42,918.79 L478.5,922.22 L478.58,925.69 L478.66,929.2 L478.73,932.76 L478.81,936.34 L478.88,939.96 L478.96,943.61 L479.03,947.28 L479.1,950.97 L479.17,954.68 L479.24,958.41 L479.31,962.14 L479.38,965.89 L479.44,969.63 L479.51,973.38 L479.58,977.13 L479.64,980.87 L479.71,984.6 L479.77,988.32 L479.84,992.02 L479.9,995.7 L479.98,1000.67 L480.03,1005.88 L480.08,1011.31 L480.11,1016.95 L480.12,1022.78 L480.13,1028.78 L480.12,1034.93 L480.11,1041.23 L480.08,1047.65 L480.05,1054.18 L480.01,1060.8 L479.97,1067.5 L479.93,1074.26 L479.88,1081.06 L479.84,1087.9 L479.79,1094.74 L479.74,1101.58 L479.7,1108.4 L479.67,1115.18 L479.63,1121.92 L479.61,1128.58 L479.59,1135.16 L479.58,1141.64 L479.58,1148 L479.59,1154.23 L479.62,1160.31 L479.66,1166.22 L479.71,1171.96 L479.78,1177.49 L479.87,1182.82 L479.98,1187.91 L480.11,1192.76 L480.26,1197.35 L480.43,1201.66 L480.62,1205.68 L480.84,1209.39 L481.09,1212.77 L481.36,1215.81 L481.67,1218.49 L482,1220.8 L482.41,1223.11 L482.83,1225.04 L483.26,1226.67 L483.71,1228.08 L484.2,1229.33 L484.74,1230.52 L485.34,1231.72 L486,1233 L486.78,1234.39 L487.62,1235.72 L488.52,1236.99 L489.47,1238.23 L490.48,1239.43 L491.52,1240.62 L492.6,1241.8 L493.65,1242.9 L494.76,1243.99 L495.91,1245.07 L497.1,1246.13 L498.31,1247.15 L499.54,1248.15 L500.77,1249.1 L502,1250 L503.25,1250.91 L504.42,1251.78 L505.58,1252.6 L506.8,1253.38 L508.15,1254.13 L509.7,1254.83 L511.5,1255.5 L512.67,1255.86 L513.95,1256.19 L515.31,1256.5 L516.75,1256.79 L518.28,1257.05 L519.89,1257.29 L521.56,1257.52 L523.29,1257.73 L525.09,1257.93 L526.94,1258.12 L528.83,1258.3 L530.77,1258.47 L532.74,1258.63 L534.75,1258.8 L536.78,1258.96 L538.83,1259.13 L540.89,1259.29 L542.97,1259.47 L545.05,1259.65 L547.12,1259.84 L549.2,1260.04 L551.25,1260.25 L553.29,1260.48 L555.31,1260.73 L557.3,1261 L559.07,1261.25 L560.86,1261.52 L562.68,1261.79 L564.53,1262.08 L566.39,1262.37 L568.28,1262.67 L570.18,1262.97 L572.1,1263.29 L574.03,1263.61 L575.98,1263.93 L577.94,1264.26 L579.9,1264.59 L581.88,1264.93 L583.85,1265.27 L585.84,1265.61 L587.82,1265.95 L589.8,1266.29 L591.78,1266.63 L593.76,1266.97 L595.73,1267.31 L597.69,1267.64 L599.65,1267.97 L601.59,1268.3 L603.52,1268.62 L605.44,1268.94 L607.33,1269.25 L609.21,1269.56 L611.07,1269.85 L612.91,1270.14 L614.72,1270.42 L616.51,1270.69 L618.27,1270.95 L620,1271.2 L622.02,1271.49 L624.07,1271.77 L626.13,1272.06 L628.2,1272.34 L630.28,1272.62 L632.35,1272.89 L634.42,1273.17 L636.47,1273.43 L638.51,1273.7 L640.52,1273.95 L642.51,1274.2 L644.47,1274.44 L646.38,1274.67 L648.25,1274.89 L650.07,1275.1 L651.84,1275.3 L653.54,1275.49 L655.18,1275.66 L656.75,1275.82 L658.24,1275.96 L659.65,1276.09 L660.97,1276.2 L662.2,1276.3 L664.16,1276.42 L665.85,1276.49 L667.34,1276.51 L668.75,1276.52 L670.15,1276.52 L671.65,1276.55 L673.23,1276.59 L674.8,1276.63 L676.38,1276.67 L677.95,1276.72 L679.52,1276.76 L681.1,1276.8 L682.68,1276.84 L684.25,1276.88 L685.82,1276.92 L687.4,1276.97 L688.97,1277.01 L690.55,1277.05 L692.13,1277.09 L693.72,1277.14 L695.3,1277.19 L696.88,1277.24 L698.45,1277.27 L700,1277.3 L701.47,1277.31 L702.92,1277.32 L704.36,1277.31 L705.79,1277.31 L707.23,1277.3 L708.67,1277.3 L710.12,1277.3 L711.56,1277.3 L713,1277.3 L714.45,1277.3 L715.89,1277.3 L717.34,1277.3 L718.79,1277.3 L720.23,1277.3 L721.67,1277.3 L723.12,1277.3 L724.57,1277.3 L726.01,1277.3 L727.46,1277.3 L728.9,1277.3 L730.35,1277.3 L731.79,1277.3 L733.24,1277.3 L734.68,1277.3 L736.12,1277.3 L737.57,1277.3 L739.02,1277.3 L740.46,1277.3 L741.9,1277.3 L743.35,1277.3 L744.79,1277.3 L746.24,1277.3 L747.68,1277.3 L749.13,1277.3 L750.58,1277.3 L752.02,1277.3 L753.46,1277.3 L754.91,1277.3 L756.36,1277.3 L757.8,1277.3 L759.25,1277.3 L760.69,1277.3 L762.13,1277.3 L763.58,1277.3 L765.03,1277.3 L766.47,1277.3 L767.91,1277.3 L769.36,1277.3 L770.81,1277.3 L772.25,1277.3 L773.7,1277.3 L775.14,1277.3 L776.59,1277.3 L778.03,1277.3 L779.48,1277.3 L780.92,1277.3 L782.37,1277.3 L783.81,1277.3 L785.26,1277.3 L786.7,1277.3" fill="none" stroke="#ff00ff" stroke-width="6.8" stroke-linejoin="round" stroke-linecap="butt"/>
<path d="M152,792 L153.37,792 L154.74,792 L156.11,792 L157.48,792 L158.85,792 L160.22,792 L161.59,792 L162.96,792 L164.33,792 L165.7,792 L167.07,792 L168.44,792 L169.81,792 L171.19,792 L172.56,792 L173.93,792 L175.3,792 L176.67,792 L178.04,792 L179.41,792 L180.78,792 L182.15,792 L183.52,792 L184.89,792 L186.26,792 L187.63,792 L189,792 L190.37,792 L191.74,792 L193.11,792 L194.48,792 L195.85,792 L197.22,792 L198.59,792 L199.96,792 L201.33,792 L202.7,792 L204.07,792 L205.44,792 L206.81,792 L208.19,792 L209.56,792 L210.93,792 L212.3,792 L213.67,792 L215.04,792 L216.41,792 L217.78,792 L219.15,792 L220.52,792 L221.89,792 L223.26,792 L224.63,792 L226,792 L227.37,792 L228.74,792 L230.11,792 L231.48,792 L232.85,792 L234.22,792 L235.59,792 L236.96,792 L238.33,792 L239.7,792 L241.07,792 L242.44,792 L243.81,792 L245.19,792 L246.56,792 L247.93,792 L249.3,792 L250.67,792 L252.04,792 L253.41,792 L254.78,792 L256.15,792 L257.52,792 L258.89,792 L260.26,792 L261.63,792 L263,792 L264.37,792 L265.74,792 L267.11,792 L268.48,792 L269.85,792 L271.22,792 L272.59,792 L273.96,792 L275.33,792 L276.7,792 L278.07,792 L279.44,792 L280.81,792 L282.19,792 L283.56,792 L284.93,792 L286.3,792 L287.67,792 L289.04,792 L290.41,792 L291.78,792 L293.15,792 L294.52,792 L295.89,791.99 L297.26,791.99 L298.63,791.99 L300,792 L301.38,792.01 L302.75,792.03 L304.13,792.04 L305.51,792.06 L306.88,792.08 L308.26,792.1 L309.64,792.12 L311.01,792.13 L312.39,792.15 L313.77,792.17 L315.14,792.18 L316.52,792.2 L317.9,792.22 L319.27,792.23 L320.65,792.25 L322.03,792.27 L323.4,792.28 L324.78,792.3 L326.16,792.32 L327.53,792.33 L328.91,792.35 L330.29,792.37 L331.66,792.38 L333.04,792.4 L334.35,792.39 L335.58,792.36 L336.82,792.33 L338.13,792.32 L339.6,792.37 L341.3,792.5 L342.59,792.64 L344,792.82 L345.53,793.03 L347.17,793.28 L348.91,793.56 L350.73,793.86 L352.62,794.19 L354.57,794.54 L356.57,794.91 L358.6,795.3 L360.66,795.7 L362.74,796.1 L364.82,796.52 L366.89,796.94 L368.94,797.36 L370.96,797.78 L372.93,798.2 L374.85,798.6 L376.7,799 L378.55,799.39 L380.4,799.79 L382.25,800.18 L384.1,800.57 L385.96,800.96 L387.81,801.35 L389.65,801.75 L391.49,802.16 L393.32,802.58 L395.13,803.01 L396.93,803.44 L398.72,803.9 L400.49,804.37 L402.24,804.85 L403.97,805.36 L405.67,805.88 L407.35,806.43 L409,807 L410.75,807.64 L412.48,808.29 L414.19,808.97 L415.89,809.66 L417.56,810.38 L419.22,811.11 L420.85,811.86 L422.46,812.62 L424.05,813.4 L425.61,814.2 L427.15,815.01 L428.66,815.84 L430.14,816.68 L431.58,817.53 L433,818.4 L434.53,819.38 L436.04,820.39 L437.52,821.43 L438.97,822.5 L440.38,823.58 L441.77,824.67 L443.11,825.78 L444.42,826.89 L445.68,828 L446.9,829.11 L448.07,830.21 L449.2,831.3 L450.51,832.62 L451.74,833.92 L452.9,835.22 L454,836.52 L455.05,837.84 L456.06,839.18 L457.04,840.57 L458,842 L458.85,843.35 L459.66,844.72 L460.44,846.13 L461.19,847.56 L461.91,849.01 L462.6,850.48 L463.26,851.97 L463.89,853.48 L464.5,855 L465.1,856.57 L465.67,858.13 L466.21,859.69 L466.73,861.27 L467.21,862.88 L467.65,864.55 L468.07,866.28 L468.45,868.09 L468.8,870 L469.04,871.57 L469.25,873.28 L469.43,875.08 L469.59,876.98 L469.73,878.94 L469.85,880.94 L469.94,882.97 L470.03,885.01 L470.1,887.02 L470.16,889.01 L470.21,890.93 L470.25,892.78 L470.29,894.53 L470.33,896.17 L470.36,897.66 L470.4,899 L470.44,900.63 L470.46,902.06 L470.47,903.34 L470.46,904.56 L470.46,905.77 L470.47,907.06 L470.48,908.4 L470.49,909.74 L470.5,911.09 L470.51,912.43 L470.52,913.77 L470.53,915.12 L470.54,916.46 L470.56,917.8 L470.57,919.15 L470.58,920.49 L470.59,921.83 L470.6,923.17 L470.61,924.52 L470.62,925.86 L470.63,927.2 L470.64,928.55 L470.66,929.89 L470.67,931.23 L470.68,932.58 L470.69,933.92 L470.7,935.26 L470.71,936.61 L470.72,937.95 L470.73,939.29 L470.74,940.63 L470.76,941.98 L470.77,943.32 L470.78,944.66 L470.79,946.01 L470.8,947.35 L470.81,948.69 L470.82,950.04 L470.83,951.38 L470.84,952.72 L470.86,954.07 L470.87,955.41 L470.88,956.75 L470.89,958.09 L470.9,959.44 L470.91,960.78 L470.92,962.12 L470.93,963.47 L470.94,964.81 L470.96,966.15 L470.97,967.5 L470.98,968.84 L470.99,970.18 L471,971.53 L471.01,972.87 L471.02,974.21 L471.03,975.55 L471.04,976.9 L471.06,978.24 L471.07,979.58 L471.08,980.93 L471.09,982.27 L471.1,983.61 L471.11,984.96 L471.12,986.3 L471.13,987.64 L471.14,988.88 L471.15,989.99 L471.15,991.1 L471.16,992.34 L471.17,993.83 L471.2,995.7 L471.22,996.91 L471.24,998.25 L471.27,999.73 L471.3,1001.34 L471.34,1003.08 L471.38,1004.93 L471.42,1006.9 L471.47,1008.97 L471.52,1011.15 L471.57,1013.42 L471.63,1015.78 L471.68,1018.24 L471.74,1020.77 L471.8,1023.37 L471.87,1026.05 L471.93,1028.79 L472,1031.6 L472.07,1034.45 L472.14,1037.35 L472.21,1040.3 L472.28,1043.29 L472.36,1046.3 L472.43,1049.35 L472.5,1052.41 L472.58,1055.49 L472.65,1058.59 L472.73,1061.68 L472.8,1064.78 L472.87,1067.88 L472.95,1070.96 L473.02,1074.02 L473.09,1077.07 L473.16,1080.08 L473.23,1083.07 L473.29,1086.02 L473.36,1088.92 L473.42,1091.78 L473.48,1094.58 L473.54,1097.32 L473.6,1100 L473.65,1102.76 L473.7,1105.58 L473.74,1108.47 L473.77,1111.41 L473.8,1114.41 L473.82,1117.46 L473.84,1120.54 L473.86,1123.67 L473.87,1126.82 L473.88,1130 L473.88,1133.2 L473.89,1136.41 L473.89,1139.64 L473.89,1142.86 L473.9,1146.09 L473.9,1149.31 L473.91,1152.51 L473.91,1155.7 L473.92,1158.86 L473.94,1162 L473.95,1165.1 L473.97,1168.16 L474,1171.18 L474.03,1174.15 L474.07,1177.06 L474.11,1179.9 L474.16,1182.69 L474.22,1185.4 L474.28,1188.03 L474.36,1190.58 L474.44,1193.04 L474.53,1195.4 L474.64,1197.67 L474.75,1199.83 L474.88,1201.88 L475.01,1203.82 L475.17,1205.64 L475.33,1207.32 L475.51,1208.88 L475.7,1210.3 L476.02,1212.37 L476.34,1214.15 L476.66,1215.7 L477.01,1217.07 L477.4,1218.33 L477.85,1219.53 L478.38,1220.73 L479,1222 L479.82,1223.46 L480.75,1224.88 L481.76,1226.24 L482.85,1227.57 L483.98,1228.85 L485.14,1230.09 L486.3,1231.3 L487.44,1232.44 L488.61,1233.53 L489.8,1234.58 L491.03,1235.6 L492.3,1236.59 L493.63,1237.55 L495,1238.5 L496.35,1239.4 L497.68,1240.27 L499.03,1241.12 L500.44,1241.94 L501.94,1242.74 L503.56,1243.51 L505.33,1244.27 L507.3,1245 L508.62,1245.43 L510.04,1245.85 L511.54,1246.25 L513.12,1246.64 L514.78,1247.01 L516.5,1247.36 L518.29,1247.71 L520.13,1248.05 L522.01,1248.38 L523.94,1248.7 L525.91,1249.02 L527.9,1249.33 L529.92,1249.65 L531.96,1249.96 L534.01,1250.27 L536.06,1250.59 L538.1,1250.91 L540.14,1251.23 L542.17,1251.57 L544.17,1251.91 L546.15,1252.26 L548.1,1252.62 L550,1253 L551.78,1253.37 L553.55,1253.74 L555.31,1254.12 L557.06,1254.5 L558.81,1254.89 L560.55,1255.29 L562.28,1255.68 L564.02,1256.08 L565.75,1256.48 L567.49,1256.89 L569.24,1257.3 L570.99,1257.71 L572.75,1258.12 L574.52,1258.53 L576.31,1258.94 L578.12,1259.35 L579.94,1259.76 L581.78,1260.18 L583.64,1260.59 L585.53,1260.99 L587.44,1261.4 L589.38,1261.8 L591.36,1262.21 L593.36,1262.6 L595.4,1263 L597.08,1263.32 L598.81,1263.65 L600.58,1263.98 L602.39,1264.32 L604.24,1264.66 L606.13,1265.01 L608.04,1265.35 L609.99,1265.71 L611.96,1266.06 L613.96,1266.42 L615.97,1266.78 L618.01,1267.14 L620.06,1267.5 L622.13,1267.86 L624.21,1268.22 L626.29,1268.57 L628.38,1268.93 L630.48,1269.28 L632.57,1269.63 L634.66,1269.98 L636.75,1270.33 L638.82,1270.67 L640.89,1271 L642.94,1271.33 L644.98,1271.65 L647,1271.97 L649,1272.28 L650.97,1272.58 L652.92,1272.87 L654.84,1273.15 L656.72,1273.43 L658.57,1273.69 L660.38,1273.95 L662.16,1274.19 L663.89,1274.43 L665.57,1274.65 L667.21,1274.85 L668.79,1275.05 L670.32,1275.23 L671.8,1275.4 L673.96,1275.63 L676.08,1275.84 L678.16,1276.02 L680.18,1276.18 L682.15,1276.33 L684.08,1276.45 L685.94,1276.56 L687.75,1276.66 L689.51,1276.74 L691.2,1276.81 L692.83,1276.87 L694.4,1276.93 L695.91,1276.98 L697.34,1277.02 L698.71,1277.06 L700,1277.1 L701.73,1277.14 L703.26,1277.16 L704.64,1277.15 L705.96,1277.14 L707.28,1277.12 L708.67,1277.12 L710.12,1277.12 L711.56,1277.13 L713,1277.13 L714.45,1277.13 L715.89,1277.14 L717.34,1277.14 L718.78,1277.14 L720.23,1277.15 L721.67,1277.15 L723.12,1277.15 L724.57,1277.16 L726.01,1277.16 L727.46,1277.16 L728.9,1277.17 L730.35,1277.17 L731.79,1277.17 L733.23,1277.18 L734.68,1277.18 L736.12,1277.18 L737.57,1277.19 L739.02,1277.19 L740.46,1277.19 L741.9,1277.2 L743.35,1277.2 L744.8,1277.2 L746.24,1277.21 L747.68,1277.21 L749.13,1277.21 L750.57,1277.22 L752.02,1277.22 L753.46,1277.22 L754.91,1277.23 L756.36,1277.23 L757.8,1277.23 L759.24,1277.24 L760.69,1277.24 L762.13,1277.24 L763.58,1277.25 L765.03,1277.25 L766.47,1277.25 L767.92,1277.26 L769.36,1277.26 L770.81,1277.26 L772.25,1277.27 L773.7,1277.27 L775.14,1277.27 L776.58,1277.28 L778.03,1277.28 L779.48,1277.28 L780.92,1277.29 L782.37,1277.29 L783.81,1277.29 L785.26,1277.3 L786.7,1277.3" fill="none" stroke="#005a3c" stroke-width="6.8" stroke-linejoin="round" stroke-linecap="butt"/>
</g>
<line x1="147.5" y1="1310.5" x2="147.5" y2="1321.5" stroke="#000" stroke-width="4" stroke-linecap="butt"/>
<line x1="147.5" y1="754.8" x2="147.5" y2="765.8" stroke="#000" stroke-width="4" stroke-linecap="butt"/>
<line x1="238.9" y1="1310.5" x2="238.9" y2="1321.5" stroke="#000" stroke-width="4" stroke-linecap="butt"/>
<line x1="238.9" y1="754.8" x2="238.9" y2="765.8" stroke="#000" stroke-width="4" stroke-linecap="butt"/>
<line x1="330.3" y1="1310.5" x2="330.3" y2="1321.5" stroke="#000" stroke-width="4" stroke-linecap="butt"/>
<line x1="330.3" y1="754.8" x2="330.3" y2="765.8" stroke="#000" stroke-width="4" stroke-linecap="butt"/>
<line x1="421.7" y1="1310.5" x2="421.7" y2="1321.5" stroke="#000" stroke-width="4" stroke-linecap="butt"/>
<line x1="421.7" y1="754.8" x2="421.7" y2="765.8" stroke="#000" stroke-width="4" stroke-linecap="butt"/>
<line x1="513.1" y1="1310.5" x2="513.1" y2="1321.5" stroke="#000" stroke-width="4" stroke-linecap="butt"/>
<line x1="513.1" y1="754.8" x2="513.1" y2="765.8" stroke="#000" stroke-width="4" stroke-linecap="butt"/>
<line x1="604.5" y1="1310.5" x2="604.5" y2="1321.5" stroke="#000" stroke-width="4" stroke-linecap="butt"/>
<line x1="604.5" y1="754.8" x2="604.5" y2="765.8" stroke="#000" stroke-width="4" stroke-linecap="butt"/>
<line x1="695.9" y1="1310.5" x2="695.9" y2="1321.5" stroke="#000" stroke-width="4" stroke-linecap="butt"/>
<line x1="695.9" y1="754.8" x2="695.9" y2="765.8" stroke="#000" stroke-width="4" stroke-linecap="butt"/>
<line x1="787.3" y1="1310.5" x2="787.3" y2="1321.5" stroke="#000" stroke-width="4" stroke-linecap="butt"/>
<line x1="787.3" y1="754.8" x2="787.3" y2="765.8" stroke="#000" stroke-width="4" stroke-linecap="butt"/>
<line x1="193.2" y1="1310.5" x2="193.2" y2="1315.9" stroke="#000" stroke-width="4" stroke-linecap="butt"/>
<line x1="193.2" y1="754.8" x2="193.2" y2="760.2" stroke="#000" stroke-width="4" stroke-linecap="butt"/>
<line x1="284.6" y1="1310.5" x2="284.6" y2="1315.9" stroke="#000" stroke-width="4" stroke-linecap="butt"/>
<line x1="284.6" y1="754.8" x2="284.6" y2="760.2" stroke="#000" stroke-width="4" stroke-linecap="butt"/>
<line x1="376" y1="1310.5" x2="376" y2="1315.9" stroke="#000" stroke-width="4" stroke-linecap="butt"/>
<line x1="376" y1="754.8" x2="376" y2="760.2" stroke="#000" stroke-width="4" stroke-linecap="butt"/>
<line x1="467.4" y1="1310.5" x2="467.4" y2="1315.9" stroke="#000" stroke-width="4" stroke-linecap="butt"/>
<line x1="467.4" y1="754.8" x2="467.4" y2="760.2" stroke="#000" stroke-width="4" stroke-linecap="butt"/>
<line x1="558.8" y1="1310.5" x2="558.8" y2="1315.9" stroke="#000" stroke-width="4" stroke-linecap="butt"/>
<line x1="558.8" y1="754.8" x2="558.8" y2="760.2" stroke="#000" stroke-width="4" stroke-linecap="butt"/>
<line x1="650.2" y1="1310.5" x2="650.2" y2="1315.9" stroke="#000" stroke-width="4" stroke-linecap="butt"/>
<line x1="650.2" y1="754.8" x2="650.2" y2="760.2" stroke="#000" stroke-width="4" stroke-linecap="butt"/>
<line x1="741.6" y1="1310.5" x2="741.6" y2="1315.9" stroke="#000" stroke-width="4" stroke-linecap="butt"/>
<line x1="741.6" y1="754.8" x2="741.6" y2="760.2" stroke="#000" stroke-width="4" stroke-linecap="butt"/>
<line x1="833" y1="1310.5" x2="833" y2="1315.9" stroke="#000" stroke-width="4" stroke-linecap="butt"/>
<line x1="833" y1="754.8" x2="833" y2="760.2" stroke="#000" stroke-width="4" stroke-linecap="butt"/>
<line x1="134" y1="1307.6" x2="145" y2="1307.6" stroke="#000" stroke-width="4" stroke-linecap="butt"/>
<line x1="822.6" y1="1307.6" x2="833.6" y2="1307.6" stroke="#000" stroke-width="4" stroke-linecap="butt"/>
<line x1="134" y1="1234" x2="145" y2="1234" stroke="#000" stroke-width="4" stroke-linecap="butt"/>
<line x1="822.6" y1="1234" x2="833.6" y2="1234" stroke="#000" stroke-width="4" stroke-linecap="butt"/>
<line x1="134" y1="1160.4" x2="145" y2="1160.4" stroke="#000" stroke-width="4" stroke-linecap="butt"/>
<line x1="822.6" y1="1160.4" x2="833.6" y2="1160.4" stroke="#000" stroke-width="4" stroke-linecap="butt"/>
<line x1="134" y1="1086.8" x2="145" y2="1086.8" stroke="#000" stroke-width="4" stroke-linecap="butt"/>
<line x1="822.6" y1="1086.8" x2="833.6" y2="1086.8" stroke="#000" stroke-width="4" stroke-linecap="butt"/>
<line x1="134" y1="1013.2" x2="145" y2="1013.2" stroke="#000" stroke-width="4" stroke-linecap="butt"/>
<line x1="822.6" y1="1013.2" x2="833.6" y2="1013.2" stroke="#000" stroke-width="4" stroke-linecap="butt"/>
<line x1="134" y1="939.6" x2="145" y2="939.6" stroke="#000" stroke-width="4" stroke-linecap="butt"/>
<line x1="822.6" y1="939.6" x2="833.6" y2="939.6" stroke="#000" stroke-width="4" stroke-linecap="butt"/>
<line x1="134" y1="866" x2="145" y2="866" stroke="#000" stroke-width="4" stroke-linecap="butt"/>
<line x1="822.6" y1="866" x2="833.6" y2="866" stroke="#000" stroke-width="4" stroke-linecap="butt"/>
<line x1="134" y1="792.4" x2="145" y2="792.4" stroke="#000" stroke-width="4" stroke-linecap="butt"/>
<line x1="822.6" y1="792.4" x2="833.6" y2="792.4" stroke="#000" stroke-width="4" stroke-linecap="butt"/>
<line x1="139.6" y1="1270.8" x2="145" y2="1270.8" stroke="#000" stroke-width="4" stroke-linecap="butt"/>
<line x1="828.2" y1="1270.8" x2="833.6" y2="1270.8" stroke="#000" stroke-width="4" stroke-linecap="butt"/>
<line x1="139.6" y1="1197.2" x2="145" y2="1197.2" stroke="#000" stroke-width="4" stroke-linecap="butt"/>
<line x1="828.2" y1="1197.2" x2="833.6" y2="1197.2" stroke="#000" stroke-width="4" stroke-linecap="butt"/>
<line x1="139.6" y1="1123.6" x2="145" y2="1123.6" stroke="#000" stroke-width="4" stroke-linecap="butt"/>
<line x1="828.2" y1="1123.6" x2="833.6" y2="1123.6" stroke="#000" stroke-width="4" stroke-linecap="butt"/>
<line x1="139.6" y1="1050" x2="145" y2="1050" stroke="#000" stroke-width="4" stroke-linecap="butt"/>
<line x1="828.2" y1="1050" x2="833.6" y2="1050" stroke="#000" stroke-width="4" stroke-linecap="butt"/>
<line x1="139.6" y1="976.4" x2="145" y2="976.4" stroke="#000" stroke-width="4" stroke-linecap="butt"/>
<line x1="828.2" y1="976.4" x2="833.6" y2="976.4" stroke="#000" stroke-width="4" stroke-linecap="butt"/>
<line x1="139.6" y1="902.8" x2="145" y2="902.8" stroke="#000" stroke-width="4" stroke-linecap="butt"/>
<line x1="828.2" y1="902.8" x2="833.6" y2="902.8" stroke="#000" stroke-width="4" stroke-linecap="butt"/>
<line x1="139.6" y1="829.2" x2="145" y2="829.2" stroke="#000" stroke-width="4" stroke-linecap="butt"/>
<line x1="828.2" y1="829.2" x2="833.6" y2="829.2" stroke="#000" stroke-width="4" stroke-linecap="butt"/>
<line x1="139.6" y1="755.6" x2="145" y2="755.6" stroke="#000" stroke-width="4" stroke-linecap="butt"/>
<line x1="828.2" y1="755.6" x2="833.6" y2="755.6" stroke="#000" stroke-width="4" stroke-linecap="butt"/>
<line x1="142.6" y1="754.8" x2="836" y2="754.8" stroke="#000" stroke-width="4.4" stroke-linecap="butt"/>
<line x1="142.6" y1="1310.5" x2="836" y2="1310.5" stroke="#000" stroke-width="4.4" stroke-linecap="butt"/>
<line x1="145" y1="752.6" x2="145" y2="1312.7" stroke="#000" stroke-width="4.8" stroke-linecap="butt"/>
<line x1="833.6" y1="752.6" x2="833.6" y2="1312.7" stroke="#000" stroke-width="4.8" stroke-linecap="butt"/>
<text transform="translate(147.5 1357.4)" font-size="35.5" text-anchor="middle" font-weight="bold" font-family="'Liberation Sans', Arial, sans-serif" letter-spacing="0.4">0.0</text>
<text transform="translate(126.1 1318.6)" font-size="35.5" text-anchor="end" font-weight="bold" font-family="'Liberation Sans', Arial, sans-serif" letter-spacing="0.4">0.0</text>
<text transform="translate(238.9 1357.4)" font-size="35.5" text-anchor="middle" font-weight="bold" font-family="'Liberation Sans', Arial, sans-serif" letter-spacing="0.4">0.1</text>
<text transform="translate(126.1 1245)" font-size="35.5" text-anchor="end" font-weight="bold" font-family="'Liberation Sans', Arial, sans-serif" letter-spacing="0.4">0.1</text>
<text transform="translate(330.3 1357.4)" font-size="35.5" text-anchor="middle" font-weight="bold" font-family="'Liberation Sans', Arial, sans-serif" letter-spacing="0.4">0.2</text>
<text transform="translate(126.1 1171.4)" font-size="35.5" text-anchor="end" font-weight="bold" font-family="'Liberation Sans', Arial, sans-serif" letter-spacing="0.4">0.2</text>
<text transform="translate(421.7 1357.4)" font-size="35.5" text-anchor="middle" font-weight="bold" font-family="'Liberation Sans', Arial, sans-serif" letter-spacing="0.4">0.3</text>
<text transform="translate(126.1 1097.8)" font-size="35.5" text-anchor="end" font-weight="bold" font-family="'Liberation Sans', Arial, sans-serif" letter-spacing="0.4">0.3</text>
<text transform="translate(513.1 1357.4)" font-size="35.5" text-anchor="middle" font-weight="bold" font-family="'Liberation Sans', Arial, sans-serif" letter-spacing="0.4">0.4</text>
<text transform="translate(126.1 1024.2)" font-size="35.5" text-anchor="end" font-weight="bold" font-family="'Liberation Sans', Arial, sans-serif" letter-spacing="0.4">0.4</text>
<text transform="translate(604.5 1357.4)" font-size="35.5" text-anchor="middle" font-weight="bold" font-family="'Liberation Sans', Arial, sans-serif" letter-spacing="0.4">0.5</text>
<text transform="translate(126.1 950.6)" font-size="35.5" text-anchor="end" font-weight="bold" font-family="'Liberation Sans', Arial, sans-serif" letter-spacing="0.4">0.5</text>
<text transform="translate(695.9 1357.4)" font-size="35.5" text-anchor="middle" font-weight="bold" font-family="'Liberation Sans', Arial, sans-serif" letter-spacing="0.4">0.6</text>
<text transform="translate(126.1 877)" font-size="35.5" text-anchor="end" font-weight="bold" font-family="'Liberation Sans', Arial, sans-serif" letter-spacing="0.4">0.6</text>
<text transform="translate(787.3 1357.4)" font-size="35.5" text-anchor="middle" font-weight="bold" font-family="'Liberation Sans', Arial, sans-serif" letter-spacing="0.4">0.7</text>
<text transform="translate(126.1 803.4)" font-size="35.5" text-anchor="end" font-weight="bold" font-family="'Liberation Sans', Arial, sans-serif" letter-spacing="0.4">0.7</text>
<text transform="translate(488.5 1417.7)" font-size="36.3" text-anchor="middle" font-weight="bold" font-family="'Liberation Sans', Arial, sans-serif" letter-spacing="0.3">Voltage (V)</text>
<text transform="translate(45.5 1032.5) rotate(-90)" font-size="36.3" text-anchor="middle" font-weight="bold" font-family="'Liberation Sans', Arial, sans-serif" letter-spacing="0.3">Voltage (V)</text>
<line x1="180" y1="1080.2" x2="249.6" y2="1080.2" stroke="#000000" stroke-width="6.5" stroke-linecap="round"/>
<text transform="translate(259.7 1091.2)" font-size="31" text-anchor="start" font-weight="bold" font-family="'Liberation Sans', Arial, sans-serif" letter-spacing="0.4">T = 250K</text>
<line x1="180" y1="1119.2" x2="249.6" y2="1119.2" stroke="#00ff00" stroke-width="6.5" stroke-linecap="round"/>
<text transform="translate(259.7 1130.2)" font-size="31" text-anchor="start" font-weight="bold" font-family="'Liberation Sans', Arial, sans-serif" letter-spacing="0.4">T = 300K</text>
<line x1="180" y1="1158.9" x2="249.6" y2="1158.9" stroke="#0000ff" stroke-width="6.5" stroke-linecap="round"/>
<text transform="translate(259.7 1169.9)" font-size="31" text-anchor="start" font-weight="bold" font-family="'Liberation Sans', Arial, sans-serif" letter-spacing="0.4">T = 350k</text>
<line x1="180" y1="1197.9" x2="249.6" y2="1197.9" stroke="#ff00ff" stroke-width="6.5" stroke-linecap="round"/>
<text transform="translate(259.7 1208.9)" font-size="31" text-anchor="start" font-weight="bold" font-family="'Liberation Sans', Arial, sans-serif" letter-spacing="0.4">T = 400K</text>
<line x1="180" y1="1237.6" x2="249.6" y2="1237.6" stroke="#005a3c" stroke-width="6.5" stroke-linecap="round"/>
<text transform="translate(259.7 1248.6)" font-size="31" text-anchor="start" font-weight="bold" font-family="'Liberation Sans', Arial, sans-serif" letter-spacing="0.4">T = 450K</text>
<line x1="533.9" y1="796.6" x2="380.48" y2="874.73" stroke="#800000" stroke-width="3.3" stroke-linecap="butt"/>
<polygon points="361.1,884.6 383.95,865.56 384.36,872.76 389.94,877.32" fill="#800000"/>
<text transform="translate(541.5 807)" font-size="31" text-anchor="start" font-weight="bold" font-family="'Liberation Sans', Arial, sans-serif" letter-spacing="0.15">T = 250K to 450K</text>
<text transform="translate(0.2 760)" font-size="49" text-anchor="start" font-weight="bold" font-family="'Liberation Serif', 'Times New Roman', serif" letter-spacing="1">(c)</text>
<clipPath id="cd"><rect x="1112.9" y="754.6" width="691.4" height="557.9"/></clipPath>
<g clip-path="url(#cd)">
<path d="M1112.9,1257.2 L1147.47,1257.2 L1183.08,866.53 L1389.46,866.53 L1425.07,1257.2 L1631.45,1257.2 L1667.06,866.53 L1804.3,866.53" fill="none" stroke="#ff00ff" stroke-width="6.8" stroke-linejoin="round" stroke-linecap="butt"/>
<path d="M1112.9,866.53 L1148.3,866.53 L1148.3,866.53 L1148.59,865.22 L1148.86,863.87 L1149.18,862.6 L1149.6,861.5 L1150.13,860.59 L1150.75,859.83 L1151.5,859.2 L1152.56,858.71 L1153.79,858.38 L1155,858 L1156.22,857.53 L1157.42,857.01 L1158.5,856.3 L1159.24,855.53 L1159.89,854.63 L1160.47,853.62 L1161,852.5 L1161.47,851.2 L1161.85,849.75 L1162.18,848.21 L1162.48,846.61 L1162.8,845 L1163.09,843.45 L1163.37,841.82 L1163.63,840.15 L1163.89,838.51 L1164.18,836.94 L1164.5,835.5 L1164.89,833.92 L1165.3,832.4 L1165.76,831.06 L1166.3,830 L1166.84,829.31 L1167.43,828.78 L1168,828.6 L1168.57,828.89 L1169.13,829.56 L1169.6,830.5 L1169.89,831.52 L1170.11,832.85 L1170.26,834.43 L1170.37,836.18 L1170.43,838.04 L1170.48,839.92 L1170.51,841.75 L1170.55,843.47 L1170.6,845 L1170.67,846.58 L1170.71,848.08 L1170.74,849.51 L1170.77,850.91 L1170.79,852.32 L1170.82,853.75 L1170.86,855.21 L1170.9,856.67 L1170.94,858.12 L1170.97,859.58 L1171.01,861.04 L1171.05,862.5 L1171.09,863.96 L1171.12,865.42 L1171.16,866.88 L1171.2,868.33 L1171.24,869.79 L1171.28,871.25 L1171.31,872.71 L1171.35,874.17 L1171.39,875.64 L1171.43,877.1 L1171.47,878.55 L1171.5,880 L1171.53,881.4 L1171.56,882.79 L1171.59,884.18 L1171.61,885.56 L1171.64,886.95 L1171.67,888.33 L1171.69,889.72 L1171.72,891.11 L1171.75,892.5 L1171.78,893.89 L1171.81,895.28 L1171.83,896.67 L1171.86,898.06 L1171.89,899.44 L1171.92,900.83 L1171.94,902.22 L1171.97,903.61 L1172,905 L1172.03,906.39 L1172.06,907.78 L1172.08,909.17 L1172.11,910.56 L1172.14,911.94 L1172.17,913.33 L1172.19,914.72 L1172.22,916.11 L1172.25,917.5 L1172.28,918.89 L1172.31,920.28 L1172.33,921.67 L1172.36,922.96 L1172.38,924.13 L1172.41,925.31 L1172.43,926.6 L1172.46,928.12 L1172.5,930 L1172.52,931 L1172.54,932.08 L1172.57,933.24 L1172.59,934.48 L1172.62,935.79 L1172.64,937.17 L1172.67,938.62 L1172.7,940.14 L1172.73,941.72 L1172.77,943.37 L1172.8,945.07 L1172.83,946.82 L1172.87,948.63 L1172.91,950.49 L1172.94,952.39 L1172.98,954.34 L1173.02,956.33 L1173.06,958.36 L1173.1,960.43 L1173.15,962.53 L1173.19,964.66 L1173.23,966.82 L1173.28,969 L1173.32,971.21 L1173.37,973.44 L1173.41,975.68 L1173.46,977.94 L1173.51,980.21 L1173.56,982.49 L1173.6,984.78 L1173.65,987.07 L1173.7,989.36 L1173.75,991.65 L1173.8,993.93 L1173.85,996.21 L1173.9,998.48 L1173.95,1000.74 L1174,1002.98 L1174.05,1005.2 L1174.1,1007.4 L1174.17,1010.33 L1174.24,1013.38 L1174.32,1016.57 L1174.4,1019.86 L1174.48,1023.27 L1174.57,1026.77 L1174.66,1030.36 L1174.75,1034.03 L1174.85,1037.76 L1174.94,1041.56 L1175.04,1045.41 L1175.14,1049.3 L1175.25,1053.23 L1175.35,1057.18 L1175.45,1061.15 L1175.56,1065.12 L1175.66,1069.09 L1175.76,1073.05 L1175.87,1076.99 L1175.97,1080.9 L1176.07,1084.77 L1176.17,1088.6 L1176.27,1092.37 L1176.37,1096.07 L1176.46,1099.69 L1176.55,1103.24 L1176.64,1106.69 L1176.73,1110.04 L1176.81,1113.27 L1176.89,1116.39 L1176.96,1119.38 L1177.03,1122.23 L1177.1,1124.94 L1177.16,1127.49 L1177.21,1129.87 L1177.26,1132.08 L1177.31,1134.11 L1177.34,1135.94 L1177.38,1137.58 L1177.4,1139 L1177.43,1140.94 L1177.44,1142.47 L1177.45,1143.72 L1177.45,1144.84 L1177.45,1145.96 L1177.46,1147.22 L1177.47,1148.59 L1177.48,1149.96 L1177.49,1151.33 L1177.5,1152.69 L1177.51,1154.06 L1177.52,1155.43 L1177.53,1156.8 L1177.54,1158.17 L1177.55,1159.54 L1177.56,1160.91 L1177.57,1162.28 L1177.58,1163.65 L1177.58,1165.02 L1177.59,1166.39 L1177.6,1167.76 L1177.61,1169.13 L1177.62,1170.5 L1177.63,1171.87 L1177.64,1173.24 L1177.65,1174.61 L1177.66,1175.97 L1177.67,1177.34 L1177.68,1178.71 L1177.69,1180.08 L1177.7,1181.45 L1177.71,1182.82 L1177.72,1184.19 L1177.73,1185.56 L1177.74,1186.93 L1177.75,1188.3 L1177.76,1189.67 L1177.77,1191.04 L1177.78,1192.41 L1177.79,1193.78 L1177.8,1195.15 L1177.81,1196.52 L1177.82,1197.89 L1177.83,1199.26 L1177.84,1200.62 L1177.85,1201.99 L1177.86,1203.36 L1177.87,1204.73 L1177.88,1206.1 L1177.89,1207.47 L1177.9,1208.84 L1177.91,1210.21 L1177.92,1211.58 L1177.92,1212.95 L1177.93,1214.32 L1177.94,1215.69 L1177.95,1217.06 L1177.96,1218.43 L1177.97,1219.8 L1177.98,1221.17 L1177.99,1222.54 L1178,1223.91 L1178.01,1225.27 L1178.02,1226.64 L1178.03,1228.01 L1178.04,1229.38 L1178.04,1230.75 L1178.02,1232.1 L1178,1233.46 L1177.99,1234.82 L1178.02,1236.2 L1178.1,1237.6 L1178.23,1239.18 L1178.4,1240.83 L1178.61,1242.49 L1178.86,1244.12 L1179.16,1245.64 L1179.5,1247 L1179.93,1248.28 L1180.43,1249.44 L1180.95,1250.49 L1181.5,1251.5 L1182.13,1252.57 L1182.79,1253.55 L1183.5,1254.5 L1184.3,1255.42 L1185.15,1256.31 L1186,1257.2 L1186,1257.2 L1200,1257.2" fill="none" stroke="#0000ff" stroke-width="6.8" stroke-linejoin="round" stroke-linecap="butt"/>
<path d="M1200,1257.2 L1390.5,1257.2 L1390.5,1257.2 L1391.24,1258.06 L1391.97,1258.96 L1392.72,1259.79 L1393.5,1260.5 L1394.48,1261.09 L1395.51,1261.54 L1396.5,1262 L1397.37,1262.45 L1398.21,1262.9 L1399,1263.5 L1399.69,1264.2 L1400.34,1265.02 L1400.95,1265.95 L1401.5,1267 L1402.02,1268.32 L1402.47,1269.83 L1402.87,1271.45 L1403.24,1273.1 L1403.6,1274.7 L1403.94,1276.25 L1404.25,1277.8 L1404.54,1279.35 L1404.85,1280.92 L1405.2,1282.5 L1405.53,1283.96 L1405.88,1285.49 L1406.24,1287.04 L1406.63,1288.52 L1407.05,1289.87 L1407.5,1291 L1408.13,1292.28 L1408.82,1293.35 L1409.5,1293.8 L1410.2,1293.37 L1410.9,1292.32 L1411.5,1291 L1411.87,1289.83 L1412.16,1288.4 L1412.4,1286.8 L1412.59,1285.08 L1412.75,1283.33 L1412.88,1281.61 L1413,1280 L1413.09,1278.55 L1413.14,1277.11 L1413.17,1275.68 L1413.18,1274.26 L1413.18,1272.84 L1413.18,1271.42 L1413.2,1270 L1413.23,1268.57 L1413.26,1267.14 L1413.29,1265.71 L1413.31,1264.29 L1413.34,1262.86 L1413.37,1261.43 L1413.4,1260 L1413.43,1258.56 L1413.46,1257.12 L1413.49,1255.67 L1413.52,1254.22 L1413.55,1252.79 L1413.58,1251.38 L1413.6,1250 L1413.62,1248.57 L1413.63,1247.17 L1413.64,1245.79 L1413.65,1244.42 L1413.66,1243.05 L1413.67,1241.67 L1413.68,1240.28 L1413.69,1238.89 L1413.7,1237.5 L1413.71,1236.11 L1413.72,1234.72 L1413.73,1233.33 L1413.74,1231.94 L1413.76,1230.56 L1413.77,1229.17 L1413.78,1227.78 L1413.79,1226.39 L1413.8,1225 L1413.81,1223.61 L1413.82,1222.22 L1413.83,1220.83 L1413.84,1219.44 L1413.86,1218.06 L1413.87,1216.67 L1413.88,1215.28 L1413.89,1213.89 L1413.9,1212.5 L1413.91,1211.11 L1413.92,1209.72 L1413.93,1208.33 L1413.94,1206.94 L1413.95,1205.56 L1413.97,1204.17 L1413.98,1202.78 L1413.99,1201.39 L1414,1200 L1414.01,1198.61 L1414.03,1197.22 L1414.04,1195.83 L1414.05,1194.44 L1414.07,1193.06 L1414.08,1191.67 L1414.1,1190.28 L1414.11,1188.89 L1414.12,1187.5 L1414.14,1186.11 L1414.15,1184.72 L1414.17,1183.33 L1414.18,1181.94 L1414.19,1180.56 L1414.21,1179.17 L1414.22,1177.78 L1414.24,1176.39 L1414.25,1175 L1414.26,1173.61 L1414.28,1172.22 L1414.29,1170.83 L1414.31,1169.44 L1414.32,1168.06 L1414.33,1166.67 L1414.35,1165.28 L1414.36,1163.89 L1414.38,1162.5 L1414.39,1161.11 L1414.4,1159.72 L1414.42,1158.33 L1414.43,1156.94 L1414.44,1155.56 L1414.46,1154.17 L1414.47,1152.78 L1414.49,1151.39 L1414.5,1150 L1414.51,1148.61 L1414.53,1147.22 L1414.54,1145.83 L1414.56,1144.44 L1414.57,1143.06 L1414.58,1141.67 L1414.6,1140.28 L1414.61,1138.89 L1414.62,1137.5 L1414.64,1136.11 L1414.65,1134.72 L1414.67,1133.33 L1414.68,1131.94 L1414.69,1130.56 L1414.71,1129.17 L1414.72,1127.78 L1414.74,1126.39 L1414.75,1125 L1414.76,1123.61 L1414.78,1122.22 L1414.79,1120.83 L1414.81,1119.44 L1414.82,1118.06 L1414.83,1116.67 L1414.85,1115.28 L1414.86,1113.89 L1414.88,1112.5 L1414.89,1111.11 L1414.9,1109.72 L1414.92,1108.33 L1414.93,1107.05 L1414.93,1105.9 L1414.94,1104.74 L1414.95,1103.46 L1414.97,1101.92 L1415,1100 L1415.02,1098.8 L1415.05,1097.46 L1415.08,1095.98 L1415.12,1094.36 L1415.16,1092.62 L1415.2,1090.75 L1415.25,1088.77 L1415.3,1086.68 L1415.35,1084.48 L1415.41,1082.19 L1415.47,1079.81 L1415.54,1077.35 L1415.6,1074.81 L1415.67,1072.19 L1415.74,1069.52 L1415.81,1066.78 L1415.89,1063.99 L1415.96,1061.16 L1416.04,1058.28 L1416.11,1055.38 L1416.19,1052.44 L1416.27,1049.49 L1416.35,1046.52 L1416.43,1043.55 L1416.51,1040.57 L1416.59,1037.59 L1416.67,1034.63 L1416.75,1031.69 L1416.83,1028.77 L1416.91,1025.88 L1416.99,1023.02 L1417.06,1020.21 L1417.14,1017.44 L1417.21,1014.74 L1417.28,1012.09 L1417.35,1009.51 L1417.42,1007.01 L1417.48,1004.58 L1417.54,1002.24 L1417.6,1000 L1417.66,997.84 L1417.71,995.65 L1417.77,993.45 L1417.83,991.23 L1417.89,989 L1417.94,986.77 L1418,984.53 L1418.06,982.29 L1418.12,980.05 L1418.18,977.82 L1418.24,975.61 L1418.29,973.41 L1418.35,971.23 L1418.41,969.07 L1418.46,966.94 L1418.52,964.84 L1418.57,962.78 L1418.62,960.76 L1418.67,958.78 L1418.72,956.84 L1418.77,954.96 L1418.82,953.13 L1418.87,951.36 L1418.91,949.65 L1418.96,948.01 L1419,946.44 L1419.04,944.94 L1419.07,943.52 L1419.11,942.19 L1419.14,940.93 L1419.17,939.77 L1419.2,938.7 L1419.25,936.91 L1419.29,935.43 L1419.32,934.17 L1419.35,933.01 L1419.38,931.85 L1419.42,930.58 L1419.45,929.23 L1419.49,927.88 L1419.53,926.53 L1419.56,925.17 L1419.6,923.82 L1419.63,922.47 L1419.67,921.11 L1419.71,919.76 L1419.74,918.41 L1419.78,917.06 L1419.81,915.7 L1419.85,914.35 L1419.89,913 L1419.92,911.64 L1419.96,910.29 L1419.99,908.94 L1420.03,907.59 L1420.07,906.23 L1420.1,904.88 L1420.14,903.53 L1420.17,902.17 L1420.21,900.82 L1420.25,899.47 L1420.28,898.12 L1420.31,896.8 L1420.33,895.51 L1420.35,894.23 L1420.38,892.91 L1420.42,891.51 L1420.5,890 L1420.58,888.58 L1420.67,887.01 L1420.78,885.32 L1420.89,883.57 L1421.02,881.8 L1421.17,880.04 L1421.34,878.34 L1421.53,876.74 L1421.75,875.28 L1422,874 L1422.39,872.33 L1422.82,870.85 L1423.34,869.57 L1424,868.5 L1424.91,867.69 L1425.95,867.11 L1427,866.53 L1427,866.53 L1440,866.53" fill="none" stroke="#0000ff" stroke-width="6.8" stroke-linejoin="round" stroke-linecap="butt"/>
<path d="M1440,866.53 L1632.2,866.53 L1632.2,866.53 L1632.57,865.22 L1632.92,863.88 L1633.31,862.61 L1633.8,861.5 L1634.43,860.53 L1635.14,859.7 L1636,859 L1636.9,858.54 L1637.93,858.2 L1638.99,857.88 L1640,857.5 L1640.93,857.08 L1641.85,856.65 L1642.72,856.14 L1643.5,855.5 L1644.25,854.58 L1644.9,853.5 L1645.47,852.29 L1646,851 L1646.41,849.82 L1646.77,848.54 L1647.1,847.19 L1647.4,845.8 L1647.7,844.39 L1648,843 L1648.31,841.5 L1648.6,839.92 L1648.88,838.33 L1649.16,836.78 L1649.47,835.32 L1649.8,834 L1650.2,832.55 L1650.61,831.1 L1651.05,829.98 L1651.5,829.5 L1652.02,829.86 L1652.55,830.8 L1653,832 L1653.26,833.15 L1653.44,834.59 L1653.56,836.25 L1653.63,838.04 L1653.68,839.89 L1653.71,841.72 L1653.75,843.45 L1653.8,845 L1653.86,846.44 L1653.92,847.81 L1653.96,849.12 L1654,850.4 L1654.04,851.69 L1654.08,853 L1654.13,854.33 L1654.17,855.67 L1654.22,857 L1654.27,858.33 L1654.31,859.67 L1654.36,861 L1654.41,862.33 L1654.45,863.67 L1654.5,865 L1654.55,866.33 L1654.59,867.67 L1654.64,869 L1654.69,870.33 L1654.73,871.67 L1654.78,873 L1654.83,874.33 L1654.87,875.67 L1654.92,877 L1654.97,878.33 L1655.02,879.65 L1655.06,880.97 L1655.11,882.29 L1655.16,883.64 L1655.2,885 L1655.24,886.49 L1655.28,888.01 L1655.31,889.54 L1655.35,891.09 L1655.38,892.63 L1655.42,894.17 L1655.45,895.69 L1655.49,897.22 L1655.53,898.75 L1655.56,900.28 L1655.6,901.81 L1655.63,903.33 L1655.67,904.86 L1655.71,906.39 L1655.74,907.92 L1655.78,909.44 L1655.81,910.97 L1655.85,912.5 L1655.89,914.03 L1655.92,915.56 L1655.96,917.08 L1655.99,918.61 L1656.03,920.14 L1656.07,921.67 L1656.1,923.19 L1656.14,924.72 L1656.17,926.25 L1656.21,927.78 L1656.25,929.31 L1656.28,930.83 L1656.32,932.27 L1656.34,933.59 L1656.37,934.92 L1656.4,936.35 L1656.45,938.01 L1656.5,940 L1656.53,941.09 L1656.57,942.26 L1656.61,943.49 L1656.66,944.8 L1656.7,946.17 L1656.76,947.61 L1656.81,949.11 L1656.87,950.67 L1656.93,952.29 L1656.99,953.96 L1657.06,955.69 L1657.13,957.46 L1657.2,959.29 L1657.27,961.16 L1657.34,963.07 L1657.41,965.03 L1657.49,967.02 L1657.56,969.05 L1657.63,971.11 L1657.71,973.21 L1657.78,975.34 L1657.85,977.49 L1657.93,979.67 L1658,981.87 L1658.07,984.09 L1658.14,986.33 L1658.2,988.58 L1658.27,990.85 L1658.33,993.12 L1658.39,995.41 L1658.45,997.7 L1658.5,1000 L1658.57,1003 L1658.63,1006.2 L1658.69,1009.57 L1658.76,1013.1 L1658.82,1016.79 L1658.88,1020.61 L1658.95,1024.57 L1659.01,1028.65 L1659.07,1032.83 L1659.12,1037.1 L1659.18,1041.46 L1659.24,1045.88 L1659.3,1050.37 L1659.35,1054.9 L1659.4,1059.46 L1659.46,1064.05 L1659.51,1068.65 L1659.56,1073.24 L1659.61,1077.82 L1659.66,1082.38 L1659.7,1086.9 L1659.75,1091.38 L1659.79,1095.79 L1659.84,1100.13 L1659.88,1104.38 L1659.92,1108.54 L1659.95,1112.59 L1659.99,1116.52 L1660.03,1120.32 L1660.06,1123.97 L1660.09,1127.47 L1660.12,1130.8 L1660.15,1133.95 L1660.18,1136.92 L1660.2,1139.67 L1660.23,1142.22 L1660.25,1144.53 L1660.27,1146.61 L1660.28,1148.44 L1660.3,1150 L1660.32,1151.98 L1660.33,1153.53 L1660.34,1154.8 L1660.35,1155.92 L1660.36,1157.04 L1660.37,1158.31 L1660.38,1159.69 L1660.39,1161.08 L1660.41,1162.46 L1660.42,1163.85 L1660.43,1165.23 L1660.44,1166.62 L1660.45,1168 L1660.46,1169.39 L1660.47,1170.77 L1660.49,1172.16 L1660.5,1173.55 L1660.51,1174.93 L1660.52,1176.32 L1660.53,1177.7 L1660.55,1179.09 L1660.56,1180.47 L1660.57,1181.86 L1660.58,1183.24 L1660.59,1184.62 L1660.6,1186.01 L1660.62,1187.39 L1660.63,1188.78 L1660.64,1190.16 L1660.65,1191.55 L1660.66,1192.93 L1660.67,1194.32 L1660.68,1195.7 L1660.7,1197.09 L1660.71,1198.47 L1660.72,1199.86 L1660.73,1201.24 L1660.74,1202.63 L1660.76,1204.01 L1660.77,1205.4 L1660.78,1206.78 L1660.79,1208.17 L1660.8,1209.55 L1660.81,1210.94 L1660.83,1212.32 L1660.84,1213.71 L1660.85,1215.09 L1660.86,1216.48 L1660.87,1217.87 L1660.88,1219.25 L1660.89,1220.63 L1660.91,1222.02 L1660.92,1223.41 L1660.93,1224.79 L1660.92,1226.16 L1660.9,1227.52 L1660.87,1228.88 L1660.86,1230.25 L1660.9,1231.65 L1661,1233.1 L1661.17,1234.61 L1661.38,1236.2 L1661.65,1237.83 L1661.94,1239.47 L1662.27,1241.06 L1662.63,1242.59 L1663,1244 L1663.46,1245.42 L1663.97,1246.73 L1664.5,1247.98 L1665.02,1249.22 L1665.5,1250.5 L1665.93,1251.83 L1666.34,1253.17 L1666.72,1254.51 L1667.11,1255.86 L1667.5,1257.2 L1667.5,1257.2 L1805,1257.2" fill="none" stroke="#0000ff" stroke-width="6.8" stroke-linejoin="round" stroke-linecap="butt"/>
</g>
<line x1="1112.9" y1="1312.5" x2="1112.9" y2="1323.5" stroke="#000" stroke-width="3.5" stroke-linecap="butt"/>
<line x1="1112.9" y1="754.6" x2="1112.9" y2="765.6" stroke="#000" stroke-width="3.5" stroke-linecap="butt"/>
<line x1="1285.75" y1="1312.5" x2="1285.75" y2="1323.5" stroke="#000" stroke-width="3.5" stroke-linecap="butt"/>
<line x1="1285.75" y1="754.6" x2="1285.75" y2="765.6" stroke="#000" stroke-width="3.5" stroke-linecap="butt"/>
<line x1="1458.6" y1="1312.5" x2="1458.6" y2="1323.5" stroke="#000" stroke-width="3.5" stroke-linecap="butt"/>
<line x1="1458.6" y1="754.6" x2="1458.6" y2="765.6" stroke="#000" stroke-width="3.5" stroke-linecap="butt"/>
<line x1="1631.45" y1="1312.5" x2="1631.45" y2="1323.5" stroke="#000" stroke-width="3.5" stroke-linecap="butt"/>
<line x1="1631.45" y1="754.6" x2="1631.45" y2="765.6" stroke="#000" stroke-width="3.5" stroke-linecap="butt"/>
<line x1="1804.3" y1="1312.5" x2="1804.3" y2="1323.5" stroke="#000" stroke-width="3.5" stroke-linecap="butt"/>
<line x1="1804.3" y1="754.6" x2="1804.3" y2="765.6" stroke="#000" stroke-width="3.5" stroke-linecap="butt"/>
<line x1="1199.33" y1="1312.5" x2="1199.33" y2="1317.9" stroke="#000" stroke-width="3.5" stroke-linecap="butt"/>
<line x1="1199.33" y1="754.6" x2="1199.33" y2="760" stroke="#000" stroke-width="3.5" stroke-linecap="butt"/>
<line x1="1372.18" y1="1312.5" x2="1372.18" y2="1317.9" stroke="#000" stroke-width="3.5" stroke-linecap="butt"/>
<line x1="1372.18" y1="754.6" x2="1372.18" y2="760" stroke="#000" stroke-width="3.5" stroke-linecap="butt"/>
<line x1="1545.03" y1="1312.5" x2="1545.03" y2="1317.9" stroke="#000" stroke-width="3.5" stroke-linecap="butt"/>
<line x1="1545.03" y1="754.6" x2="1545.03" y2="760" stroke="#000" stroke-width="3.5" stroke-linecap="butt"/>
<line x1="1717.88" y1="1312.5" x2="1717.88" y2="1317.9" stroke="#000" stroke-width="3.5" stroke-linecap="butt"/>
<line x1="1717.88" y1="754.6" x2="1717.88" y2="760" stroke="#000" stroke-width="3.5" stroke-linecap="butt"/>
<line x1="1101.9" y1="1257.2" x2="1112.9" y2="1257.2" stroke="#000" stroke-width="3.5" stroke-linecap="butt"/>
<line x1="1793.3" y1="1257.2" x2="1804.3" y2="1257.2" stroke="#000" stroke-width="3.5" stroke-linecap="butt"/>
<line x1="1101.9" y1="1145.58" x2="1112.9" y2="1145.58" stroke="#000" stroke-width="3.5" stroke-linecap="butt"/>
<line x1="1793.3" y1="1145.58" x2="1804.3" y2="1145.58" stroke="#000" stroke-width="3.5" stroke-linecap="butt"/>
<line x1="1101.9" y1="1033.96" x2="1112.9" y2="1033.96" stroke="#000" stroke-width="3.5" stroke-linecap="butt"/>
<line x1="1793.3" y1="1033.96" x2="1804.3" y2="1033.96" stroke="#000" stroke-width="3.5" stroke-linecap="butt"/>
<line x1="1101.9" y1="922.34" x2="1112.9" y2="922.34" stroke="#000" stroke-width="3.5" stroke-linecap="butt"/>
<line x1="1793.3" y1="922.34" x2="1804.3" y2="922.34" stroke="#000" stroke-width="3.5" stroke-linecap="butt"/>
<line x1="1101.9" y1="810.72" x2="1112.9" y2="810.72" stroke="#000" stroke-width="3.5" stroke-linecap="butt"/>
<line x1="1793.3" y1="810.72" x2="1804.3" y2="810.72" stroke="#000" stroke-width="3.5" stroke-linecap="butt"/>
<line x1="1107.5" y1="1313.01" x2="1112.9" y2="1313.01" stroke="#000" stroke-width="3.5" stroke-linecap="butt"/>
<line x1="1798.9" y1="1313.01" x2="1804.3" y2="1313.01" stroke="#000" stroke-width="3.5" stroke-linecap="butt"/>
<line x1="1107.5" y1="1201.39" x2="1112.9" y2="1201.39" stroke="#000" stroke-width="3.5" stroke-linecap="butt"/>
<line x1="1798.9" y1="1201.39" x2="1804.3" y2="1201.39" stroke="#000" stroke-width="3.5" stroke-linecap="butt"/>
<line x1="1107.5" y1="1089.77" x2="1112.9" y2="1089.77" stroke="#000" stroke-width="3.5" stroke-linecap="butt"/>
<line x1="1798.9" y1="1089.77" x2="1804.3" y2="1089.77" stroke="#000" stroke-width="3.5" stroke-linecap="butt"/>
<line x1="1107.5" y1="978.15" x2="1112.9" y2="978.15" stroke="#000" stroke-width="3.5" stroke-linecap="butt"/>
<line x1="1798.9" y1="978.15" x2="1804.3" y2="978.15" stroke="#000" stroke-width="3.5" stroke-linecap="butt"/>
<line x1="1107.5" y1="866.53" x2="1112.9" y2="866.53" stroke="#000" stroke-width="3.5" stroke-linecap="butt"/>
<line x1="1798.9" y1="866.53" x2="1804.3" y2="866.53" stroke="#000" stroke-width="3.5" stroke-linecap="butt"/>
<line x1="1107.5" y1="754.91" x2="1112.9" y2="754.91" stroke="#000" stroke-width="3.5" stroke-linecap="butt"/>
<line x1="1798.9" y1="754.91" x2="1804.3" y2="754.91" stroke="#000" stroke-width="3.5" stroke-linecap="butt"/>
<line x1="1111.25" y1="754.6" x2="1805.95" y2="754.6" stroke="#000" stroke-width="3.8" stroke-linecap="butt"/>
<line x1="1111.25" y1="1312.5" x2="1805.95" y2="1312.5" stroke="#000" stroke-width="3.8" stroke-linecap="butt"/>
<line x1="1112.9" y1="752.7" x2="1112.9" y2="1314.4" stroke="#000" stroke-width="3.3" stroke-linecap="butt"/>
<line x1="1804.3" y1="752.7" x2="1804.3" y2="1314.4" stroke="#000" stroke-width="3.3" stroke-linecap="butt"/>
<text transform="translate(1112.9 1359.2)" font-size="35.5" text-anchor="middle" font-weight="bold" font-family="'Liberation Sans', Arial, sans-serif" letter-spacing="0.4">0</text>
<text transform="translate(1094.8 1268.2)" font-size="35.5" text-anchor="end" font-weight="bold" font-family="'Liberation Sans', Arial, sans-serif" letter-spacing="0.4">0.0</text>
<text transform="translate(1285.75 1359.2)" font-size="35.5" text-anchor="middle" font-weight="bold" font-family="'Liberation Sans', Arial, sans-serif" letter-spacing="0.4">50</text>
<text transform="translate(1094.8 1156.58)" font-size="35.5" text-anchor="end" font-weight="bold" font-family="'Liberation Sans', Arial, sans-serif" letter-spacing="0.4">0.2</text>
<text transform="translate(1458.6 1359.2)" font-size="35.5" text-anchor="middle" font-weight="bold" font-family="'Liberation Sans', Arial, sans-serif" letter-spacing="0.4">100</text>
<text transform="translate(1094.8 1044.96)" font-size="35.5" text-anchor="end" font-weight="bold" font-family="'Liberation Sans', Arial, sans-serif" letter-spacing="0.4">0.4</text>
<text transform="translate(1631.45 1359.2)" font-size="35.5" text-anchor="middle" font-weight="bold" font-family="'Liberation Sans', Arial, sans-serif" letter-spacing="0.4">150</text>
<text transform="translate(1094.8 933.34)" font-size="35.5" text-anchor="end" font-weight="bold" font-family="'Liberation Sans', Arial, sans-serif" letter-spacing="0.4">0.6</text>
<text transform="translate(1804.3 1359.2)" font-size="35.5" text-anchor="middle" font-weight="bold" font-family="'Liberation Sans', Arial, sans-serif" letter-spacing="0.4">200</text>
<text transform="translate(1094.8 821.72)" font-size="35.5" text-anchor="end" font-weight="bold" font-family="'Liberation Sans', Arial, sans-serif" letter-spacing="0.4">0.8</text>
<text transform="translate(1458.2 1411.8)" font-size="36.3" text-anchor="middle" font-weight="bold" font-family="'Liberation Sans', Arial, sans-serif" letter-spacing="0.3">Time (ps)</text>
<text transform="translate(1014.7 1034.5) rotate(-90)" font-size="36.3" text-anchor="middle" font-weight="bold" font-family="'Liberation Sans', Arial, sans-serif" letter-spacing="0.3">Voltage (V)</text>
<line x1="1281.2" y1="791.2" x2="1362.4" y2="791.2" stroke="#ff00ff" stroke-width="6.5" stroke-linecap="round"/>
<line x1="1501.9" y1="791.2" x2="1583.1" y2="791.2" stroke="#0000ff" stroke-width="6.5" stroke-linecap="round"/>
<text transform="translate(1373.8 803.2) scale(1 1.05)" font-size="34" font-weight="bold" font-family="'Liberation Sans', Arial, sans-serif">V<tspan font-size="25" dy="10" letter-spacing="0.5">in</tspan></text>
<text transform="translate(1593.3 803.2) scale(1 1.05)" font-size="34" font-weight="bold" font-family="'Liberation Sans', Arial, sans-serif">V<tspan font-size="25" dy="10" letter-spacing="0.6">out</tspan></text>
<text transform="translate(977.4 761.6)" font-size="49" text-anchor="start" font-weight="bold" font-family="'Liberation Serif', 'Times New Roman', serif" letter-spacing="0.8">(d)</text>
</svg>
</body></html>
